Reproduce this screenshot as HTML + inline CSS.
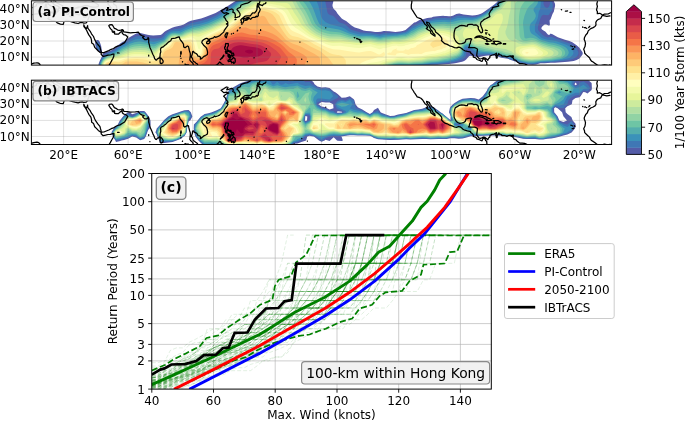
<!DOCTYPE html>
<html><head><meta charset="utf-8"><title>figure</title>
<style>html,body{margin:0;padding:0;background:#fff}svg{display:block}text{font-family:"DejaVu Sans","Liberation Sans",sans-serif;fill:#000}</style></head><body>
<svg width="685" height="421" viewBox="0 0 685 421">
<rect width="685" height="421" fill="#fff"/>
<clipPath id="clipa"><rect x="31.4" y="0.8" width="580.2" height="64.3"/></clipPath>
<g clip-path="url(#clipa)">
<path fill="#545ca8" d="M234.3,1.8 236,0.8 333.4,0.8 333.3,1.8 332.5,4.8 332.5,5.8 332.7,6.8 333.6,8.8 335.9,11.1 337.6,13.8 341.7,18.5 343.2,19.5 346.1,21.1 351.9,25.8 354.8,27.5 359.1,28.8 363.5,30.4 366.4,30.9 370.7,31.3 375.1,31.9 378,32.1 380.9,31.7 383.8,30.9 389.6,31.3 395.4,31.9 399.7,31.6 402.6,30.9 405.5,30.1 414.2,22.5 415.7,22.2 419.9,19.8 421.5,19.4 422.9,19.3 427.3,18.1 431.6,17.4 433.1,16.8 437.4,16.2 443.2,15.8 444.7,16.1 446.1,16 449,16.3 450.5,16.2 451.9,15.9 453.4,15.4 456.3,13.9 459.2,13.6 463.5,14.4 472.2,15.4 475.1,15.3 478,14.7 480.9,13.7 482.4,13 486.7,10.1 494,4.8 496.9,2.2 498.1,0.8 553.6,0.8 555,3.8 555.1,5.8 553.8,11.8 552.6,13.8 550.5,19.5 549.9,19.8 549.6,20.8 549.9,24.8 549.1,25.8 546.2,24.6 544.7,24.6 543.3,25.5 541.8,27.1 541.5,27.8 541.4,28.8 542.3,29.8 545.5,31.8 547.6,34.3 548.3,34.8 549.1,35 549.5,34.8 550.5,33.5 550.7,33.8 552,34.1 557.8,37.2 565,39.7 569.4,41 572.3,42.2 576.6,45.3 579.4,47.8 582.2,51.8 582.7,52.8 582.7,53.8 582.4,54.8 579.5,58.5 576.6,60.1 573.7,61 567.9,61.7 554.9,62.7 550.5,62.7 544.7,63.2 540.4,63.2 536,64.4 532.7,64.8 527.3,64.6 521.5,63.6 517.2,62.2 507.7,58.8 501.2,57.8 495.4,55.8 492.5,55.6 488.2,55.5 483.8,55.9 479.5,57.1 476.6,56.9 470.8,55.7 469.3,56.1 466.4,59.3 465,60.6 463.5,61.3 462.1,61.7 456.3,63 453.4,63.5 449,64 437.5,64.8 98.3,64.8 99.8,60.8 102.2,55.8 102.7,53.8 103.9,52.8 109.7,51.1 112.4,49.8 117,45.9 119.9,43.7 122.8,41.8 124.2,41.2 130,36.9 135.8,33.7 137.3,33.2 138.7,33 140.2,33.1 147.4,34.8 150.3,35.3 153.2,35.4 160.5,35.1 161.9,34.2 164.5,31.8 166,30.8 172.1,27.7 175,26.7 180.8,25.6 183.7,24.4 188.4,21.8 190.9,20.7 201.1,18.4 205.4,17.1 215.6,13.1 228.6,5.5 234.3,1.8ZM548.9,30.8 549.1,30.7 549.3,30.8 549.1,31.6 548.9,30.8ZM95.9,40.8 96.7,40 98.1,40 99,40.8 99.7,41.8 101.1,45.8 101.9,50.8 101.9,51.8 101,52.6 99.6,52.4 98.1,51.5 96.3,48.8 95.6,46.8 95.2,43.8 95.3,41.8 95.9,40.8Z"/>
<path fill="#3f77b5" d="M236.8,1.8 238.5,0.8 325.3,0.8 325.5,2.8 326.4,6.8 327.2,11.6 327.6,12.8 328.3,13.8 328.7,14.2 330.1,14.9 333,15.7 334.5,16.9 336.8,19.8 338.8,21.9 340.3,22.8 343.2,23.6 344.6,24.3 346.1,25.3 350.4,29.3 351.9,29.9 360.6,32.5 370.7,33 378,34.1 379.4,34.2 380.9,34 383.8,33.2 395.4,33.1 396.8,33.2 400.1,32.8 404.1,31.9 405.5,31.7 407,30.8 412.8,26 413.5,25.8 415.1,24.8 415.7,24.7 419.3,22.8 420,22.2 421.5,21.8 424.4,21.4 425.8,20.6 431.6,19.4 434.5,18.6 437.4,18.2 444.7,17.9 447.6,18.2 450.5,18.2 452.4,17.8 457.7,15.8 459.2,15.7 472.2,16.9 473.7,16.9 476.6,16.4 480.9,14.9 483,13.8 485.3,12.3 495.4,4.9 497.5,2.8 499.1,0.8 543.7,0.8 543.5,1.8 543.5,3.8 543.7,4.8 544.7,6.8 546.2,7.8 547.6,7.8 548.8,6.8 549.4,5.8 550,3.8 550.5,0.8 551.2,1.8 552,2.3 552.8,4.8 552.9,5.8 552,10.8 550.1,12.8 549.1,14.8 547.6,15.2 543.3,14.8 541.7,15.8 540.4,18.6 538.2,25.8 537.8,27.8 537.9,28.8 538.1,29.8 538.6,30.8 542.3,34.8 544.7,36.4 546.2,37.1 547.6,37.4 549.1,37.2 550.5,36.7 552,37 556.3,38.7 559.9,39.8 563.6,41.5 569.4,43.4 570.8,44.1 574.5,46.8 576.7,48.8 578.2,51.8 578.5,52.8 578.4,53.8 577.4,55.8 576.5,56.8 575.3,57.8 573.4,58.8 570.1,59.8 563.6,60.8 560.7,61 554.9,61.8 544.7,62.4 540.4,62.5 534.6,63.9 531.7,64.1 528.8,64 525.9,63.6 521.5,62.7 518.6,61.9 508.5,58.2 502.7,57.1 498.5,55.8 495.4,55.1 491.1,54.6 488.2,54.5 482.4,54.7 478,55.3 475.3,54.8 473.8,53.8 469.4,49.8 467.9,49 466.4,49.3 466.2,49.8 466.2,54.8 465.5,56.8 464.7,57.8 463.5,58.7 462.1,59.4 456.3,61.5 451.9,62.4 438.9,63.9 428.6,64.8 99,64.8 100.1,61.8 101.6,58.8 104.7,54.8 105.4,54.2 106.8,53.4 113.3,50.8 121.1,44.8 124.8,42.8 130,39.3 134.4,37.1 135.8,36.5 138.7,35.9 141.6,36.2 147.4,37.8 151.8,38.5 157.6,38.4 160.5,38.1 161.5,37.8 163.4,36.3 165.4,33.8 166.5,32.8 167.9,31.8 170.6,30.3 173.5,29.4 175,29.1 178.2,28.8 180.8,28.2 183.7,27 189.5,23.9 190.9,23.3 199.6,21.3 205.4,19.7 208.3,18.7 215.6,15.7 219,13.8 230.1,6.5 236.8,1.8ZM96.5,41.8 96.7,41.6 98.1,41.6 99.6,44 100,45.8 100.3,48.8 100.2,49.8 99.6,50.6 98.1,49.7 96.7,47.1 96.4,45.8 96.3,43.8 96.5,41.8Z"/>
<path fill="#3b92b9" d="M239.1,1.8 241,0.8 316.5,0.8 318.5,6 321.2,16.8 322.9,19.4 324.3,21 325.8,22.2 330.1,24.2 341.7,27.2 344.6,28.6 349,31.4 351.9,32.4 357.7,34 360.6,34.5 366.4,34.5 370.7,34.7 375.1,35.2 379.4,35.9 380.9,35.8 383.8,35.1 395.4,34.4 396.8,34.5 405.5,33.1 408,31.8 412.8,28.2 414.2,27.8 418.6,25.2 421.5,24.1 424.4,23.5 425.8,22.7 430.2,21.6 431.6,21 436,20.3 440.3,20 444.7,20 449,20.3 450.5,20.2 451.9,20 457.7,18.1 459.2,17.9 465,17.9 472.2,18.4 473.7,18.3 476.6,17.7 480.9,16 485.3,13.5 495.4,6.2 498.3,3.3 500.1,0.8 541,0.8 540.5,6.8 540.2,8.8 538.8,11.8 538.1,16.8 537.6,18.8 535,24.8 534.9,29.8 535.2,31.8 535.9,32.8 541.8,37.9 544.7,39 547.6,39.8 552,40.2 556.3,41.1 566.2,44.8 568.2,45.8 569.7,46.8 571.6,48.8 572.7,50.8 573.4,52.8 573.3,53.8 572.8,54.8 570.8,57 569.4,57.9 563.6,59.6 553.4,61.1 540.4,61.9 534.6,63.1 531.7,63.3 528.8,63.2 525.9,62.8 520.1,61.5 509.9,57.7 508.5,57.3 504.1,56.7 499.8,55.2 496.9,54.5 489.6,53.5 480.9,53.2 479.5,53.3 478,53.1 476.6,52.5 474.4,50.8 469.3,47.4 467.9,46.7 466.4,46.5 465.7,46.8 465,47.4 464.8,47.8 464.4,49.8 464.2,53.8 463.4,55.8 462.1,57.1 457.7,59.4 453.5,60.8 447.6,61.9 437.4,63.2 431.6,63.6 421.5,64.8 99.7,64.8 100.8,61.8 102.5,58.8 103.9,57.2 106.7,54.8 108.7,53.8 114.3,51.8 115.5,51.1 121.3,46.5 125.7,44.3 128.6,42.4 131.5,40.9 135.8,39.3 138.7,38.8 141.6,39.1 150.3,41.3 153.2,41.7 156.1,41.3 161.9,39.8 163.6,38.8 165.9,35.8 167.7,33.9 170.6,32.1 173.5,31.3 179.3,31 180.8,30.6 190.9,25.8 193.8,24.9 199.6,23.8 206.9,21.7 209.8,20.6 217,17.3 221.1,14.8 231.5,7.3 236,3.8 239.1,1.8Z"/>
<path fill="#54aead" d="M241.7,1.8 243.6,0.8 308.6,0.8 310.7,3.8 312.7,7.6 314.4,11.8 316.9,18.8 318.5,22.2 320,24.7 321.4,25.5 324.3,26.8 327.2,27.6 338.8,29.6 341.7,30.4 349.6,33.8 357.7,35.9 360.6,36.2 366.4,36 372.2,36.3 379.4,37.4 380.9,37.4 383.8,36.7 395.4,35.7 396.8,35.8 404.1,34.6 405.5,34.5 408.4,33.2 411.3,31 412.2,30.8 418.6,27.3 424.4,25.1 431.6,22.7 434.5,22.6 436,22.3 440.3,22 444.7,21.8 449,22.3 453,21.8 457.7,20.6 460.6,20.1 465,19.8 472.2,19.9 473.7,19.8 476.6,19.1 480.9,17.2 485.2,14.8 491.9,9.8 494.9,7.8 498.3,4.7 499.9,2.8 501.1,0.8 538.3,0.8 537.5,3.7 536.8,4.8 536,6 534.3,7.8 533.7,8.8 533.6,9.8 533.7,10.8 535.4,13.8 535.8,15.8 535.7,16.8 534.6,19.2 533.1,21 531.3,22.8 530.5,23.8 530.1,24.8 529.7,26.8 529.7,28.8 530,30.8 530.9,32.8 531.8,33.8 536,36.3 539.3,38.8 541.8,40.1 549.1,42.3 553.4,42.8 556.3,43.5 562.1,45.6 564.6,46.8 566.1,47.8 567.1,48.8 568.3,50.8 568.6,51.8 568.8,52.8 568.5,53.8 567.4,55.8 566.2,56.8 564.3,57.8 562.1,58.7 552,60.4 540.4,61.3 533.1,62.4 528.8,62.4 524.4,61.7 520.1,60.7 509.9,56.7 504.2,55.8 499.8,54.2 498.3,53.8 495.4,53.5 491.1,52.6 483.8,52 478,51 469.3,45.9 467.9,45.3 466.4,45.2 465,45.6 464.1,46.8 463.5,48.6 462.9,52.8 462,54.8 461.1,55.8 459.7,56.8 456.3,58.6 453.4,59.5 447.6,60.9 437.4,62.3 431.6,62.8 422.9,63.9 420,64.1 409.9,64.7 401.2,64.5 396.1,64.8 100.2,64.8 101.4,61.8 102.5,59.8 103.9,58.2 106.8,55.9 109.7,54.4 115.5,52.5 122.8,47.4 125.7,46.2 130,43.8 134.4,42.2 138.7,41.5 140.2,41.5 144.5,42.2 151.8,44.1 153.2,44.3 154.7,44.1 156.1,43.6 163.4,40.6 164.8,39.4 167.7,35.7 169.2,34.4 170.6,33.5 172.1,33 173.5,32.8 179.3,32.8 180.8,32.5 185.1,30.3 192.4,27.4 195.3,26.7 199.6,25.9 208.3,23.3 218.2,18.8 221.4,16.9 227.2,12.6 233,8.2 238.2,3.8 241.7,1.8Z"/>
<path fill="#6ec5a5" d="M244.8,1.8 246.4,0.8 302.5,0.8 305.9,4.8 308.4,8.8 310.4,12.8 314.2,21.8 315.3,23.8 316.9,25.8 318,26.8 321.4,28.9 324.3,30.1 330.1,31.5 335.9,31.9 340.3,32.4 349,35.5 357.7,37.4 360.6,37.7 366.4,37.3 370.7,37.4 373.6,37.7 379.4,38.7 380.9,38.7 383.8,38.1 395.4,37 396.8,37 404.1,35.9 405.5,35.9 408.4,34.7 411.3,32.9 412.8,32.5 418.6,29.2 430.2,24.8 440.3,23.9 444.7,23.8 447.6,24.3 451.9,24.1 454.8,23.7 460.6,22.4 465,21.7 472.2,21.4 475.1,21 476.6,20.5 479.5,19.2 485.3,16 488.2,14 492.2,10.8 497.7,6.8 500.4,3.8 502.3,0.8 535,0.8 533.1,2.9 529.7,5.8 527.4,8.8 526.4,10.8 524.4,16.1 523.3,20.8 523,23.8 524.5,37.8 525.9,38.4 530.2,37.7 533.1,38 536,39.1 541.8,41.9 547.6,43.8 554.9,45.2 559.2,46.6 561.6,47.8 564.1,49.8 565.1,51.8 565.2,52.8 565.1,53.8 564.7,54.8 564,55.8 562.1,57.3 560.7,57.9 550.5,59.8 544.7,60.2 533.1,61.6 528.8,61.6 524.4,60.9 520.1,59.8 509.9,55.7 504.4,54.8 498.3,52.8 495.4,52.5 489.6,51.3 485.3,50.9 480.9,50 479.5,49.4 478,49.2 475.1,47.8 469.3,44.6 467.9,44.1 466.4,44.1 465,44.4 463.5,45.8 462.8,47.8 462,51.8 461.7,52.8 460.6,54.4 458.9,55.8 454.8,57.8 447.6,59.7 446.1,59.8 437.4,61.4 430.2,62 421.5,63.3 409.9,64 399.7,63.7 395.4,64.1 392,64.8 100.7,64.8 101.9,61.8 103.2,59.8 104.1,58.8 106.8,56.8 109.7,55.4 115.5,53.7 117.2,52.8 122.8,49.2 131.5,45.3 134.4,44.5 138.7,43.9 140.2,43.9 146,44.6 151.8,46.3 153.2,46.5 154.7,46.2 159.2,43.8 163.5,41.8 164.8,40.8 167.7,37.3 169.1,35.8 170.6,34.7 172.1,34.1 175,33.8 179.3,34.2 180.8,34 182.2,33.4 185.1,31.8 188,30.6 193.8,28.8 199.6,27.7 201.1,27.3 208.3,25.1 211.2,23.9 219.7,19.8 221.4,18.8 233,10.2 239,4.8 240.2,4 244.8,1.8Z"/>
<path fill="#91d3a4" d="M248.1,1.8 249.4,0.8 298.7,0.8 300.6,3.8 304,8.6 305.9,11.8 308.5,16.8 311.3,23.1 312.3,24.8 315.6,28.2 320,31.2 322.9,32.3 327.2,33.5 331.6,34.2 335.9,34.3 340.3,34.7 349,37.2 357.7,38.8 360.6,39 366.4,38.6 370.7,38.6 378,39.8 380.9,39.9 383.8,39.4 385.2,39.4 393.9,38.3 398.3,38.1 404.1,37.2 405.5,37.2 409.3,35.8 412.8,34.2 418.6,30.8 424.4,28.8 428.7,26.9 430.2,26.5 436,25.9 443.2,25.6 447.6,26.2 453.4,26.1 456.3,25.7 462.1,24 465,23.4 467.9,23.1 473.7,22.8 475.1,22.6 478,21.4 486,16.8 488.2,15.4 492.5,11.8 497,8.8 499.3,6.8 500.2,5.8 501.7,3.8 503.5,0.8 525.1,0.8 522.2,4.8 520.6,7.8 519.8,10.8 519.1,15.8 518.8,21.8 519.3,29.8 519.5,34.8 519.8,36.8 520.9,38.8 521.9,39.8 523,40.4 524.4,40.8 525.9,40.9 531.7,40.1 534.6,40.5 536,40.9 541.8,43.5 544.7,44.5 549.1,45.9 553.4,46.7 556.3,47.7 559.2,48.9 560.7,50 561.4,50.8 561.9,51.8 562.1,53.8 561.8,54.8 561.3,55.8 560.7,56.4 559.7,56.8 551.1,58.8 544.7,59.4 540.4,60.1 533.1,60.8 528.8,60.8 524.4,60.1 521.5,59.4 518.6,58.4 511.4,55 509.9,54.5 505.6,53.9 501.2,52.3 498.3,51.6 495.4,51.4 491.1,50.3 485.3,49.3 482.4,48.6 479.5,47.7 478,47.6 475.1,46.5 469.3,43.3 467.9,42.9 466.4,42.9 465,43.2 463.5,44.2 463,44.8 462.2,46.8 461,51.8 460.5,52.8 459.5,53.8 458.2,54.8 456.3,55.8 450.5,57.8 446.4,58.8 444.7,59 437.4,60.5 430.2,61.1 421.5,62.5 414.2,62.8 408.4,63.3 402.6,62.9 398.3,63 393.9,63.6 389.3,64.8 101.2,64.8 102,62.8 103.1,60.8 103.9,59.8 106.8,57.6 109.7,56.3 117,54.1 124.2,50 130,47.7 134.4,46.6 140.2,46.1 146,46.5 151.8,48.2 153.2,48.4 154.7,48.1 156.1,47.4 159.7,44.8 164.8,42 166.3,40.6 169.5,36.8 170.6,35.9 172.1,35.2 175,34.7 179.3,35.2 180.8,35.2 182.2,34.7 185.1,33.1 188,31.9 193.8,30.3 201.1,28.9 211.2,25.5 222.5,19.8 234.4,11.1 240.2,5.7 246,3 248.1,1.8Z"/>
<path fill="#b1dfa3" d="M251.5,1.8 252.9,0.8 295.6,0.8 298.2,5.8 303.9,14.8 308.8,24.8 309.8,26 313.9,29.8 316.7,31.8 318.5,32.8 322.9,34.7 328.7,36.2 331.6,36.6 337.4,36.5 340.3,36.8 349,38.7 356.2,40 360.6,40.2 367.8,39.7 370.7,39.7 378,41 380.9,41.1 383.8,40.7 385.2,40.8 392.5,39.6 398.3,39.4 405.5,38.6 412.8,35.9 418.6,32.5 424.4,30.5 427.3,29.1 431.6,28 437.4,27.5 443.2,27.4 444.7,27.7 450.5,28.3 454.8,28.4 457.7,27.8 462.4,25.8 465,25 467.9,24.6 472.2,24.5 475.1,24.2 476.6,23.7 479.5,22.3 483.1,19.8 488.2,16.9 493,12.8 499.1,8.8 500.2,7.8 501.9,5.8 505.1,0.8 517.7,0.8 515.5,2.8 515.1,3.8 514.9,5.8 514.1,20.8 514.8,37.8 515.4,38.8 520.8,41.8 523,42.5 525.9,42.7 531.7,41.9 534.6,42.2 536,42.6 541.8,45.2 544.7,46.2 553.5,48.8 557,50.8 557.8,51.5 558.1,51.8 558.5,52.8 558.4,53.8 557.8,54.9 553.6,56.8 550.5,57.9 546.2,58.3 538.9,59.5 531.7,60.1 527.3,59.8 523,59 519.6,57.8 514.3,55.2 511.4,53.6 508.5,52.7 505.6,52.3 501.2,50.7 495.4,50 480.9,46.3 479.5,46 478,46.1 475.1,45.2 470.8,42.5 469.3,41.9 467.9,41.7 466.4,41.7 465,41.9 463.5,42.6 462.4,43.8 461.6,45.8 460.3,50.8 459.2,52.6 457.7,53.7 456.3,54.4 450.5,56.5 446.1,57.6 444.7,57.7 437.4,59.3 428.7,60.2 421.5,61.6 414.2,62 408.4,62.5 402.6,62 398.3,62.1 391,63.4 389.6,63.8 387,64.8 101.7,64.8 102.5,62.8 103.7,60.8 105.4,59.2 106.8,58.4 109.7,57.1 117.8,54.8 122,52.8 124.2,51.6 128.6,49.8 132.9,48.7 140.2,48 146,48.3 150.3,49.7 151.8,50 153.2,50.1 154.7,49.8 156.1,49 160.1,45.8 165.1,42.8 166.3,41.8 169.7,37.8 170.6,37 172.1,36.1 173.5,35.7 175,35.5 179.3,36.1 180.8,36.1 182.2,35.8 186.6,33.6 189.5,32.5 201.1,30.4 205.4,29.1 211.2,27 223.5,20.8 236.2,11.8 238.5,9.8 240.4,7.8 241.7,6.8 248.6,3.8 251.5,1.8Z"/>
<path fill="#cdeb9d" d="M255.4,1.8 258.3,0.8 292.1,0.8 295.6,7.8 301.1,16.3 304.3,22.8 306.3,25.8 310.4,29.8 312.9,31.8 317.1,34.4 321.4,36.3 327.2,38 330.1,38.6 340.3,38.8 356.2,41.4 362,41.5 369.3,40.8 370.7,40.8 376.5,42.1 380.9,42.4 386.7,41.9 392.5,40.7 396.8,40.8 399.7,40.7 407,39.3 412.8,37.6 415.7,36.2 417.1,34.9 420,33.6 427.3,30.9 431.6,29.8 437.4,29.1 443.2,29.2 454.8,31 456.3,31 459.2,30.5 460.6,29.7 462.6,27.8 465,26.6 466.4,26.3 472.2,26.2 475.1,25.8 478,25 480.2,23.8 483.9,20.8 487.7,18.8 489.3,17.8 494,13.6 500.7,9.8 501.8,8.8 504.1,5.5 508.1,0.8 511.3,0.8 510.8,2.8 510.9,7.8 510.5,9.8 509.1,15.8 507.8,23.8 506.7,27.8 505.6,30.8 505.4,31.8 505.6,33.8 506.9,36.8 508.2,38.8 509.5,39.8 511.6,40.8 515.7,42.1 518.6,43.4 521.5,44.2 523,44.4 525.9,44.3 531.7,43.6 533.1,43.6 536,44.3 543.3,47.4 550.5,49.8 552.2,50.8 553.2,51.8 553.7,52.8 553.5,53.8 552.8,54.8 551.6,55.8 550.5,56.3 549.1,56.8 544.7,57.4 540.4,58.5 531.7,59.2 528.8,59.1 525.9,58.8 523,58.1 519.8,56.8 514.4,53.8 511.4,51.3 509.6,50.8 505.6,49.1 501.2,48.4 495.4,47.8 491.4,46.8 483.8,44.5 480.9,44.2 479.5,44.1 478,44.3 476.6,44.1 475.1,43.7 470.8,40.8 469.3,40.3 467.9,40.2 465,40.4 463.5,40.7 462.1,41.6 461.3,42.8 461,43.8 460.4,46.8 459.5,49.8 459.1,50.8 457.7,52.2 453.4,54 447.6,55.8 436,58.3 434.5,58.3 428.7,59.1 421.5,60.6 414.2,61 408.4,61.6 401.2,61 396.8,61.3 388.1,63.2 384.9,64.8 102.2,64.8 103,62.8 103.9,61.3 105.4,59.9 106.8,59.1 109.7,57.9 118.4,55.7 128.6,51.4 132.9,50.5 140.2,50 146,50.3 150.3,51.6 151.8,51.8 153.2,51.7 154.7,51.3 156.1,50.6 160.5,46.7 166.3,42.9 169.9,38.8 172.1,37 173.5,36.5 175,36.3 179.3,36.9 180.8,37 181.8,36.8 189.5,33.5 190.9,33.2 196.7,32.7 199.6,32.2 205.4,30.6 211.2,28.4 214.1,27.1 224.5,21.8 237.7,12.8 243.1,8.2 246,6.8 248.9,5.7 255.4,1.8Z"/>
<path fill="#e7f59a" d="M263.4,1.8 266.3,1.5 269.2,1.5 279.4,2.8 286.6,3 288.1,3.5 289.5,4.8 291,6.9 294.2,12.8 298.2,18.6 301,23.8 302.7,25.8 305.8,28.8 310.7,32.8 315.6,35.8 320,37.8 327.2,40 330.1,40.5 333,40.8 340.3,40.6 356.2,43 363.5,42.9 369.3,42.2 370.7,42.2 375.1,43.3 378,43.7 385.2,43.6 386.7,43.5 392.5,42.1 398.3,42.2 404.1,41.6 412.8,39.3 415.7,38 417.1,37.1 421.5,34.8 427.3,32.7 430.2,31.9 431.6,31.5 437.4,30.8 443.2,31 449,32.1 451.7,32.8 455.8,34.8 457.7,36.2 458.6,37.8 459.4,40.8 459.5,44.8 459.2,47.5 457.7,50.2 456.3,51.1 444.7,55.2 443.2,55.2 436,56.9 434.5,56.9 427.3,58.1 421.5,59.5 415.7,59.8 408.4,60.6 401.2,59.9 396.8,60.3 393.9,61 388.1,62.1 386.7,62.5 383.9,63.8 382.5,64.8 102.7,64.8 104.1,61.8 105.4,60.5 106.8,59.7 109.7,58.7 118.4,56.8 130,52.8 134.4,52.1 138.7,51.9 144.5,52.1 148.9,53.2 151.8,53.7 153.2,53.6 154.7,53.1 156.1,52.2 157.6,50.9 160.5,47.9 161.8,46.8 166.5,43.8 167.7,42.7 170.6,39.2 172.4,37.8 173.5,37.3 175,37.1 179.3,37.7 180.8,37.8 182.2,37.6 185.1,36.6 189.5,34.6 190.9,34.3 195.3,34.4 198.2,34.2 202.5,33.1 206.9,31.6 214.1,28.5 225.7,22.8 233,17.7 238.8,14.1 243.1,10.4 245.6,8.8 250.4,6.8 254.7,4.2 256.2,3.5 259.1,2.6 263.4,1.8ZM497.6,13.8 499.8,13.6 501.2,13.6 501.5,13.8 502.3,14.8 502.7,15.8 502.9,18.8 502.3,21.8 501.2,24.5 499,28.8 498.3,30.8 497.6,36.8 497.6,41.8 497.4,42.8 496.4,43.8 495.4,44.1 494,43.8 492.5,43.1 489.6,42.3 486.7,41.5 485.3,41.4 480.9,41.2 479.5,41.3 478,41.9 476.6,41.9 475.1,41.4 473.6,39.8 472.2,38.8 470.8,38.2 469.3,38 465,38.2 464.1,37.8 463.4,36.8 462.8,33.8 463.3,31.8 465,28.7 466.4,28.3 472.2,28.7 473.7,28.5 475.1,28 478,27.7 479.5,27.2 482.4,25.4 485.3,22.3 489.6,20 491.1,18.9 495.4,14.7 497.6,13.8ZM526.5,45.8 530.2,45.2 533.1,45.1 536,45.8 546.1,50.8 547.5,51.8 548.1,52.8 548,53.8 547.1,54.8 542.5,56.8 540.4,57.5 538.9,57.8 534.6,58.1 528.8,58.2 525.3,57.8 522.3,56.8 520.3,55.8 517.5,53.8 516.3,52.8 515.6,51.8 515.3,49.8 515.5,48.8 516.1,47.8 517.2,47 520.1,46.3 526.5,45.8Z"/>
<path fill="#f3faac" d="M262.2,3.8 266.3,3.4 270.7,3.8 280.7,5.8 283.7,6.7 285.2,7.4 286.6,8.5 288.1,10.2 292.4,17.8 297.4,24.8 305.7,31.8 309.8,34.8 313.4,36.8 318,38.8 325.8,41.6 328.7,42.4 333,43.1 340.3,42.7 344.6,43.5 350.4,44 353.3,44.6 356.2,45 363.5,44.7 369.3,44 370.7,44 376.5,45.4 380.9,45.6 383.8,45.3 385.2,45.6 393.9,43.6 399.7,43.9 404.1,43.5 414,40.8 415.7,40.1 417.1,39.1 422.9,36.4 425.8,35.1 428.7,34.2 431.6,33.4 433.1,33.4 436,32.8 438.9,32.7 443.2,32.9 446.1,33.5 449,34.5 451.9,35.9 454.1,37.8 456.3,40.8 457.6,43.8 457.7,44.8 457.7,46.2 457,47.8 456,48.8 454,49.8 450.5,51 444.7,53.4 443.2,53.4 441.8,54 436,55.3 427.3,56.6 421.5,58 415.7,58.5 408.4,59.4 401.2,58.6 396.8,59 393.9,59.9 388.1,60.7 385.2,61.5 382.3,62.7 378.6,64.8 103.3,64.8 104.1,62.8 105.4,61.2 106.8,60.4 108.3,59.8 111.2,59.2 117,58.3 131.5,54.3 134.4,53.9 140.2,53.9 144.5,54.2 147.4,54.9 151.8,55.5 153.2,55.6 154.7,55.3 156.1,54.2 161.9,47.9 167.7,43.9 171.2,39.8 172.1,39 173.5,38.1 175,37.8 179.3,38.4 182.2,38.4 185.1,37.7 189.5,35.9 190.9,35.7 192.4,35.7 196.7,36.6 198.2,36.7 199.6,36.5 214.1,30 219.9,27 226.8,23.8 228.6,22.7 233.8,18.8 240.2,15 244.6,11.3 247.1,9.8 250.4,8.3 256.2,5.3 259.1,4.4 262.2,3.8ZM530.5,46.8 533.1,46.7 534.6,46.9 536.8,47.8 541.3,50.8 542.5,51.8 543.1,52.8 543.1,53.8 542.3,54.8 540.9,55.8 538.9,56.5 534.6,57 527.3,57 524.4,56.6 522.7,55.8 521.2,54.8 519.5,52.8 519.1,51.8 519.2,50.8 519.6,49.8 520.9,48.8 523.8,47.8 530.5,46.8Z"/>
<path fill="#fffebe" d="M260.1,5.8 264.9,5.3 267.8,5.5 275,6.9 279.4,8.5 282,9.8 284.5,11.8 286,13.8 289.5,20.8 291.2,23.8 293,25.8 295.3,27.7 299.7,30.4 305.8,34.8 309.8,37.3 317.1,40.3 320,41.1 325.8,44 330.1,45.5 333,45.9 340.3,45.8 354.8,47.7 359.1,48.1 360.6,48 369.3,46.5 370.7,46.4 379.4,49.2 380.9,49 383.8,47.7 385.2,48.2 392.5,46.1 395.4,45.7 396.8,45.5 398.3,46.2 401.2,46.2 404.1,45.9 405.5,45.2 407,45 411.3,43.8 412.8,43.7 414.2,43.3 415.7,42.7 417.1,41.5 420,40.3 425,37.8 430.4,35.8 431.6,35.4 436,34.8 438.9,34.7 443.2,35 444.7,35.4 447.6,36.5 450,37.8 451,38.8 453,41.8 453.8,43.8 453.8,44.8 453.4,46.2 451.4,47.8 445.5,50.8 444.7,51.2 443.2,51.2 441.8,52 434.5,53.8 433.1,53.7 428.7,54.4 421.5,56.3 414.2,57 408.4,58 402.6,57 398.3,57 396.8,57.3 393.9,58.4 392.5,58.7 386.7,59.1 385.2,59.4 383.8,59.7 380.9,60.9 376.5,62.1 369.3,63.1 367.5,63.8 365.7,64.8 103.8,64.8 104.8,62.8 105.4,62 106.8,61.1 108.3,60.6 111.2,60 115.5,59.7 118.4,59.2 124.2,57.6 127.1,57.1 131.5,56 134.4,55.7 140.2,55.8 144.5,56.1 151.8,57.3 154.7,57.3 156.1,56.7 156.9,55.8 160.5,50.8 162.3,48.8 163.4,47.8 168.1,44.8 169.2,43.8 172.3,39.8 173.5,39 175,38.6 182.2,39.3 185.3,38.8 190.9,37.2 192.4,37.6 194.4,38.8 195.6,39.8 196.2,40.8 198.2,48.5 199.6,49.4 200.5,45.8 201.4,39.8 201.8,38.8 203.9,36.8 209.8,33.5 228.6,24.6 230.1,23.6 234.8,19.8 237.3,18.2 240.2,16.8 245.1,12.8 247.5,11.3 256.2,6.9 260.1,5.8ZM528.9,48.8 533.1,48.5 534.9,48.8 536.2,49.8 537.9,51.8 538.3,52.8 538.1,53.8 536.4,54.8 534.6,55.2 530.2,55.7 527.3,55.8 525.9,55.7 524.4,55.2 523.6,54.8 522.5,53.8 522,52.8 522,51.8 523,50.5 524.4,49.7 528.9,48.8Z"/>
<path fill="#fff0a6" d="M258.1,7.8 262,7.1 264.9,7.1 266.3,7.3 273.6,9 276,9.8 278,10.8 280.9,12.8 282.8,14.8 283.9,16.8 288.1,25.8 290.1,28.8 291,29.7 292.3,30.8 294.2,31.8 299.7,34.1 306.9,38.1 318.5,43.2 327.2,47.5 333,49.3 335.9,49.6 340.3,49.7 347.5,51.1 356.2,52.3 359.1,52.4 366.4,51.3 370.7,51.1 373.6,52 378,54.2 379.4,54.4 380.9,54.1 383.8,52 384.5,52.8 384.9,53.8 385,54.8 384.7,55.8 382.3,57.1 378,57 373.3,58.8 366.4,60.4 361.4,62.8 358.9,64.8 104.5,64.8 105.5,62.8 106.8,61.9 108.3,61.4 112.4,60.8 118.4,60.5 121.3,59.9 125.7,58.5 131.5,57.6 135.8,57.3 143.1,57.6 146,58 151.8,59.1 153.2,59.1 156.1,58.4 157.2,57.8 158.2,56.8 161.2,51.8 163.4,49.1 164.8,48 168.6,45.8 170.5,43.8 172.6,40.8 173.5,40 175,39.5 176.4,39.5 182.2,40.3 190.9,39.3 191.7,39.8 192.8,40.8 193.8,42.8 194.5,44.8 195.5,49.8 196.6,52.8 198.2,54.3 199.6,54.8 201.1,53.8 201.5,52.8 203.3,41.8 204.1,39.8 204.7,38.8 205.7,37.8 208.3,36 212.4,33.8 230.1,25.5 235.9,20.7 237.3,19.7 242.5,16.8 247.5,13 255.6,8.8 258.1,7.8ZM436.5,36.8 438.9,36.7 443.2,37.5 445.5,38.8 447.6,40.8 448.6,42.8 448.6,43.8 448.2,44.8 447.5,45.8 446.5,46.8 444.7,48 443.2,48.2 441.8,49.3 437.4,50.1 434.5,51.3 433.1,51.1 425.8,51.9 424.4,52.4 421.5,53.9 420,54.1 418.6,53.8 411.3,53.9 409.9,54.2 409.2,54.8 408.4,55.1 407.6,54.8 407,54.2 404.1,53.4 402.6,53.1 399.7,53.1 398.3,53.2 396.8,53.5 395.4,55.4 392.5,55.3 387.8,54.8 386.9,53.8 388.6,52.8 389.6,52.6 391,52.7 392.2,50.8 393.4,49.8 396.8,48.5 397.1,48.8 396.4,49.8 396.8,50.3 399.7,50.7 402.6,50.8 404.1,50.6 405.5,49.2 407,49.7 408.4,49.7 411.3,47.9 412.8,48.1 415.7,47.1 417.1,44.9 418.6,44.6 425.8,40.4 431.6,37.9 436.5,36.8ZM525.2,52.8 525.9,52.2 527.3,51.9 528.9,52.8 527.3,53.4 525.9,53.5 525.2,52.8Z"/>
<path fill="#fee18d" d="M261.4,8.8 263.4,8.8 264.9,9 271.9,10.8 274.2,11.8 275.9,12.8 278.6,14.8 279.4,15.8 283.1,23.8 286.3,29.8 289.2,33.8 291,35.3 292.4,35.9 298.2,37.3 309.8,41.6 314.2,44.2 321.4,47.9 330.1,53.3 333,54.2 337.4,55.1 338.8,55.1 340.3,55.4 341.2,55.8 342.8,56.8 343.9,57.8 345.4,59.8 345.7,60.8 346,64.8 105.2,64.8 105.8,63.8 106.8,62.8 108.3,62.3 109.7,62 114.1,61.8 115.5,61.8 117,62.1 118.4,62.2 119.9,62 121.3,61.7 125.7,59.9 127.1,59.6 137.3,58.9 146,59.8 148.9,60.7 151.8,61.4 153.2,61.3 156.1,60.4 157.6,59.8 158.8,58.8 159.7,57.8 160.8,55.8 162.1,52.8 163.4,50.8 164.8,49.4 168.1,47.8 169.6,46.8 171.4,44.8 173.5,41.4 175,40.5 177.9,40.7 182.2,41.5 189.5,41.7 190.9,42.1 192.4,44.6 193.8,50.8 195.3,54 196.7,55.4 198.2,56 199.6,56.2 200.8,55.8 201.9,54.8 202.6,53.8 202.9,52.8 204.3,44.8 205.1,41.8 206.1,39.8 206.9,38.8 208.2,37.8 215.6,33.8 230.1,27.3 232.3,25.8 238.1,20.8 243.6,17.8 248.9,13.9 257.6,9.6 259.1,9.1 261.4,8.8ZM435.8,39.8 437.4,39.4 438.9,39.6 441,40.8 442,41.8 442.2,42.8 442.1,43.8 441.5,44.8 440.3,45.5 434.5,47.2 433.1,47.9 431.6,46.2 430.8,45.8 430.3,44.8 430.4,43.8 432.1,41.8 433.1,40.9 435.8,39.8Z"/>
<path fill="#feca79" d="M260.1,10.8 262.7,10.8 267.8,12 270.7,13.2 272.8,14.8 275.2,17.8 278.9,24.8 282.8,30.8 286.3,35.8 288.1,37.8 289.5,38.8 291,39.3 295.3,40.2 299.7,40.7 301.1,41.3 306,43.8 311,46.8 320,51 329.1,58.8 331.6,62.6 333.5,64.8 157.9,64.8 160.5,61.6 161.5,59.8 162.6,56.8 163.5,53.8 164.5,51.8 166.3,50.6 170.6,48.8 172,47.8 172.8,46.8 174.7,42.8 175,42.5 176.4,42 177.9,42.1 182.2,43.1 186.6,43.8 189.5,44.7 190.5,45.8 190.9,46.5 191.9,50.8 192.7,52.8 193.7,54.8 194.6,55.8 196.1,56.8 198.2,57.4 199.6,57.3 201.1,56.9 202.6,55.8 203.8,53.8 204.4,51.8 205.6,44.8 206.2,42.8 207.2,40.8 209.1,38.8 217,34.6 227.2,30.4 231.5,28.3 235,25.8 239.4,21.8 245.4,18.8 249,15.8 257.6,11.7 260.1,10.8ZM125.6,61.8 127.1,61.4 131.5,61.6 137.3,61.4 143.1,62.6 150.5,64.8 119.2,64.8 121.3,64.3 122.8,63.7 125.6,61.8ZM107.2,63.8 108.3,63.3 109.7,63.1 111.2,63.1 112.6,63.4 115.5,64.6 116.5,64.8 106.2,64.8 106.8,64 107.2,63.8Z"/>
<path fill="#fdb365" d="M261.7,15.8 262,15.7 263.4,15.9 265,16.8 266.3,18.4 268.6,22.8 270.1,24.8 273.6,27.2 276.5,29.8 280.8,34.1 284.8,38.8 286.6,40.4 292.4,43.6 298.2,45.5 301.1,46.7 308.4,50.8 314.3,53.8 318.8,56.8 319.6,57.8 320,58.8 320,64.8 178.6,64.8 178.9,61.8 180,54.8 180.3,53.8 181.1,52.8 182.2,50.2 183.7,48.6 185.1,48.3 186.6,48.6 188,49.7 189.5,51.4 191.8,55.8 192.7,56.8 194,57.8 195.3,58.3 198.2,58.6 201.1,58.1 201.8,57.8 203.3,56.8 204.1,55.8 204.7,54.8 205.3,52.8 206.5,46.8 207.3,43.8 208.3,41.7 209.8,40 219.9,34.8 227.2,32.2 232.6,29.8 235.8,27.8 238.3,25.8 240.2,24 241.7,23.1 248.9,20.8 250.2,19.8 251.8,17.7 254.3,16.8 256.2,16.4 257.6,16.2 260.5,16.4 261.7,15.8ZM108,64.8 109.7,64.5 111.4,64.8 108,64.8Z"/>
<path fill="#fa9656" d="M242.1,27.8 243.1,27.5 244.6,27.4 246,27.6 250.4,29.3 251.8,29.6 259.1,29.7 263.4,30.5 267.8,31.8 272.1,33.6 275,35 277.9,37 289.5,47.3 291,48.3 299.7,52.4 303.7,54.8 306.2,56.8 306.9,57.8 307.2,58.8 304.7,64.8 185.9,64.8 188,60.4 189.5,59.9 193.8,60.4 198.2,60.1 202.5,58.9 204,57.9 204.9,56.8 205.9,54.8 208.3,44.8 209.8,42.3 211.2,41.1 219.9,36.8 230.1,33.3 234.4,31.4 238.8,29.1 242.1,27.8Z"/>
<path fill="#f57547" d="M239.3,32.8 241.7,32.6 243.1,32.7 250.4,34.8 254.7,35.1 264.9,36.4 269.2,37.7 275,40.2 280.8,44 283.9,46.8 288.1,51.3 289.5,52.6 292.7,54.8 295,56.8 296.5,58.8 296.8,59.8 296.8,61.8 296.4,64.8 192.5,64.8 193.8,63.9 195.3,63.2 198.2,62.4 202.5,60.7 204,60 205.4,58.7 206,57.8 206.9,55.8 208.3,49.5 209.5,45.8 210,44.8 211.2,43.5 212.7,42.5 217,40.6 220.3,38.8 222.8,37.8 226.1,36.8 230.1,35.9 235.9,33.7 239.3,32.8Z"/>
<path fill="#e95c47" d="M235.8,36.8 238.8,36.5 243.1,36.7 262,39.5 266.3,40.6 273.6,43.8 279.4,47.2 280.8,48.5 287.3,56.8 287.8,57.8 288,58.8 287.9,59.8 287,62.8 286,64.8 199.9,64.8 204,62.9 205.4,61.8 206.9,60.2 208,57.8 208.7,54.8 209.2,51.8 209.8,49.6 211.2,46.9 212.7,45.5 214.1,44.7 219.9,42.8 222.8,40.7 225.7,39.4 235.8,36.8Z"/>
<path fill="#da464d" d="M234.2,39.8 237.3,39.5 244.6,39.8 250.4,40.8 259.1,41.9 262,42.6 264.9,43.5 269.2,45.6 276.4,50.8 279.4,54.1 280.6,55.8 281,56.8 280.9,57.8 276.6,64.8 210,64.8 210.6,61.8 210.9,54.8 211.2,52.8 211.6,51.8 212.7,50.3 214.1,49.3 215.6,48.9 218.5,48.6 219.9,47.5 220.4,46.8 224.1,43.8 227.2,41.8 230.1,40.5 234.2,39.8Z"/>
<path fill="#c52c4b" d="M234.2,42.8 238.8,42.3 243.1,42.4 250.4,43.8 257.6,44.6 261.7,45.8 263.9,46.8 265.5,47.8 270.7,52.7 271.1,53.8 271.1,54.8 270.8,55.8 268.9,58.8 267.8,60.1 266.3,61 263.4,61.7 256.9,62.8 249.9,64.8 240.1,64.8 229.1,61.8 227.2,60.8 226.1,59.8 225.2,57.8 224.8,55.8 224.7,53.8 224.8,51.8 225.1,49.8 226,47.8 227.6,45.8 229.1,44.8 231.2,43.8 234.2,42.8Z"/>
<path fill="#ab0f45" d="M237.2,45.8 240.2,45.2 241.7,45.3 250.4,46.8 254.7,47.2 257.6,47.8 260.3,48.8 261.7,49.8 262.5,50.8 263,51.8 263.1,52.8 262.7,53.8 261.8,54.8 259.1,56.2 256.2,57.1 253.3,57.3 250.4,56.8 247.5,57.4 244.6,57.6 243.1,57.4 240.2,56.7 235.9,56.4 234.4,56.2 233,55.6 231.5,54.5 230.5,52.8 230.5,51.8 231.2,49.8 232.8,47.8 234.4,46.8 237.2,45.8Z"/>
<path fill="#9e0142" d="M248.1,49.8 250.4,49.8 251.8,50.3 252.7,50.8 253.1,51.8 252.5,52.8 250.4,53.5 248.9,53.5 247.5,53.1 246.6,52.8 245.1,51.8 245.2,50.8 248.1,49.8Z"/>
<path d="M63.6,0.8V65.1M128.1,0.8V65.1M192.6,0.8V65.1M257.0,0.8V65.1M321.5,0.8V65.1M386.0,0.8V65.1M450.4,0.8V65.1M514.9,0.8V65.1M579.4,0.8V65.1M31.4,57.1H611.6M31.4,41.0H611.6M31.4,24.9H611.6M31.4,8.8H611.6" stroke="#808080" stroke-opacity="0.35" stroke-width="0.7" fill="none"/>
<path d="M87.6,25.7 87.8,28.1 90.2,31.3 91.5,33.8 93.5,36.5 94.6,39.4 95.9,41.8 97.8,44.5 99.9,46.9 100.5,49.3 101.2,51.8 101.5,52.7 103.9,52.6 106.3,51.6 108.8,50.6 111.2,49.3 113.6,48.5 115.5,47.1 117.6,46.1 120,45.5 122.5,43.9 124.6,42.6 126,40.2 127.8,37 125.8,35.2 123.6,34.6 122.3,33.3 122.1,31 121.7,31.5 120.4,32.3 118.4,34.2 116,34.2 114.6,33.9 114.6,31.7 113.9,31.2 113.3,32.6 112.3,31.7 112.1,30.2 110.7,28.9 109.6,27.3 108.8,25.7 109.6,24.9 111.2,24.6 112.3,24.9 113.3,26.5 114.4,28.3 116,28.9 117.6,30.1 119.2,30.4 120.8,30.1 122.3,29.6 123.3,30.2 123.8,32 125.7,32.1 127.3,32.3 130.5,32.8 132.9,32.6 135.4,32.5 138.3,32.1 139.1,33.1 140.2,34.6 141.3,35.2 142.3,35.8 144.2,36.3 142.9,37.1 142.6,37.5 144.7,39.5 146.6,39.5 147.8,38.9 148.1,37.5 148.7,38.6 148.7,41 148.7,42.6 149.4,45 149.9,47.4 151,49.8 152,52.2 152.8,54.2 153.9,56.3 154.7,58.7 155.8,60 156.5,60.1 157.4,58.8 158.9,58.2 160,56.6 160.2,53.8 160.8,51.8 160.5,49 161.3,47.6 163.6,46.6 164.2,45.8 166,44.5 168.4,42.1 170.8,40.7 171.6,38.6 173.6,38.3 175.3,38.1 177.3,37.3 178.9,36.8 179.4,37.3 180,39.4 181.3,41 182.6,42.6 183.5,44.2 183.7,46.9 185,47.7 186.1,46.9 187.4,46 188.5,46.5 188.9,48.5 189.5,51 190.3,53.5 190.3,55.8 190,57.9 189.8,60 190.6,61.1 191.8,62.2 192.9,63.2 193.2,64.6 193.5,66.2 194,67.5M198.2,67.5 198,65.9 197.4,64.1 196.1,63.2 194.7,62 193.4,61.4 192.7,59.5 192.4,58.2 191.3,57.1 191.8,55.5 192.4,53.8 192.6,51.6 193.5,51.4 194.2,52.7 196.1,53.5 197.2,54.5 198,56.1 199.8,56.4 200.6,57.9 200.3,59.2 201.3,58.7 202.9,57.4 203.9,56.4 205.8,55.6 207.4,54.5 207.6,52.2 207.1,49.8 206.6,48.2 205.5,46.9 203.9,45.6 202.9,44.2 201.8,42.6 202.2,41 203.5,39.7 204.7,39.1 206.3,38.3 207.9,38.6 208.4,40.3 209.3,40.5 209.5,39.1 211.1,38.6 213.5,37.8 214.5,36.6 215.5,37.3 217.6,36.6 219.6,35.7 221.6,33.9 223.7,32.1 224.5,30.1 225.9,28.1 227.4,26.2 228,24.9 226.4,23.9 227.9,23.3 227.7,22 226.1,20.4 225.3,18.5 223.7,16.9 225.3,15.3 227.2,14 228.8,13.7 226.7,12.7 224,13.3 223,12.5 221.1,10.8 222.4,10.1 224,9.2 226.4,7.6 228,8 226.7,10.4 228.5,10 231.7,9 232.9,9.5 233.3,11.2 232.7,12.1 234.6,12.9 235.3,14.5 235.3,16.4 235,17.7 236.9,17.4 239.3,16.7 240.1,15.3 240,13.7 238.5,11.2 236.9,9.6 237.7,8.5 240.4,7.2 240.9,5.3 242.5,4.5 245,3.7 247.4,3.2 249.8,1.9 251.4,0.5 253.8,-1.6M83.8,24.9 83.9,26.5 85.4,28.4 86.7,30.5 87.8,32.9 88.8,34.9 90.9,37.8 91.5,40.2 91.7,42.9 93.6,44.2 94.7,47.4 96.4,49 98.3,51 100.2,52.4 101.2,53 101.2,54.5 103.1,56.3 105.5,55.8 108,55.1 110.4,55 112.8,54.2 113.9,54 113.8,56.3 113,58.3 111.7,60.6 110.4,63 109.1,65.1 107.6,67M83.8,24.9 84.9,27.3 86.5,28.4 87.3,26.8 87.6,25.7M602.7,15.4 606.8,16.4 610,15.9M33,14.5 36.2,13.8 39.5,14 43.5,13.5 47.2,13.2 48,14 49.1,13.8 48.5,15.6 49.1,17.7 47.8,18.5 49.1,19.4 51.5,20.3 55.6,21.1 57.2,22.8 60.4,24.1 63.3,24.3 64,21.7 66.1,20.3 68.5,20.7 71.7,22 74.9,22.8 78.1,23.5 80.2,22.7 82.2,22.5 83.8,23.1 86.2,22.8 87.5,21.2 88.1,19.3 89.1,16.9 89.4,14.8 89.6,14.1 87.8,14.3 85.4,15.1 83,14.8 80.7,14 78.9,14.9 76.5,14.1 75.4,13.7 74.9,12.1 74.1,11.1 74.6,9.6 73.6,8.8 75.7,8.2 78.1,8 78.1,7.1 81.4,6.9 84.6,5.6 87.8,5.6 90.2,6.7 92.6,7.2 95.9,7.2 98.3,6.4 98.3,4.8 95.9,3.2 93.5,1.9 91.8,0.8M597.4,1.6 596.8,4 597.4,6.4 596.5,10 597.4,11.6 597.3,13.7 599.7,13.3 601.5,14.3 602.6,15.3 604.4,14.1 608.1,14 610.5,12.7M32.7,7.6 36.4,5.8 36.4,4 38.7,3.4 41.9,3.9 43.5,2.7 45.6,1.8 47.8,2.6 48.3,4.2 51.1,6.1 53.6,6.9 56.5,8.8 57.2,10.8 56.7,12.2 58,11.4 59,10.4 58,9.3 58.8,8 61.2,8.7 61.1,9.2 60.2,7.7 57.2,5.8 54.3,4.8 53.2,3.1 51.2,1.9 51.2,0.3M53.3,-0.2 53.5,0.8 54.4,0.3 55.6,1.6 57.2,3.2 59.6,4.2 61.2,5 62.7,5.9 62.7,8.4 64,9.6 65.4,11.6 66.4,14 67.7,14.5 68.5,14.3 68.8,12.9 70.1,12.5 69.3,11.2 68.3,10 68,8.2 69.3,8.5 70.1,7.6 73.3,7.6 73.6,8.4 75.4,8 78.1,7.1M51.5,12.1 56.5,11.7 55.7,14.1 51.5,12.7 51.5,12.1M44.6,7.2 47,6.9 46.9,10.1 44.9,10.4 44.6,7.2M45.3,4.2 46.7,4 46.5,6.4 45.4,6.3 45.3,4.2M83.5,16.9 84.6,16.4 87,15.9 86.2,16.9 84.6,17.5 83.5,16.9M69.4,16.1 73.8,16.4 71.4,17 69.4,16.1M108,0.8 108,4 109.6,5.9 111.2,8 110.4,10.4 110.4,12.7 112.8,13.7 115.2,14 118.4,13.8 118.1,10.4 116.8,8.8 116.5,6.4 116,5.6 113.6,4 113.9,1.6 116.8,0.3M602.7,15.4 601.9,16.1 600.7,18.5 597.9,19.6 596.6,20.9 595.8,22.5 596,24.9 595,26.5 593.1,27.6 590.7,28.6 588.2,30.9 587.4,33.3 585.8,35 584.4,37.8 584.2,39.4 585,41.3 585.5,43.4 585,46.6 583.7,49.3 584.5,51.4 584.7,53.2 586.6,55.1 587.9,56.3 589.5,57.7 590.3,59.5 591.5,61.1 593.1,62 594.7,63.2 596.6,64.6 598.7,65.9 599.5,66.2 601.9,65.4 604.4,64.8 606.8,65.1 608.4,65.6 610,64.8M31.9,63.8 33.8,63.2 35.4,63 37,62.8 38.7,63.2 39.8,64.3 40.4,65.7 41.9,66.2 43.5,65.9 45.1,65.7 45.7,66.2 46.7,67M160,57.5 160.8,57.9 162.3,59.5 163.2,61.1 162.9,62.7 161.3,63.6 160.3,63.2 160,61.1 160.2,59.5 160,57.5M206.6,42.3 207.9,41 209.8,41 210.3,41.6 209.3,43.2 207.9,43.9 206.6,43.4 206.6,42.3M226.4,32.9 227.9,32.9 227.2,34.6 226.3,37.8 225.1,36.5 225,35.4 226.4,32.9M241.2,22.8 241.4,20.9 240.6,20.1 241.7,18.8 242.5,18.2 245,16.2 247.4,15.9 250.3,15.9 251.7,14 252.7,12.9 254.6,13 256.2,11.2 257,9.2 257,7.6 258.6,6.4 259.5,8 260.3,9.6 259.5,11.6 258.6,12.9 258.2,14.9 258.3,15.7 257,16.9 256.7,16.1 255.7,16.6 255.1,17.4 253.8,17.4 252.2,17.5 251.9,18 250.6,19.3 249.3,18.5 249,17.5 247.4,17.7 245.8,18.2 244.1,18.6 242.5,18.5 243.7,19.6 243.8,20.9 243,22.7 242,23.3 241.2,22.8M245,20.1 246.6,19.3 248.2,18.2 248.5,18.8 247.7,19.6 245.8,20.4 245,20.1M257,6.4 257.5,4.8 257.8,3.5 259.1,3.7 259.8,1.8 259.9,0.2M265.9,2.4 265.6,3.5 263.5,4.2 262.4,5.6 259.9,4.7 258.6,5.1 257.7,5.6 257,6.4M225.8,43.4 228.3,43.6 228.3,45.8 227.2,47.7 227.4,49.8 228.8,50.6 230.9,51 231.3,52.9 230.1,52.2 228.8,51.4 227.2,51.1 225.9,51 225.8,49.8 224.8,49 224.6,47.1 225.4,46.6 225.4,45 225.8,43.4M233.5,57.4 235,58.7 235.3,61.1 234.8,62.7 233.7,63.5 233.3,61.9 231.6,63 231.3,61.4 230.1,61.1 228.3,61.6 228,60.3 229.6,59.5 230.9,60 232.5,58.8 233.5,57.4M231.7,53 233.3,53 234,55.1 232.9,55.5 232.9,56.7 232.5,55.8 231.9,54.7 231.7,53M228,54.2 229.6,54.7 229,56.3 228,56.3 228,54.2M229.5,55.6 230.4,55.8 230,58.3 228.8,57.4 229.5,55.6M230.4,55.5 231.3,55.5 230.6,57.7 230.3,56.6 230.4,55.5M220.3,59.6 222.4,57.9 224,55.8 223.7,55 222.4,57.1 220.3,59.6M225.4,51.6 226.9,51.8 227.1,53.4 226.1,53.4 225.4,51.6M210.3,69.1 211.9,68.3 213.5,66.7 215.1,65.7 216.7,65.1 217.6,64.3 218.7,63.2 219.6,61.9 220.8,62.7 221.1,63.7 222.4,64.3 223.5,64.8 221.9,65.9 221.3,66.7 221.6,68.3M186.1,68.3 185.3,65.4 185,64.1 186.1,64.6 188.5,64.8 189.3,66.2 190.6,67.5M360.2,40.7 361.8,41.5 360.8,42.6 360.2,41.8 360.2,40.7M359.1,39.5 360.2,39.7 359.5,40 359.1,39.5M356.6,38.4 357.4,38.7 357,38.9 356.6,38.4M354.2,37.6 354.9,37.6 354.5,37.9 354.2,37.6M358.3,39.1 358.9,39.2M411.9,-0.8 411.8,2.4 411.3,4.8 411.3,8.2 412.1,9.6 413.7,12.1 414.3,13.2 415.1,14.3 417.2,17.5 419.8,18.3 420.9,18.8 422.7,20.6 423.7,22.2 425,24.3 426.9,25.7 427.6,27.8 426.3,28.4 427.9,29.7 430.6,31.3 430.8,33.3 433.8,35.5 435.1,36.2 434.8,34.6 433.2,33.3 432.1,31 430.6,29.3 429.8,27.5 428.7,25.7 426.8,23.3 426.6,22 429.2,23 430.3,25.2 431.9,27.3 433.4,28.3 435.1,30.2 435.6,32 437.9,33.8 440,35.7 441.6,37.8 441.9,39.4 441.4,40.5 443.2,42.3 444.8,43.7 447.2,44.4 449.6,45.8 452.1,46.5 454.5,47.6 456.9,47.9 458.5,47.1 460.1,47.4 461.7,48.5 463,49.8 464.9,50.8 467.4,51.4 469.8,51.9 470.6,52.2 470.6,53 472.2,54.2 473.3,55.5 473.3,57.1 474.6,57.4 476.2,58.2 476.9,59.5 478.2,60 479.5,60.3 481.1,61.1 482,61.4 482.7,59.8 483.5,58.7 485.1,59.5 485.6,61.1 486.7,61.9 486.9,64.3 487,66.7 487.2,68.3M505.2,0.8 503.6,1.3 500.4,2.4 498.5,3.1 497.7,4.5 498.8,5.9 497.8,6.3 496.4,6.6 494,7.1 492.3,7.9 492.2,9.3 490.7,10.8 489.8,12.5 489.1,13.8 489.4,15.3 489.9,16.6 488.3,17.4 486.2,18.5 484.3,19.3 482.7,20.7 481.1,22 480.4,24.1 481.2,26.5 482,28.4 482.7,30.5 482.2,32.5 481.1,32.8 479.8,31.3 478.3,28.9 478.3,26.8 476.7,25.1 475.4,24.9 473.8,25.2 472.2,24.3 469.8,24.4 467.8,24.6 467.4,26.2 465.8,26.2 464.1,25.7 461.7,25.4 459.3,25.9 457.7,27 455.3,28.4 454.6,30.5 454.1,32.9 454,35.4 454.1,37.8 455,39.7 456.4,42.1 457.7,43.1 459.3,43.9 461.7,43.6 463.7,43.2 465.4,41.8 465.9,39.7 468.2,38.9 470.6,38.6 471.7,39.1 470.7,41 470.4,43.4 469.5,44.5 469.3,46.6 468.5,47.6 470.1,47.7 473,47.6 474.6,47.6 476.6,48.5 477.5,49.2 477.2,51.4 476.9,53.8 476.7,55.5 477.8,57.1 479.1,58.7 480.3,59 481.9,58.5 483.5,57.7 485.1,58 486.7,59.3 487.8,60.3 488.5,58.7 489.8,57.7 489.9,56.1 491.1,55.5 492.3,55 494,54.7 495.6,53.8 496.4,53.2 496.7,54.3 495.7,55.5 496.2,56.6 496.4,58.2 497.2,57.9 497.2,55.8 498.5,54.7 498.8,53.5 499.4,54.7 501.2,55.1 502,56.1 504.4,56.1 506.9,56.9 508.5,56.3 510.1,55.9 511.7,56.1 510.9,56.7 512.5,57.4 513.6,58.7 514.1,59.8 515.7,60.1 517.3,61.9 518.9,63 519.7,63.7 522.2,63.7 524.6,64 526.2,64.6 527.8,65.7 528.6,66.4 529.4,67.5M474.8,37.9 476.2,36.6 477.8,36.2 479.5,35.8 481.9,36.2 483.5,37 485.9,37.3 487.5,38.4 489.9,39.4 492,40.7 490.7,41.1 486.4,41.3 487.2,40.2 485.1,39.4 482.7,38.1 480.3,37.5 478.6,37 477,37.5 474.8,37.9M491.7,43.6 493.5,43.9 494.8,43.9 496.4,44.7 498,43.7 500.4,43.7 501.4,43.2 499.9,42.1 498,41.3 496.1,41.3 494,41.1 493.3,41.6 494.3,42.1 494.4,43.2 491.7,43.6M485.4,43.7 487.5,43.4 488.8,44.2 487.2,44.5 485.4,43.7M503.3,43.6 505.7,43.6 505.6,44.2 503.3,44.2 503.3,43.6M512,55.9 513.3,55.8 513.3,56.9 512,56.9 512,55.9M485.3,30.2 487.2,30.5 486.1,30.4M485.6,32.8 486.2,34.2 485.9,33.6M486.7,32.9 487,32.8M488.8,34.2 489.9,35.4M492.8,39.2 493.8,38.9M582.6,27 582.9,27.3M584.4,27.6 585.5,27.5M586.1,28.1 586.8,28.3M588.7,27.5 589.2,27M589.4,26.5 589.9,26.2M583.9,20.4 584.5,20.6M561.3,9.6 561.6,9.8M565.4,11.1 566.5,11.2 567.6,10.9M570,12.4 571,12.4M570.8,45.8 571.3,46M572.4,46.5 572.9,46.5M573.4,48.7 573.7,49 573.6,49.1M572.1,49.2 572.4,49.3M574.7,46.3 574.9,47.3M264.6,51.6 264.9,51.3M266.2,48.9 266.4,48.7M248.2,61.2 248.3,60.9M254,57.9 254.1,57.7M276.1,61.2 276.2,61.1M286.4,62 286.5,61.9M294.1,64.6 294.2,64.5M299.9,42.1 300,42.1M307.3,61.7 307.5,61.7M301.7,59.2 301.8,59.1M325.7,27.8 325.8,27.8M260.6,29.6 260.6,30.4M259.1,33.3 259.2,33.4M237.7,30.2 237.2,31M240.1,27.6 239.8,28M241.7,24.3 241.9,24.4M231.6,33.9 231.4,34M233.3,33.3 233.5,33.4M235.3,19.3 235.9,19.4 235,19.8 235.3,19.3M117.5,52.9 119.1,53M181,51.4 181.3,53 180.8,54.5 180.6,53 181,51.4M180.5,55.8 180.4,56.3M182.6,61.6 182.4,62M181,58.3 180.9,58.4M149.9,62.2 149.9,62.3M149.2,66.4 149.2,66.3M148.7,56.1 148.7,55.1" stroke="#000" stroke-width="1.25" fill="none" stroke-linejoin="round" stroke-linecap="round"/>
</g>
<rect x="31.4" y="0.8" width="580.2" height="64.3" fill="none" stroke="#000" stroke-width="1"/>
<rect x="33.0" y="2.0" width="100.4" height="19.5" rx="3" ry="3" fill="#f0f0f0" fill-opacity="0.93" stroke="#858585" stroke-width="1.2"/>
<text x="37.5" y="15.5" font-size="12.2" font-weight="bold" fill="#000">(a) PI-Control</text>
<text x="29.8" y="61.1" font-size="12" text-anchor="end" fill="#000">10°N</text>
<text x="29.8" y="45.0" font-size="12" text-anchor="end" fill="#000">20°N</text>
<text x="29.8" y="28.9" font-size="12" text-anchor="end" fill="#000">30°N</text>
<text x="29.8" y="12.8" font-size="12" text-anchor="end" fill="#000">40°N</text>
<clipPath id="clipb"><rect x="31.4" y="80.2" width="580.2" height="64.3"/></clipPath>
<g clip-path="url(#clipb)">
<path fill="#545ca8" d="M238.5,84.2 241,83.1 245,81.7 249.5,80.2 311.3,80.2 313.5,82.3 314.6,84.2 317.5,86.4 321.6,87.5 325.6,87.2 329.6,87.9 333.7,91.5 335.3,92.3 337.7,94.1 341.7,97.7 345.7,97.6 349.8,96.3 353.8,99.2 354.4,100.3 355.5,104.3 357.8,107.2 359.7,108.3 361.9,109.3 366.7,112.3 369.9,113.9 372.6,112.3 374,110 378,107.8 378.2,108.3 380.6,112.3 382,113.1 386,114.5 390.1,116.1 394.1,115.8 398.1,114.5 402.2,113.8 406.2,112.9 408.1,112.3 414.3,109.9 418.3,109.4 422.3,108.7 423.5,108.3 426.3,107.2 430.4,106.1 434.4,107.8 435.1,108.3 438.4,110.5 440.5,112.3 442.5,113.4 446,116.4 450.5,119.9 450.7,116.4 450.5,115.7 449,112.3 449.8,108.3 450.5,106.8 453,104.3 454.6,102.9 458.6,100.5 462.6,98.7 470.7,98 474.7,98.3 478.7,99.5 482.8,96.3 485.8,92.3 486.8,90.7 487.9,88.2 490.8,84.9 492.3,84.2 494.9,82.1 497.8,80.2 588.4,80.2 591.6,83.1 591.7,84.2 591.9,88.2 591.6,89.9 587.5,93.5 585.2,92.3 583.5,91.9 583.1,92.3 580.6,96.3 579.5,97.3 575.5,98.1 572.5,100.3 571.8,104.3 567.4,106.2 565.2,108.3 565.7,112.3 567.4,113.9 570.7,116.4 571.4,117.1 572.7,120.4 575.5,123.7 575.6,124.4 575.5,126.6 575,128.4 571.6,132.4 567.4,134.4 563.4,135.5 559.3,136.8 555.3,137.8 551.3,138.5 547.2,138.8 543.2,139.4 539.2,139.5 535.2,138.9 527.1,139.1 523.1,138.7 515,137.1 513.1,136.5 511,136 506.9,136 502.9,135.7 490.8,135.4 482.8,135.7 474.7,135.9 470.7,136.3 466.6,137.6 462.6,138.6 458.6,138.7 454.6,138.2 450.5,138.3 446.5,138.9 442.5,139.1 438.4,139.1 430.4,139.3 426.3,139.1 422.3,139 410.2,139.4 406.2,139.3 402.2,139.6 398.1,139.8 390.1,139.9 382,139.6 378,139.3 374,138.1 371.6,136.5 369.9,135.7 365.9,135.5 361.9,135.4 357.8,135.5 353.8,135.3 349.8,135.3 345.7,135.7 341.1,136.5 341.7,136.9 342.9,140.5 341.7,141 337.7,140.7 337,140.5 333.7,137.3 329.6,140.9 325.6,139.8 324.6,140.5 321.6,141.8 319,140.5 313.8,136.5 313.5,136.4 309.5,135.8 307.3,136.5 306.1,140.5 305.4,140.8 301.4,141.9 297.4,143.4 293.4,143.7 292.5,144.5 202.6,144.5 200.7,142.8 198.4,140.5 195.4,136.5 194.2,132.4 193.7,128.4 193.9,124.4 196.6,121.7 197.6,120.4 200.7,116.8 204.7,113.9 208.7,113.2 211.8,112.3 216.8,110.3 220.8,108.2 223.2,104.3 224.8,101.2 225.4,100.3 226.7,96.3 227.9,92.3 228.9,90.3 232,88.2 232.9,87.4 236.9,85.2 238.5,84.2ZM305.4,116 305.3,116.4 305,120.4 305.4,121 307,120.4 307.3,116.4 305.4,116ZM321.6,102 318.3,104.3 321.6,106.5 325.6,107.3 327,108.3 329.6,109.4 333.5,108.3 333.2,104.3 329.6,102.6 325.6,102.4 321.6,102ZM337.7,111.3 336.7,112.3 337.7,112.7 341.7,112.6 342.4,112.3 341.7,111.8 337.7,111.3ZM458.6,124.4 458.2,124.4 458.6,124.5 458.8,124.4 458.6,124.4ZM555.3,107.2 554.1,108.3 554.2,112.3 555.3,113.5 557.7,116.4 559.3,120.4 563.4,121.9 567,120.4 563.4,116.2 562.1,112.3 557.6,108.3 555.3,107.2ZM575.5,82.6 574.5,84.2 575.5,85.2 577,84.2 575.5,82.6ZM127.9,112.3 128.1,112.2 129.8,112.3 132.2,114.2 136.2,113.1 140.2,111.1 144.2,110.9 145.6,112.3 148.8,116.4 150.5,120.4 150.6,124.4 149.6,128.4 148.3,129.8 147.2,132.4 145.8,136.5 144.2,139 140.2,140.2 136.2,137.4 132.2,136.6 128.1,138.8 124.1,140 121.5,140.5 120.1,141 116,141.9 115.4,140.5 112.8,136.5 111.5,132.4 112,131.2 113.8,128.4 116,126.3 117.8,124.4 119.8,120.4 123.1,116.4 124.1,115.3 127.9,112.3ZM178.7,112.3 180.5,111.6 184.5,110.2 188.6,110 190.8,112.3 192.4,116.4 190.3,120.4 188.6,121.2 187.1,128.4 186.6,132.4 184.5,135.9 183.7,136.5 180.5,139.1 172.5,142.1 168.4,142.5 164.4,143 160.4,143.3 159.2,140.5 156.3,133.6 155.4,132.4 156.3,130 156.7,128.4 160.4,124.4 164.4,119.7 168.4,116.3 172.5,114.2 178.7,112.3Z"/>
<path fill="#3f77b5" d="M240.5,84.2 245,82.5 249,81.6 252.2,80.2 260.9,80.2 261.1,80.3 261.4,80.2 287.7,80.2 289.3,81.4 293.4,80.7 294.4,80.2 303.2,80.2 305.4,82.2 309.5,82 311.8,84.2 313.5,85 317.5,87.7 320.2,88.2 321.6,88.7 323.8,88.2 325.6,88.1 326.5,88.2 329.6,89.4 333.1,92.3 333.7,93.2 337.7,95.8 338.2,96.3 337.7,98.1 333.7,99.7 333.1,100.3 329.6,101.4 325.6,101.2 321.6,100.8 317.5,102.2 316.9,104.3 317.5,105.1 321.6,107.8 323.5,108.3 325.6,108.7 329.6,110.5 333.7,111 334.6,112.3 337.7,113.4 341.7,113.1 344.2,112.3 341.7,110.4 337.7,109.3 336.4,108.3 334.8,104.3 337.7,100.8 341.7,99.4 345.7,100.4 349.8,98.2 353.8,100.3 354.5,104.3 356,108.3 357.8,108.7 361.9,110.3 365.1,112.3 369.9,114.6 373.9,112.3 374,112.3 378,110.5 378.9,112.3 382,114 386,115.3 388.7,116.4 390.1,116.7 394.1,116.5 394.8,116.4 398.1,115.2 402.2,114.5 406.2,113.6 410.2,112.4 414.3,110.5 422.3,109.5 426.3,108.1 430.4,107 434.4,108.6 438.4,111.3 439.6,112.3 442.5,113.8 445.5,116.4 446.5,117.1 450.1,120.4 450.5,120.6 451.4,120.4 451,116.4 450.5,114.2 449.7,112.3 450.2,108.3 450.5,107.7 454.6,103.7 458.6,101.2 460.9,100.3 462.6,99.5 466.6,99.1 470.7,98.8 474.7,99.2 478.7,100.5 482.8,97.5 483.8,96.3 486.8,91.8 488.4,88.2 490.8,85.4 493.5,84.2 494.9,83.1 499.3,80.2 576.3,80.2 575.5,80.3 573.1,84.2 575.5,86.5 579.3,84.2 579.5,82.8 583.5,81.5 587.6,84.2 590.5,88.2 587.5,90.9 583.5,90.5 581.5,92.3 579.5,94.8 575.5,95.6 573.5,96.3 571.4,97.4 568.5,100.3 567.3,104.3 563.4,107.9 559.3,108.1 555.3,106.2 553.1,108.3 553.3,112.3 555.3,114.5 556.9,116.4 558.6,120.4 559.3,121.7 563.4,123.5 567,124.4 567.4,124.6 571.4,121.1 574,124.4 573.6,128.4 571.4,131 569.5,132.4 567.4,133.4 563.4,134.4 559.3,136 555.3,137 551.3,137.7 547.2,138.2 543.2,138.9 539.2,139 535.2,138.3 527.1,138.5 523.1,138.2 515.5,136.5 511,135.6 506.9,135.6 502.9,135.2 490.8,135 482.8,135.3 478.7,135.4 474.7,135.2 470.7,135.6 462.6,137.9 458.6,138 454.6,137.5 450.5,137.6 446.5,138.4 442.5,138.6 438.4,138.5 430.4,138.8 426.3,138.6 422.3,138.4 410.2,139 406.2,138.8 402.2,139.1 398.1,139.3 394.1,139.2 390.1,139.4 382,139.1 378,138.8 374,137.4 372.6,136.5 369.9,135.3 361.9,134.9 357.8,135.1 353.8,134.8 349.8,134.8 345.7,135.2 341.7,135.8 337.7,136.2 333.7,136.1 330.1,136.5 329.6,136.7 325.6,138.3 322.6,140.5 321.6,140.9 320.7,140.5 317.5,138.1 315.4,136.5 313.5,135.7 309.5,134.9 305.4,136.1 305,136.5 301.4,140.3 301.1,140.5 297.4,142.3 293.4,142.9 291.7,144.5 203.5,144.5 200.7,141.9 199.2,140.5 196.1,136.5 194.9,132.4 194.2,128.4 194.8,124.4 196.6,122.6 198.3,120.4 200.7,117.6 202.2,116.4 204.7,114.6 208.7,113.8 212.8,112.7 216.8,111 220.8,108.8 221.3,108.3 223.7,104.3 224.8,102.2 226.1,100.3 228.3,92.3 228.9,91.1 232.9,88.7 233.5,88.2 236.9,86.5 240.5,84.2ZM305.4,115.1 304.9,116.4 304.4,120.4 305.4,122.1 309.5,120.4 309.8,116.4 309.5,115.5 305.4,115.1ZM458.6,123.9 455,124.4 458.6,125.1 460.8,124.4 458.6,123.9ZM139.4,112.3 140.2,111.9 144.2,111.9 148.1,116.4 148.3,116.9 149.8,120.4 149.5,124.4 148.2,128.4 146.6,132.4 145.2,136.5 144.2,138 140.2,139.4 136.2,136.5 132.2,135.7 130.7,136.5 128.1,137.9 124.1,139 120.1,139.9 116,140.6 113.4,136.5 112,132.4 114.6,128.4 116,127.1 118.5,124.4 120.5,120.4 124.1,116.1 128.1,113.3 131.3,116.4 132.2,116.6 132.9,116.4 136.2,113.9 139.4,112.3ZM180.6,112.3 184.5,110.9 188.6,110.9 190,112.3 191.5,116.4 188.6,120 186.8,128.4 186.3,132.4 184.5,135.4 183,136.5 180.5,138.6 176.5,140.1 174.9,140.5 172.5,141.4 164.4,142 160.4,142.2 156.3,132.4 157.4,128.4 161.1,124.4 164.4,120.5 168.4,117.2 169.8,116.4 172.5,115 176.5,113.6 180.6,112.3Z"/>
<path fill="#3b92b9" d="M242.5,84.2 245,83.3 249,82.8 253.1,81.1 256.2,80.2 257.7,80.2 261.1,81.8 264.7,80.2 269.4,80.2 272.4,84.2 273.2,84.6 274.2,84.2 277.2,81.8 279.9,84.2 281.3,84.8 283.8,84.2 285.3,82.9 288.6,84.2 289.3,84.3 293.4,83.6 297.4,82.8 299.6,84.2 305.4,86.1 309.5,85.4 313.5,87.2 315.4,88.2 317.5,89.6 321.6,90.6 325.6,90.3 329.6,91.2 330.9,92.3 333.2,96.3 329.6,99.5 325.6,98.9 321.6,98.6 317.5,98.5 316.1,100.3 315.8,104.3 317.5,106.4 320.4,108.3 321.6,108.9 325.6,109.7 329.6,111.6 332,112.3 333.7,112.8 337.7,114.1 341.7,113.7 346,112.3 345.7,111 341.7,108.9 340,108.3 337.7,107.1 336.1,104.3 337.7,102.4 341.7,101.1 345.7,101.9 349.8,100.1 350.2,100.3 352.6,104.3 349.8,108.3 353.8,109.8 361.9,111.4 363.4,112.3 365.9,113.4 369.9,115.3 374,113.1 378,112.8 382,114.9 386,116.1 386.8,116.4 390.1,117.2 394.1,117.1 396.9,116.4 398.1,116 402.2,115.2 406.2,114.2 410.2,112.9 411.7,112.3 414.3,111.2 422.3,110.2 430.4,107.8 434.4,109.4 438.4,112.1 438.8,112.3 442.5,114.3 444.9,116.4 446.5,117.4 449.7,120.4 450.5,120.9 452.3,120.4 450.5,112.8 450.3,112.3 450.7,108.3 454.6,104.4 458.6,101.9 462.6,100.3 466.6,99.8 470.7,99.6 474.7,100.1 478.7,101.3 480.5,100.3 482.8,98.6 484.9,96.3 486.8,93.2 488.9,88.2 490.8,86 494.8,84.2 498.9,81.6 500.8,80.2 571.5,80.2 571.7,84.2 575.5,87.9 579.5,87 583.5,84.8 587.5,87.9 587.8,88.2 587.5,88.5 583.5,89.1 579.8,92.3 579.5,92.7 575.5,92.8 571.4,94.7 567.6,96.3 567.4,96.5 565.5,100.3 563.7,104.3 563.4,104.6 559.3,105.7 555.3,105.2 552.2,108.3 552.4,112.3 555.3,115.4 556.1,116.4 557.9,120.4 559.3,123 562.3,124.4 563.4,125.4 567.4,127 571.4,124.1 571.7,124.4 572.2,128.4 571.4,129.4 567.4,132 567.1,132.4 563.4,133.4 559.3,135.1 553.7,136.5 551.3,136.9 547.2,137.6 543.2,138.4 539.2,138.6 535.2,137.6 531.1,137.7 527.1,138 523.1,137.6 518.8,136.5 515,135.9 511,135.2 506.9,135.2 502.9,134.7 490.8,134.6 482.8,135 478.7,135 474.7,134.5 470.7,134.9 466.6,136 462.6,137.2 458.6,137.3 454.6,136.8 450.5,137 446.5,137.9 442.5,138.1 438.4,137.9 430.4,138.4 426.3,138.1 422.3,137.9 410.2,138.6 406.2,138.3 402.2,138.7 398.1,138.8 394.1,138.6 390.1,138.8 382,138.6 378,138.3 374,136.8 373.5,136.5 369.9,134.9 361.9,134.4 357.8,134.6 353.8,134.3 349.8,134.2 345.7,134.6 341.7,135.3 337.7,135.3 333.7,135 329.6,135.6 326.5,136.5 321.6,138.9 317.5,136.9 317,136.5 313.5,135.1 309.5,134.1 305.4,135.1 303.7,136.5 301.4,138.9 298.7,140.5 297.4,141.1 293.4,142.1 290.8,144.5 213.6,144.5 212.8,144.4 212.2,144.5 204.4,144.5 200,140.5 196.9,136.5 195.5,132.4 194.7,128.4 195.7,124.4 196.6,123.5 198.9,120.4 200.7,118.3 203.2,116.4 204.7,115.3 212.8,113.4 216.8,111.6 220.8,109.3 221.8,108.3 224.3,104.3 224.8,103.2 226.7,100.3 227.6,96.3 228.7,92.3 228.9,91.8 232.9,90.7 235.9,88.2 236.9,87.7 241,85.1 242.5,84.2ZM305.4,114.1 304.4,116.4 303.7,120.4 305.4,123.1 309.5,121.1 310,120.4 310.4,116.4 309.5,114.1 305.4,114.1ZM454.6,123.4 454.3,124.4 454.6,124.9 458.6,125.7 462.6,124.5 462.7,124.4 458.6,123.4 454.6,123.4ZM470.7,128.2 467.9,128.4 470.7,129.1 470.9,128.4 470.7,128.2ZM182.4,112.3 184.5,111.5 188.6,111.7 189.2,112.3 190.5,116.4 188.6,118.8 188.2,120.4 186.6,128.4 186,132.4 184.5,134.9 182.3,136.5 180.5,138 176.5,139.7 172.9,140.5 172.5,140.7 168.4,141 160.4,141.1 156.8,132.4 158,128.4 161.7,124.4 164.4,121.3 165.7,120.4 168.4,118.2 171.3,116.4 172.5,115.7 176.5,114.2 180.5,112.8 182.4,112.3ZM125.2,116.4 128.1,114.4 130.1,116.4 132.2,116.9 134,116.4 136.2,114.7 140.2,112.6 144.2,112.6 147.6,116.4 148.3,118.5 149.1,120.4 148.5,124.4 147.3,128.4 144.6,136.5 144.2,137.1 140.2,138.6 137.3,136.5 136.2,135.4 132.2,134.9 128.1,137 120.1,139 116,139.8 113.9,136.5 112.4,132.4 115.4,128.4 119.2,124.4 120.1,122.6 121.3,120.4 124.1,117.1 125.2,116.4Z"/>
<path fill="#54aead" d="M244.6,84.2 245,84.1 249,84 253.1,82.5 257.1,81.5 261.1,83.3 265.1,82.4 268.4,84.2 273.2,86.2 277.2,85.2 281.3,86.6 285.3,87.2 289.3,86.6 293.4,86.2 297.4,85.5 303,88.2 305.4,89.1 309.5,87.5 311.1,88.2 313.5,90.1 317.5,92.2 318.4,92.3 317.5,92.6 314.3,96.3 313.5,97.8 313.2,100.3 313.5,100.9 314.7,104.3 317.5,107.7 318.5,108.3 321.6,110 325.6,110.6 329.6,112.6 333.7,113.6 337.7,114.7 341.7,114.3 345.7,113.3 347.7,112.3 349.8,110.1 353.8,111.7 356.7,112.3 357.8,112.5 361.9,112.4 365.9,114.1 369.9,116 374,113.8 378,113.8 382,115.9 384,116.4 386,116.7 390.1,117.7 394.1,117.6 398.1,116.6 402.2,115.9 406.2,114.8 410.2,113.4 413.1,112.3 414.3,111.8 418.3,111.3 422.3,110.9 426.3,110 430.4,108.9 434.4,110.2 437.7,112.3 442.5,114.8 444.4,116.4 446.5,117.8 449.3,120.4 450.5,121.1 453.2,120.4 451.6,116.4 450.8,112.3 451.2,108.3 454.6,104.9 455.9,104.3 458.6,102.6 462.6,101 466.6,100.6 470.7,100.4 474.7,100.9 478.7,102.1 482,100.3 482.8,99.7 485.9,96.3 486.8,94.8 489.4,88.2 490.8,86.6 494.9,85.1 496.5,84.2 498.9,82.7 502.3,80.2 559.9,80.2 563.4,80.9 567.4,81.9 570,84.2 571.4,85.9 573.8,88.2 572.1,92.3 567.4,94.8 565.1,96.3 563.4,99.6 559.3,102.5 555.3,104.2 551.3,108.3 550.7,108.3 551.3,109.4 551.4,112.3 555.1,116.4 555.3,116.5 557.2,120.4 559.3,124.3 559.6,124.4 563.4,127.7 564.9,128.4 563.4,131.4 563.2,132.4 559.3,134.3 555.3,135.3 551.3,136 550,136.5 547.2,137 543.2,137.9 539.2,138.1 535.2,137 531.1,137.1 527.1,137.5 523.1,137 519,136 515,135.5 511,134.8 506.9,134.8 502.9,134.3 490.8,134.1 482.8,134.6 478.7,134.6 474.7,133.9 470.7,134.1 466.6,135.2 462.6,136.4 458.6,136.6 454.6,136.2 450.5,136.4 446.5,137.4 442.5,137.6 438.4,137.4 434.4,137.7 430.4,137.9 426.3,137.6 422.3,137.3 410.2,138.2 406.2,137.7 402.2,138.2 398.1,138.4 394.1,138 390.1,138.3 382,138.1 378,137.8 374.6,136.5 374,136.3 369.9,134.5 361.9,133.9 357.8,134.2 353.8,133.8 349.8,133.6 345.7,134.1 341.7,134.7 333.7,134 329.6,134.6 325.6,135.8 321.6,136.3 317.5,135.8 313.5,134.4 309.5,133.3 305.4,134 302.4,136.5 301.4,137.5 297.4,139 296.2,140.5 293.4,141.3 290,144.5 221.8,144.5 220.8,144.2 216.8,143.5 212.8,143.3 208.7,143.5 204.7,143.6 200.7,140.3 197.7,136.5 196.2,132.4 195.2,128.4 196.6,124.4 199.6,120.4 200.7,119.1 204.7,116 212.8,114 216.8,112.3 220.8,109.8 222.3,108.3 227.3,100.3 228,96.3 228.9,93 232.9,92.6 234.6,92.3 236.9,90.7 237.9,88.2 241,86.2 244.6,84.2ZM305.4,113.2 304,116.4 303,120.4 305.4,124.1 309.5,121.8 310.5,120.4 310.9,116.4 309.5,112.6 305.4,113.2ZM454.6,122.2 454,124.4 454.6,125.6 458.6,126.2 462.6,126.8 463.8,124.4 462.6,124 458.6,123 454.6,122.2ZM466.6,127.6 464.7,128.4 466.6,129 470.7,130.1 471.3,128.4 470.7,127.8 466.6,127.6ZM559.3,91.2 557.3,92.3 559.3,93.4 561.3,92.3 559.3,91.2ZM337.4,104.3 337.7,104 341.7,102.7 345.7,103.4 349.4,104.3 345.7,106.2 341.7,106.8 337.7,104.8 337.4,104.3ZM184.1,112.3 184.5,112.2 186.5,112.3 188.6,113.2 189.6,116.4 188.6,117.7 187.9,120.4 186.3,128.4 185.7,132.4 184.5,134.4 181.7,136.5 180.5,137.4 176.5,139.2 172.5,140.2 168.4,140.3 164.4,140.2 160.4,139.9 157.3,132.4 158.6,128.4 162.4,124.4 164.4,122.1 166.9,120.4 168.4,119.1 172.5,116.5 176.5,114.8 180.5,113.3 184.1,112.3ZM126.9,116.4 128.1,115.5 129,116.4 132.2,117.2 135,116.4 136.2,115.5 140.2,113 144.2,113.2 147.1,116.4 148.4,120.4 148.3,121.2 145.4,132.4 144.2,135.9 143.6,136.5 140.2,137.8 138.4,136.5 136.2,134.4 132.2,134.1 128.1,135.4 126.4,136.5 120.1,138.1 116,139 114.4,136.5 112.8,132.4 116,128.6 116.3,128.4 119.9,124.4 122.1,120.4 124.1,118 126.9,116.4Z"/>
<path fill="#6ec5a5" d="M251.9,84.2 253.1,83.8 257.1,83 261.1,84.8 265.1,84.5 273.2,87.9 277.2,87.6 281.3,88.4 285.3,89.2 289.3,88.8 293.4,88.9 294.4,88.2 297.4,87.2 299.2,88.2 301.4,90.2 305.4,91.1 309.5,89.8 312.4,92.3 311.1,96.3 311.2,100.3 313.5,104.1 313.6,104.3 316.1,108.3 317.5,109.2 321.6,111 325.6,111.5 327.4,112.3 329.6,113.7 333.7,114.5 337.7,115.4 341.7,114.9 345.7,114.1 349.4,112.3 349.8,111.9 350.8,112.3 353.8,113.3 357.8,113.7 361.9,113.4 365.9,114.8 369.9,116.6 370.5,116.4 374,114.6 378,114.7 381.2,116.4 382,116.7 386,117.3 390.1,118.1 394.1,118.1 398.1,117.1 402.9,116.4 406.2,115.5 414.3,112.5 418.3,111.9 422.3,111.7 426.3,111 430.4,110.1 434.4,111 436.5,112.3 442.5,115.2 443.8,116.4 446.5,118.2 448.9,120.4 450.5,121.4 454.1,120.4 451.9,116.4 451.1,112.3 451.6,108.3 454.6,105.4 456.9,104.3 458.6,103.3 462.6,101.6 466.6,101.2 470.7,101.1 474.7,101.8 478.7,102.9 483.5,100.3 486.8,96.5 488.4,92.3 489.9,88.2 490.8,87.2 494.9,85.9 498.3,84.2 502.9,81.3 505.1,80.2 508.9,80.2 511,80.8 515.3,80.2 557.9,80.2 559.3,82.1 563.4,82.4 567.4,83.5 568.2,84.2 571.6,88.2 569.1,92.3 567.4,93.2 564.3,92.3 559.3,89.9 555.3,92 555.1,92.3 555.3,93 559.3,94.9 562.5,96.3 559.3,98.9 558.1,100.3 555.3,102.4 554,104.3 551.3,107.1 547.2,106 539.2,108 535.2,107.3 531.8,108.3 535.2,108.7 539.2,108.4 547.2,109.1 550.3,112.3 551.3,114.9 552.5,116.4 555.3,117.9 556.5,120.4 557.7,124.4 559.3,126 562,128.4 561.5,132.4 559.3,133.5 555.3,134.4 551.3,134.9 547.2,136.3 546.9,136.5 543.2,137.4 539.2,137.7 535.2,136.3 531.1,136.5 527.1,136.9 523.1,136.4 519,135.5 515,135.1 511,134.3 506.9,134.5 502.9,133.8 490.8,133.7 482.8,134.3 478.7,134.2 474.7,133.2 470.7,133.4 466.6,134.5 462.6,135.4 458.6,135.9 454.6,135.6 450.5,135.9 446.5,136.9 442.5,137.2 438.4,136.8 434.4,137.2 430.4,137.4 426.3,137.1 422.3,136.8 418.3,137.1 414.3,137.4 410.2,137.8 406.2,137.2 402.2,137.7 398.1,137.9 394.1,137.4 390.1,137.8 382,137.6 378,137.2 376,136.5 374,135.9 369.9,134.1 361.9,133.5 357.8,133.8 353.8,133.3 349.8,133.1 345.7,133.5 341.7,134.1 337.7,133.4 333.7,132.9 329.6,133.6 325.6,134.9 321.6,135.4 317.5,134.9 313.5,133.8 309.5,132.4 305.4,132.9 301.4,136.2 297.4,136.3 295.9,136.5 293.5,140.5 293.4,140.5 289.3,144.4 289.1,144.5 225,144.5 220.8,143 216.8,142.3 212.8,142.1 208.7,142.1 204.7,142.3 202.6,140.5 200.7,139.3 198.5,136.5 197.1,132.4 196.6,131.8 195.7,128.4 197.2,124.4 200.7,119.8 204.7,116.6 208.7,115.6 212.8,114.7 216.8,113 217.5,112.3 220.8,110.3 222.9,108.3 224.8,105.1 228,100.3 228.4,96.3 228.9,94.5 232.9,94.2 236.9,93.2 237.8,92.3 239.5,88.2 241,87.3 245,86.6 249,87.5 251.9,84.2ZM297.4,91.6 297,92.3 296.7,96.3 297.4,98.3 299.4,96.3 297.9,92.3 297.4,91.6ZM309.5,107.6 309,108.3 305.4,112.2 303.6,116.4 302.4,120.4 304.5,124.4 305.4,125.9 306.3,124.4 309.5,122.5 311,120.4 311.5,116.4 310.8,112.3 310.5,108.3 309.5,107.6ZM454.6,121 453.8,124.4 454.6,126.2 458.6,126.8 462.3,128.4 462.6,128.8 470.7,131.1 471.7,128.4 470.7,127.5 466.6,126.3 464.9,124.4 462.6,123.7 458.6,122.5 454.6,121ZM136,116.4 140.2,113.5 144.2,113.7 146.6,116.4 147.8,120.4 146.3,124.4 145.5,128.4 144.8,132.4 144.2,134.1 141.5,136.5 140.2,137 139.5,136.5 136.2,133.4 132.2,133.3 128.1,132.9 124.1,136.1 120.1,137.2 116,138.2 114.9,136.5 113.2,132.4 116,129 117.2,128.4 120.1,125.2 120.9,124.4 123,120.4 124.1,119 128.1,116.5 132.2,117.6 136,116.4ZM174.1,116.4 180.5,113.7 184.5,112.7 188.6,116.1 188.6,116.4 187.6,120.4 186.9,124.4 186.1,128.4 185.5,132.4 184.5,133.9 180.5,136.9 176.5,138.8 172.5,139.8 168.4,139.9 164.4,139.6 160.4,138.8 157.8,132.4 159.2,128.4 163,124.4 164.4,122.8 168,120.4 172.5,117 174.1,116.4Z"/>
<path fill="#91d3a4" d="M501.2,84.2 502.9,83.2 506.9,81.4 511,81.9 515,81.3 519.2,80.2 538.7,80.2 539.2,81.9 540.4,80.2 556.3,80.2 559.3,84.2 563.4,83.9 564.5,84.2 567.4,86 569.1,88.2 567.4,90.8 559.3,88.5 555.3,90.6 554,92.3 553.2,96.3 555.3,97.9 555.7,100.3 555.3,100.6 552.8,104.3 551.3,105.9 548.5,104.3 547.2,103.5 545.2,104.3 543.2,105.2 539.2,106.4 535.2,105.9 531.1,106.6 527.1,106.6 526.7,108.3 527.1,108.6 535.2,109.3 539.2,108.9 543.2,109.4 547.2,110.4 549,112.3 550.4,116.4 555.3,119.4 555.8,120.4 555.9,124.4 560,128.4 559.8,132.4 559.3,132.7 555.3,133.6 551.3,133.7 547.2,135.3 545,136.5 543.2,136.9 539.2,137.2 536.8,136.5 535.2,135.7 531.1,135.9 527.1,136.4 523.1,135.8 519,134.9 515,134.6 511,133.9 506.9,134.1 502.9,133.3 490.8,133.3 482.8,133.9 478.7,133.8 474.7,132.5 470.7,132.7 466.6,133.8 462.6,134.3 458.6,135.1 454.6,135 450.5,135.5 446.5,136.4 442.5,136.7 438.4,136.3 430.4,137 426.3,136.6 422.3,136.3 414.3,136.9 410.2,137.3 406.2,136.7 402.2,137.3 398.1,137.5 394.1,136.8 390.1,137.3 382,137.1 378,136.7 377.3,136.5 374,135.5 369.9,133.7 365.9,133.4 361.9,133 357.8,133.3 353.8,132.8 349.8,132.5 341.7,133.6 337.7,132.4 333.7,132.1 330.8,132.4 329.6,132.7 325.6,134 321.6,134.5 317.5,133.9 313.5,133.1 311.5,132.4 309.5,131.3 305.4,129.4 304.8,132.4 301.4,135.2 297.4,135.8 293.4,136.1 293.1,136.5 292.5,140.5 289.3,143.6 287.5,144.5 238.8,144.5 236.9,144.4 236.7,144.5 226.9,144.5 224.8,144 220.8,141.9 216.8,141.1 212.8,140.9 208.7,140.6 204.7,140.9 204.1,140.5 200.7,138.3 199.2,136.5 198.3,132.4 196.6,130 196.2,128.4 197.8,124.4 200.9,120.4 204.7,117.2 208.7,116.1 212.8,115.3 216.8,113.8 218.3,112.3 220.8,110.8 223.4,108.3 225.9,104.3 228.6,100.3 228.9,96.1 232.9,95.8 236.9,94.6 239.1,92.3 241,88.6 245,89.5 247.4,92.3 249,94.2 250.2,92.3 250.2,88.2 253.1,85.2 257.1,85.3 261.1,86.5 265.1,85.7 269.2,88 269.9,88.2 273.2,89.2 277.2,89.2 281.3,90 285.3,90.6 289.3,90.5 293.4,92.3 295.2,96.3 296.7,100.3 297.4,101.1 299.7,100.3 301.4,98.6 302.9,96.3 305.4,93.5 309.2,92.3 309.5,92.2 309.6,92.3 308.3,96.3 309.2,100.3 310.6,104.3 309.5,105.2 307.5,108.3 305.4,110.5 303.2,116.4 301.7,120.4 303.2,124.4 305.4,128.1 307.4,124.4 309.5,123.2 311.5,120.4 312.5,112.3 313.5,108.8 317.5,110.9 321.6,112 325.6,112.4 329.6,114.8 333.7,115.3 337.7,116.1 341.7,115.4 345.7,114.9 349.8,113.7 353.8,114.8 357.8,114.9 361.9,114.3 365.9,115.5 367.7,116.4 369.9,117.2 372,116.4 374,115.3 378,115.7 379.2,116.4 382,117.3 390.1,118.6 394.1,118.6 398.1,117.7 405.2,116.4 406.2,116.1 410.2,114.5 414.3,113.2 418.3,112.6 422.8,112.3 426.3,112 430.4,111.4 434.4,111.8 435.3,112.3 438.4,113.9 442.5,115.7 443.3,116.4 446.5,118.6 448.5,120.4 450.5,121.6 453.5,124.4 454.6,126.9 458.6,127.4 460.9,128.4 462.6,130.1 466.6,130.8 470.7,132.1 472.1,128.4 470.7,127.1 466.6,125.1 466,124.4 458.6,122.1 454.6,120.1 452.3,116.4 451.4,112.3 452.1,108.3 454.6,105.9 458,104.3 458.6,103.9 462.6,102.3 466.6,101.9 470.7,101.8 474.7,102.6 478.7,103.8 485.1,100.3 486.8,98.3 487.7,96.3 490.4,88.2 490.8,87.7 494.9,86.8 501.2,84.2ZM527.1,95.7 526.6,96.3 527.1,97.3 528.5,96.3 527.1,95.7ZM136.7,116.4 140.2,113.9 144.2,114.3 146.1,116.4 147.3,120.4 145.3,124.4 144.5,128.4 144.2,131.8 144,132.4 140.2,135.6 136.4,132.4 136.2,132.4 132.1,132.4 128.1,130.8 127.4,132.4 124.1,135.3 116,137.4 115.4,136.5 113.6,132.4 116,129.5 118.1,128.4 120.1,126.2 122,124.4 123.8,120.4 124.1,120 128.1,117 132.2,117.9 136.2,116.7 136.7,116.4ZM175.4,116.4 180.5,114.1 184.5,113.2 188,116.4 187.3,120.4 186.7,124.4 185.2,132.4 184.5,133.5 180.3,136.5 176.5,138.4 172.5,139.3 168.4,139.4 164.4,138.9 160.4,137.8 158.2,132.4 159.8,128.4 164.4,123.6 168.8,120.4 172.5,117.5 175.4,116.4Z"/>
<path fill="#b1dfa3" d="M505.7,84.2 506.9,83.7 511,82.9 515,82.4 519,81.6 522.3,80.2 534.3,80.2 535.2,83.7 535.5,84.2 539.2,87 543.2,85.1 544.2,84.2 545,80.2 554,80.2 555.3,82.1 556.5,84.2 557.2,88.2 555.3,89.2 553,92.3 551.3,94.8 550,96.3 551.3,99.1 552.5,100.3 551.6,104.3 551.3,104.7 547.2,102.2 543.2,103.4 540.9,104.3 539.2,104.8 535.2,104.5 531.1,104.6 530.3,104.3 527.1,100.4 525.7,108.3 527.1,109.5 535.2,109.9 539.2,109.3 543.2,110 547.2,111.8 547.8,112.3 548.8,116.4 551.3,117.8 554.9,120.4 552.5,124.4 555.3,126.7 557.1,128.4 556.6,132.4 555.3,132.7 551.3,132.6 547.2,134.3 543.2,136.4 539.2,136.8 538.2,136.5 535.2,135 531.1,135.4 527.1,135.9 519,134.4 515,134.2 511,133.5 506.9,133.7 502.9,132.9 498.9,132.9 490.8,132.9 482.8,133.5 478.7,133.4 475.8,132.4 474.7,131.9 472.4,128.4 470.7,126.8 466.6,124.2 458.6,121.6 456,120.4 454.6,119.6 452.6,116.4 451.8,112.3 452.6,108.3 454.6,106.3 458.6,104.6 462.6,103 466.6,102.6 470.7,102.5 474.7,103.4 478.7,104.6 482.8,102.4 486.7,100.3 486.8,100.1 488.5,96.3 490.8,88.4 491.3,88.2 494.9,87.7 498.9,86.5 502.9,84.7 505.7,84.2ZM527.1,94.1 525.3,96.3 527.1,100.2 531.1,96.9 532.2,96.3 531.1,93.9 527.1,94.1ZM531.1,87.7 531,88.2 531.1,89.3 531.3,88.2 531.1,87.7ZM539.2,90.7 538.5,92.3 539.2,92.9 539.8,92.3 539.2,90.7ZM547.2,88 547.1,88.2 547.2,88.3 547.4,88.2 547.2,88ZM551.3,127.7 551,128.4 551.3,129.7 551.7,128.4 551.3,127.7ZM502.9,99.5 500.4,100.3 502.9,101.3 506.5,100.3 502.9,99.5ZM251.6,88.2 253.1,86.7 256,88.2 257.1,89.6 260.3,88.2 261.1,88.1 265.1,86.9 267.4,88.2 269.2,89.8 273.2,90.3 277.2,90.4 281.3,91.7 285.3,91.9 289.3,92.2 289.5,92.3 293.4,95.6 295.4,100.3 297.4,102.5 300.6,104.3 301.4,105.5 305.4,105.8 306,108.3 305.4,108.9 304.1,112.3 302.7,116.4 301.2,120.4 301.4,122.7 301.9,124.4 304.3,128.4 303.5,132.4 301.4,134.2 297.4,135.2 293.4,135.6 292.6,136.5 291.7,140.5 289.3,142.7 285.9,144.5 242.1,144.5 241,144.3 236.9,144.1 235.7,144.5 228.8,144.5 224.8,143.6 220.8,140.8 216.8,140 208.7,139.9 204.7,139.7 200.7,137.3 200,136.5 199.5,132.4 196.8,128.4 198.4,124.4 200.7,121.4 201.6,120.4 204.7,117.8 208.7,116.7 212.8,116 216.8,114.5 219.1,112.3 220.8,111.3 223.9,108.3 226.5,104.3 228.9,100.8 231.8,100.3 236.3,96.3 236.9,96.1 240.4,92.3 241,91.1 245,92.6 249,97.4 252.1,92.3 251.6,88.2ZM281.3,95 281,96.3 281.3,96.9 281.8,96.3 281.3,95ZM304,100.3 305.4,96.9 306.4,100.3 305.4,102.8 304,100.3ZM137.4,116.4 140.2,114.4 144.2,114.8 145.6,116.4 146.8,120.4 144.2,124.4 143,128.4 140.8,132.4 140.2,132.9 139.6,132.4 136.2,131.6 132.2,131.4 128.1,128.8 126.5,132.4 124.1,134.6 120.1,135.8 116,136.7 114,132.4 116,130 119,128.4 120.1,127.2 123.1,124.4 124.1,122 124.5,120.4 128.1,117.5 132.2,118.2 136.2,117.1 137.4,116.4ZM176.7,116.4 180.5,114.6 184.5,113.8 187.4,116.4 186.4,124.4 184.9,132.4 184.5,133 179.4,136.5 176.5,137.9 172.5,138.9 168.4,138.9 164.4,138.3 160.4,136.7 158.7,132.4 160.4,128.6 164.4,124.3 168.4,121.1 169.4,120.4 172.5,118 176.7,116.4ZM312.6,116.4 313.5,113.1 317.5,112.7 321.6,113.4 325.6,113.6 329.6,115.9 333.7,116.1 337.7,116.8 341.7,116 345.7,115.7 349.8,115.5 353.8,116.3 357.8,116.1 361.9,115.2 365.9,116.2 369.9,117.8 373.4,116.4 374,116.1 378,116.6 382,117.9 390.1,119.1 394.1,119.1 398.1,118.2 406.2,116.6 410.2,115.1 414.3,113.9 418.3,113.3 422.3,113.1 430.4,112.5 434.4,112.5 438.4,114.5 442.5,116.2 446.5,119 448,120.4 450.5,121.9 453.2,124.4 454.6,127.5 458.6,128 459.5,128.4 462.6,131.4 466.6,131.7 468.9,132.4 466.6,133 462.6,133.3 458.6,134.3 454.6,134.4 450.5,135.1 446.5,135.9 442.5,136.3 438.4,135.9 430.4,136.5 426.3,136 422.3,135.9 414.3,136.4 410.2,136.9 406.2,136.2 402.2,136.8 398.1,137 394.1,136.3 390.1,136.8 386,136.6 382,136.6 378,136.2 374,135.2 369.9,133.3 365.9,133 361.9,132.5 357.8,132.9 353.8,132.3 349.8,132 345.8,132.4 341.7,133 337.7,132 333.7,131.5 329.6,131.9 327.6,132.4 325.6,133.1 321.6,133.7 317.5,133 313.5,132.4 309.5,130.1 306.9,128.4 308.6,124.4 309.5,123.9 312,120.4 312.6,116.4Z"/>
<path fill="#cdeb9d" d="M510.2,84.2 511,84 515,83.4 519,83 523.1,81.8 526,80.2 532.6,80.2 531.1,82.6 528.8,84.2 528.7,88.2 527.9,92.3 527.1,92.6 524,96.3 523.6,100.3 525.1,104.3 524.6,108.3 527.1,110.3 535.2,110.5 539.2,109.8 543.2,110.6 546.6,112.3 547.3,116.4 551.3,118.6 553.6,120.4 551.3,123.3 547.2,124.3 547,124.4 547.2,128.6 549.3,132.4 547.2,133.3 543.2,135.4 539.2,136.2 535.2,134.4 531.1,134.8 527.1,135.4 523.1,134.6 519,133.9 515,133.7 511,133.1 506.9,133.4 502.9,132.4 498.9,132.5 490.8,132.4 482.8,133.2 478.7,133 477,132.4 474.7,131.4 472.8,128.4 470.7,126.4 467.4,124.4 466.6,123.7 462.6,122.6 458.6,121.1 457,120.4 454.6,119.1 452.9,116.4 452.1,112.3 453,108.3 454.6,106.8 462.6,103.7 466.6,103.3 470.7,103.2 478.7,105.3 480.9,104.3 482.8,103.3 486.8,101.6 487.7,100.3 489.3,96.3 490.8,90.6 494.9,90 497.4,88.2 498.9,87.9 502.9,85.6 506.9,85 510.2,84.2ZM519,91.8 517.2,92.3 519,93.6 519.6,92.3 519,91.8ZM506.9,94.6 505.6,96.3 502.9,97.8 498.9,99.1 498.1,100.3 498.9,101.4 502.9,103.4 506.9,103.8 511,101.6 512.5,100.3 511,99.3 507.6,96.3 506.9,94.6ZM547.1,80.2 548.1,80.2 551.3,80.6 554.2,84.2 554.3,88.2 551.3,93.2 548.6,96.3 548.7,100.3 547.2,100.8 543.2,101.3 539.2,103 535.2,103 531.1,102.2 529.4,100.3 531.1,98.8 535.2,96.6 539.2,95.4 542.5,92.3 541.5,88.2 543.2,87.2 544.4,88.2 547.2,89.8 549.4,88.2 547.2,84.9 546.7,84.2 547.1,80.2ZM253,88.2 253.1,88.1 253.2,88.2 253.1,88.7 253,88.2ZM264.8,88.2 265.1,88.1 265.3,88.2 269.2,91.8 273.2,91.4 277.2,91.6 279,92.3 279.4,96.3 280.9,100.3 281.3,100.4 285.3,100.5 286.2,100.3 289.3,97 293.4,98.5 294.2,100.3 297.4,103.9 298.1,104.3 301.1,108.3 301.4,108.6 303.5,112.3 302.3,116.4 300.7,120.4 300.4,124.4 301.4,125.8 302.9,128.4 302.3,132.4 301.4,133.2 297.4,134.6 293.4,135.1 292.2,136.5 290.8,140.5 289.3,141.9 285.3,144.2 283.9,144.5 261.4,144.5 261.1,144.4 260.8,144.5 254.3,144.5 253.1,144.2 251.7,144.5 243.8,144.5 241,143.9 236.9,143.9 234.6,144.5 230.3,144.5 228.9,144.3 224.8,143.1 221.3,140.5 220.8,140.1 216.8,139.1 212.8,139.3 208.7,139.4 204.7,138.4 201,136.5 200.7,132.4 198.2,128.4 198.9,124.4 200.7,122.1 202.3,120.4 204.7,118.4 208.7,117.3 213.5,116.4 216.8,115.2 219.9,112.3 220.8,111.8 224.4,108.3 228.9,101.6 232.9,100.9 234.6,100.3 236.9,98.1 238.2,96.3 241,93.2 245,95.7 249,100.3 249.7,100.3 251.4,96.3 253.1,93.6 257.1,92.7 261.1,94.4 261.9,92.3 264.8,88.2ZM261.1,97.1 258.6,100.3 261.1,100.8 262.4,100.3 261.1,97.1ZM534.2,88.2 535.2,87.1 536.6,88.2 535.2,94.3 534.4,92.3 534.2,88.2ZM138,116.4 140.2,114.8 144.2,115.4 145.1,116.4 146.2,120.4 143.6,124.4 140.2,130.1 136.2,130.8 132.2,130.4 129.3,128.4 128.1,127.9 126.8,128.4 125.6,132.4 124.1,133.8 120.1,135.2 116,135.8 114.4,132.4 116,130.5 119.9,128.4 124.1,124.6 125.1,120.4 128.1,118 132.2,118.5 136.2,117.4 138,116.4ZM177.6,116.4 180.5,115 184.5,114.3 186.9,116.4 186.6,120.4 186.2,124.4 184.5,132.5 180.5,135.1 178.5,136.5 176.5,137.5 172.5,138.5 168.4,138.4 164.4,137.6 161.7,136.5 160.4,135.4 159.2,132.4 160.4,129.7 164.4,125.5 164.9,124.4 168.4,121.5 170.1,120.4 172.5,118.5 176.5,116.9 177.6,116.4ZM313.1,116.4 313.5,115.1 317.5,114.7 321.6,114.9 325.6,114.8 328.4,116.4 329.6,117.2 333.7,117.1 337.7,117.5 341.7,116.6 345.7,116.5 353.8,116.9 357.8,116.8 360.8,116.4 361.9,116.1 362.9,116.4 365.9,116.8 369.9,118.3 374,116.7 378,117.2 382,118.6 390.1,119.6 394.1,119.6 406.2,117.1 408.3,116.4 410.2,115.6 414.3,114.6 418.3,114.1 426.3,113.5 430.4,113 434.4,113 438.4,115.1 441.6,116.4 442.5,116.6 446.5,119.4 447.6,120.4 450.5,122.2 452.9,124.4 454.6,128.1 457,128.4 458.6,129.2 462,132.4 458.6,133.5 454.6,133.8 446.5,135.5 442.5,135.9 438.4,135.4 430.4,136.1 426.3,135.5 422.3,135.5 414.3,136.1 410.2,136.5 406.2,135.8 402.2,136.3 398.1,136.5 394.1,135.9 390.1,136.2 386,136 382,136 378,135.8 374,134.8 369.9,132.9 365.9,132.6 361.9,131.9 357.8,132.4 353.8,131.8 349.8,131.6 345.7,131.9 341.7,132.5 337.7,131.5 333.7,130.8 329.6,131.2 325.6,131.9 324,132.4 321.6,132.8 317.5,132.1 313.5,131.9 308.7,128.4 309.5,125.9 309.7,124.4 312.5,120.4 313.1,116.4Z"/>
<path fill="#e7f59a" d="M521.3,84.2 523.1,84 523.6,84.2 526.2,88.2 525.2,92.3 523.1,95.4 521.4,92.3 519,90.3 515,91.1 511.7,92.3 515,95.6 516.1,96.3 519,98.9 519.8,100.3 523.1,102.8 523.8,104.3 523.6,108.3 527.1,111.1 535.2,111.2 539.2,110.2 543.2,111.3 545.4,112.3 546.2,116.4 547.2,117.5 551.3,119.5 552.4,120.4 551.3,121.8 547.2,123.1 545.4,124.4 546.4,128.4 547.1,132.4 543.2,134.4 539.2,135.4 535.2,133.8 531.1,134.2 527.1,134.9 523.1,134 519,133.4 515,133.3 511,132.6 506.9,133 504.6,132.4 502.9,131.8 498.9,132 490.8,132.1 482.8,132.8 478.7,132.6 478.3,132.4 474.7,130.8 473.2,128.4 470.7,126.1 468,124.4 466.6,123.2 462.6,122.2 458,120.4 454.6,118.6 453.2,116.4 452.5,112.3 453.5,108.3 454.6,107.3 462.6,104.3 466.6,103.9 470.7,103.9 474.7,104.8 478.7,106 482.8,104.2 486.8,103.1 488.8,100.3 490.1,96.3 490.8,93.2 494.9,93.3 498.1,92.3 498.9,91.7 500.1,88.2 502.9,86.5 506.9,86.1 515,84.8 519,84.5 521.3,84.2ZM506.9,91.6 506,92.3 502.9,96 502.3,96.3 498.9,97.4 497,100.3 498.9,102.9 501.3,104.3 502.9,104.7 506.9,105.6 509.6,104.3 511,103.5 514.9,100.3 511,97.9 509.2,96.3 509.9,92.3 506.9,91.6ZM549.6,84.2 551.3,82.9 552.3,84.2 551.3,87.7 549.6,84.2ZM264.7,92.3 265.1,91.7 265.8,92.3 269.2,96.4 273.2,98.1 276.3,96.3 277.2,94.9 277.7,96.3 279.4,100.3 281.3,100.8 285.3,101 287.8,100.3 289.3,98.7 292.3,100.3 293,104.3 293.4,104.6 297.4,105.7 299.5,108.3 301.4,109.7 302.9,112.3 301.9,116.4 298.6,124.4 301.5,128.4 301.1,132.4 297.4,134 293.4,134.5 291.7,136.5 289.9,140.5 289.3,141.1 285.3,143.6 281.5,144.5 275.9,144.5 273.2,144.2 271.2,144.5 263,144.5 261.1,144 258.8,144.5 255.8,144.5 253.1,143.8 249.9,144.5 246.2,144.5 245,144.4 241,143.6 236.9,143.6 233.6,144.5 231.9,144.5 228.9,144 224.8,142.7 221.9,140.5 220.8,139.5 216.8,138.1 212.8,138.6 208.7,138.8 204.7,137.2 203.4,136.5 200.7,130.2 199.6,128.4 199.5,124.4 200.7,122.9 203.1,120.4 204.7,119.1 208.7,117.9 215.6,116.4 216.8,116 220.8,112.3 225,108.3 228.9,102.4 232.9,101.7 236.9,100.3 239.7,96.3 241,94.9 243,96.3 245,97.4 247.7,100.3 249,100.9 253.1,101.1 257.1,100.8 261.1,101.4 263.9,100.3 262.6,96.3 264.7,92.3ZM269.2,103.9 269,104.3 269.2,104.4 269.3,104.3 269.2,103.9ZM545.3,92.3 547.2,91.3 549.8,92.3 547.2,96.2 543.2,98.1 541.6,96.3 543.2,94.8 545.3,92.3ZM253.2,96.3 257.1,94.4 259.5,96.3 257.1,99.2 253.2,96.3ZM532.1,100.3 535.2,98.8 539.2,99 540.8,100.3 539.2,101 535.2,101.4 532.1,100.3ZM138.6,116.4 140.2,115.3 144.2,116 144.6,116.4 145.7,120.4 144.2,122.7 143,124.4 140.2,128.1 136.2,130 132.2,129.4 130.7,128.4 128.1,127.2 125.3,128.4 124.7,132.4 124.1,133 120.1,134.6 116,135 114.8,132.4 116,131 120.1,129.2 122.1,128.4 124.1,126.8 124.9,124.4 125.7,120.4 128.1,118.4 132.2,118.8 136.2,117.8 138.6,116.4ZM178.5,116.4 180.5,115.4 184.5,114.8 186.3,116.4 186.3,120.4 185.9,124.4 184.5,131.4 183.7,132.4 180.5,134.5 177.7,136.5 176.5,137.1 172.5,138.1 168.4,137.9 164.4,136.9 163.3,136.5 160.4,134.2 159.7,132.4 160.4,130.9 164.4,126.7 165.4,124.4 168.4,121.9 170.7,120.4 172.5,119 176.5,117.4 178.5,116.4ZM322.1,116.4 325.6,116.1 329.6,118.6 333.7,118.2 337.7,118.2 341.7,117.3 345.7,117.2 349.8,117.4 357.8,117.5 361.9,116.8 365.9,117.4 369.9,118.9 374,117.3 378,117.8 382,119.2 386,119.7 390.1,120 394.1,120.1 398.1,119.3 402.2,118.3 406.2,117.5 410.2,116.1 414.3,115.3 418.3,114.9 426.3,114.2 430.4,113.6 434.4,113.6 438.4,115.6 440.2,116.4 442.5,117 446.5,119.7 447.2,120.4 450.5,122.4 452.7,124.4 454.2,128.4 454.6,129.6 458.6,131.8 459.3,132.4 458.6,132.7 454.6,133.2 450.5,134.2 446.5,135 442.5,135.5 438.4,135 434.4,135.4 430.4,135.7 426.3,135 422.3,135.1 418.3,135.4 414.3,135.7 410.2,136.2 406.2,135.4 398.1,136.1 394.1,135.5 390.1,135.7 386,135.3 382,135.4 378,135.3 374,134.4 369.9,132.5 365.9,132 361.9,131.3 357.8,131.7 353.8,131.2 349.8,131.1 345.7,131.4 341.7,131.8 333.7,130.2 329.6,130.4 325.6,129.9 321.6,130.1 317.5,131.4 313.5,131.4 309.8,128.4 310.7,124.4 313,120.4 313.5,117.5 317.5,116.7 322.1,116.4Z"/>
<path fill="#f3faac" d="M501.6,88.2 502.9,87.4 506.9,87.1 511,86.9 519,87.1 523.1,88.1 523.1,88.2 523.1,89.5 519,88.9 515,89.3 511,90.3 506.9,90 503.8,92.3 502.9,93.4 501.6,92.3 501.6,88.2ZM256.6,96.3 257.1,96 257.4,96.3 257.1,96.6 256.6,96.3ZM264.5,96.3 265.1,95.2 266,96.3 265.1,98.7 264.5,96.3ZM491.6,96.3 494.9,95.3 497.3,96.3 495.9,100.3 498.8,104.3 502.9,105.5 506.9,107.1 511,108.6 511.3,108.3 512.6,104.3 515,102.4 519,102.8 521.1,104.3 522.3,108.3 523.1,109.1 527.1,112 535.2,111.8 539.2,110.7 543.2,111.9 544.1,112.3 545.2,116.4 547.2,118.7 551.1,120.4 547.2,122 543.7,124.4 545.6,128.4 545.1,132.4 543.2,133.4 539.2,134.6 535.2,133.1 531.1,133.7 527.1,134.5 523.1,133.4 519,132.9 515,132.8 512.6,132.4 511,132 508.9,132.4 506.9,132.6 506.2,132.4 502.9,131.3 498.9,131.6 494.9,131.7 490.8,131.7 486.8,131.9 482.8,132.4 478.7,132.1 474.7,130.2 473.6,128.4 470.7,125.7 468.6,124.4 466.6,122.7 462.6,121.8 458.9,120.4 454.6,118 453.5,116.4 452.8,112.3 454,108.3 454.6,107.8 458.6,106.5 462.6,105 466.6,104.6 470.7,104.6 474.7,105.4 478.7,106.8 482.8,105.3 486.8,104.5 490.8,104.5 491,104.3 489.8,100.3 490.8,96.7 491.6,96.3ZM510.8,96.3 511,95.7 511.5,96.3 511,96.5 510.8,96.3ZM237.9,100.3 241,96.5 245,98.8 246.3,100.3 249,101.5 253.1,102.1 257.1,101.9 261.1,102 265.1,100.7 268.6,100.3 269.2,100.2 273.2,100.2 277.2,98.8 277.9,100.3 281.3,101.2 285.3,101.5 289.3,100.4 291.9,104.3 293.4,105.4 297.4,107.6 298,108.3 301.4,110.8 302.3,112.3 301.5,116.4 299.8,120.4 297.4,124.2 293.4,124.2 293,124.4 293.4,124.6 297.4,125.9 298.8,128.4 299.8,132.4 297.4,133.5 293.4,134 291.3,136.5 289.3,140.2 289.1,140.5 285.3,143 281.3,144.1 277.2,144.2 273.2,143.8 269.2,144.4 264.6,144.5 261.1,143.5 257.1,144.4 253.1,143.4 249,144.2 241,143.2 236.9,143.3 232.9,144.4 228.9,143.7 224.8,142.2 222.5,140.5 220.8,138.9 216.8,137.2 212.8,137.9 208.7,138.2 205.2,136.5 204.7,135.8 202.5,132.4 200.7,127.7 200.1,124.4 200.7,123.7 203.8,120.4 204.7,119.7 208.7,118.5 212.8,117.5 216.8,116.7 217.4,116.4 220.8,113.4 221.3,112.3 225.5,108.3 228.9,103.3 232.9,102.5 236.9,102 237.9,100.3ZM269.2,100.4 267.7,104.3 269.2,105.5 270.9,104.3 269.2,100.4ZM139.3,116.4 140.2,115.7 143.7,116.4 144.2,116.9 145.2,120.4 144.2,121.9 142.4,124.4 140.2,127.3 136.2,129.2 132.2,128.4 128.1,126.5 125.7,124.4 126.3,120.4 128.1,118.9 132.2,119.1 136.2,118.2 139.3,116.4ZM179.5,116.4 180.5,115.9 184.5,115.3 185.7,116.4 186,120.4 185.7,124.4 184.5,130.2 182.7,132.4 180.5,133.9 176.8,136.5 176.5,136.6 172.5,137.7 168.4,137.4 164.9,136.5 160.4,133 160.2,132.4 160.4,132 164.4,127.9 165.9,124.4 168.4,122.4 171.3,120.4 172.5,119.5 176.5,117.9 179.5,116.4ZM412.3,116.4 414.3,116 426.3,115 430.4,114.1 434.4,114.1 438.8,116.4 442.5,117.3 446.8,120.4 450.5,122.7 452.4,124.4 453.7,128.4 454.6,131.8 455.7,132.4 454.6,132.6 450.5,133.7 446.5,134.5 442.5,135.1 438.4,134.5 434.4,135 430.4,135.4 426.3,134.4 418.3,135 414.3,135.3 410.2,135.8 406.2,135 402.2,135.2 398.1,135.6 394.1,135.1 390.1,135.2 386,134.6 382,134.9 378,134.8 374,134.1 370.6,132.4 369.9,131.9 365.9,131.5 361.9,130.8 357.8,131 353.8,130.7 349.8,130.7 341.7,131.1 337.7,130.6 333.7,129.6 329.6,129.7 326.1,128.4 325.6,128.1 321.6,124.1 321.1,124.4 320.9,128.4 317.5,130.7 313.5,130.9 310.5,128.4 311.7,124.4 313.5,120.6 317.5,118.8 321.6,117.4 325.6,118.2 329.6,120 333.7,119.3 337.7,119 341.7,118 345.7,117.9 349.8,118.1 353.8,118 357.8,118.1 361.9,117.5 365.9,117.9 369.9,119.5 374,117.8 378,118.5 382,119.8 394.1,121 395.5,120.4 398.1,119.8 402.2,118.8 406.2,118 410.2,116.7 412.3,116.4ZM115.2,132.4 116,131.5 120.1,130.1 123.6,132.4 120.1,134 116,134.1 115.2,132.4Z"/>
<path fill="#fffebe" d="M505.8,88.2 506.9,88.2 508.1,88.2 506.9,88.3 505.8,88.2ZM238.8,100.3 241,97.6 245,100.3 249,102.1 253.1,103.1 257.1,102.9 261.1,102.6 265.1,102.5 266.4,104.3 269.2,106.5 272.4,104.3 273.2,102.9 277.2,101 281.3,101.6 285.3,102 289.3,102.2 290.7,104.3 293.4,106.2 297.4,108.8 301.4,111.9 301.7,112.3 300.8,116.4 299.4,120.4 297.4,123.5 293.4,123.3 291.2,124.4 293.4,125.6 296.8,128.4 298.4,132.4 297.4,132.9 293.4,133.5 290.9,136.5 289.3,139.4 288.2,140.5 285.3,142.4 281.3,143.6 277.2,143.7 273.2,143.5 269.2,144.1 265.1,144.2 261.1,143 257.1,144 253.1,143 249,143.6 245,143.1 241,142.9 236.9,143 232.9,144.1 228.9,143.5 224.8,141.8 223.1,140.5 220.8,138.4 217,136.5 216.8,135.9 216,136.5 212.8,137.1 208.7,137.7 206.3,136.5 204.7,134.4 203.5,132.4 202.5,128.4 200.7,124.4 204.7,120.3 208.7,119.1 212.8,118 216.8,117.3 218.7,116.4 220.8,114.5 221.9,112.3 226,108.3 228.9,104.1 232.9,103.2 236.9,103.7 238.8,100.3ZM492.4,104.3 494.9,100.4 497.3,104.3 498.9,105.3 502.9,106.2 506.7,108.3 506.9,108.8 511,109.9 513,108.3 515,104.7 519,105.3 521,108.3 523.1,110.7 525.8,112.3 527.1,112.9 535.2,112.4 539.2,111.1 542.9,112.3 543.2,113.1 544.1,116.4 547.2,119.9 548.4,120.4 547.2,120.9 543.2,122.3 540.1,124.4 543.2,125.4 544.8,128.4 543.2,132.3 543.1,132.4 539.2,133.8 535.2,132.5 531.1,133.1 527.1,134 523.1,132.8 520.2,132.4 519,132.2 515,132.3 511,131.2 506.9,131.8 502.9,130.7 498.9,131.1 494.9,131.3 486.8,131.5 482.8,131.9 478.7,131.7 474.7,129.6 473.9,128.4 470.7,125.4 469.1,124.4 466.6,122.2 462.6,121.5 459.8,120.4 458.6,119.5 454.6,117.5 453.9,116.4 453.2,112.3 454.5,108.3 454.6,108.2 458.6,107.1 462.6,105.6 466.6,105.1 470.7,105.1 474.7,105.9 478.7,107.5 486.8,105.5 490.8,105.6 492.4,104.3ZM139.9,116.4 140.2,116.2 141.3,116.4 144.2,118.9 144.6,120.4 141.8,124.4 140.2,126.5 136.2,128.3 132.2,127.6 128.1,125.8 126.5,124.4 126.9,120.4 128.1,119.4 132.2,119.5 136.2,118.5 139.9,116.4ZM180.4,116.4 184.5,115.9 185.1,116.4 185.7,120.4 185.4,124.4 184.5,129 181.8,132.4 176.5,136.1 175.5,136.5 172.5,137.3 168.4,136.9 166.8,136.5 164.4,134.9 161.3,132.4 164.4,129.3 166.4,124.4 168.4,122.8 172.5,120 176.5,118.3 180.4,116.4ZM418.5,116.4 426.3,115.7 430.4,114.7 434.4,114.6 438.4,116.7 442.5,117.7 446.5,120.5 450.5,122.9 452.1,124.4 453.1,128.4 453.4,132.4 450.5,133.3 442.5,134.7 438.4,134.1 434.4,134.6 430.4,135 426.3,133.9 414.3,134.9 410.2,135.5 406.2,134.6 402.2,134.6 398.1,135.2 394.1,134.6 390.1,134.6 386,133.9 382,134.3 378,134.3 374,133.7 371.4,132.4 369.9,131.4 365.9,130.9 361.9,130.2 357.8,130.3 353.8,130.1 341.7,130.4 337.7,130.1 333.7,129 329.6,129 328.1,128.4 325.6,126.5 323.4,124.4 321.6,122.9 318.8,124.4 319.9,128.4 317.5,130 313.5,130.3 311.1,128.4 312.7,124.4 313.5,122.8 317.5,121.7 318,120.4 321.6,118.3 325.5,120.4 325.6,120.5 329.6,121.7 333.3,120.4 337.7,119.7 341.7,118.6 345.7,118.6 349.8,118.8 353.8,118.5 357.8,118.7 361.9,118.2 365.9,118.5 369.9,120.1 374,118.4 378,119.1 382,120.5 386,121.2 390.1,121.5 394.1,122.3 398,120.4 402.2,119.2 406.2,118.4 410.2,117.4 414.3,116.7 418.5,116.4ZM115.6,132.4 116,132 120.1,131 122.2,132.4 120.1,133.4 116,133.3 115.6,132.4Z"/>
<path fill="#fff0a6" d="M239.7,100.3 241,98.8 243.3,100.3 245,100.9 249,102.7 253.1,104.1 257.1,104 261.1,103.2 265.1,104.3 269.2,107.6 273.2,105.9 274.1,104.3 277.2,102.2 281.3,102 285.3,102.4 289.3,103.9 289.6,104.3 293.4,107 295.4,108.3 297.4,109.5 300.9,112.3 300.1,116.4 298.9,120.4 297.4,122.8 293.4,122.3 289.3,124.4 293.4,126.6 295.6,128.4 296.7,132.4 293.4,132.9 290.4,136.5 289.3,138.5 287.4,140.5 285.3,141.9 281.3,143.2 277.2,143.3 273.2,143.1 269.2,143.8 265.1,143.8 261.1,142.6 257.1,143.6 253.1,142.7 249,143 245,142.4 236.9,142.7 232.9,143.8 228.9,143.2 224.8,141.3 223.7,140.5 220.8,137.8 218.2,136.5 216.8,132.9 215.8,132.4 212.8,131.8 210.1,132.4 212.5,136.5 208.7,137.1 207.5,136.5 204.7,132.9 204.4,132.4 204.1,128.4 202.1,124.4 204.7,121.6 206.2,120.4 212.8,118.5 216.8,117.9 220,116.4 220.8,115.7 222.4,112.3 226.5,108.3 228.9,104.9 232.9,104 236.9,104.7 237.7,104.3 239.7,100.3ZM493.8,104.3 494.9,102.7 495.9,104.3 498.9,106.2 502.9,106.9 505.4,108.3 506.9,110.9 511,111.2 514.7,108.3 515,107.8 519,107.4 519.6,108.3 523.1,112.2 527.1,114 535.2,113.3 536.7,112.3 539.2,111.6 541.5,112.3 543.1,116.4 542.7,120.4 539.2,123.5 537.6,124.4 539.2,125.7 543.2,126.9 544,128.4 543.2,130.4 540.8,132.4 539.2,133 537.5,132.4 535.2,131.2 531.6,132.4 527.1,133.5 523.8,132.4 523.1,132 519,131.1 515,131.4 511,130.5 506.9,130.6 502.9,130.2 498.9,130.6 494.9,131 490.8,131 486.8,131 482.8,131.3 478.7,131.2 474.7,129 474.3,128.4 470.7,125 469.7,124.4 466.6,121.7 462.6,121.1 460.8,120.4 458.6,118.9 454.6,117 454.2,116.4 453.5,112.3 454.6,109.2 456.5,108.3 458.6,107.8 462.6,106.2 466.6,105.7 470.7,105.6 474.7,106.5 478.7,108.2 482.8,107.7 486.8,106.5 490.8,106.7 493.8,104.3ZM426.3,116.4 430.4,115.2 434.4,115.2 436.7,116.4 438.4,117.2 442.5,118.1 445.8,120.4 446.5,121 450.5,123.2 451.8,124.4 452.5,128.4 451.9,132.4 450.5,132.8 442.5,134.4 438.4,133.6 434.4,134.2 430.4,134.6 426.3,133.4 422.3,133.9 418.3,134.2 414.3,134.6 410.2,135.2 406.2,134.2 402.2,134.1 398.1,134.8 394.1,134.2 390.1,134.1 386,133.2 382,133.7 378,133.8 374,133.4 372.1,132.4 369.9,130.8 365.9,130.4 361.9,129.7 353.8,129.6 349.8,129.8 337.7,129.6 333.8,128.4 333.7,127.3 329.6,127.4 325.6,125 325,124.4 325.6,123.3 329.6,123.3 333.7,123.6 337.6,120.4 341.7,119.3 349.8,119.5 353.8,119.1 357.8,119.3 361.9,118.8 365.9,119.1 369.9,120.7 370.5,120.4 374,118.9 378,119.7 379.9,120.4 382,121.4 386,122.1 390.1,122.4 394.1,123.6 398.1,122 399.7,120.4 402.2,119.7 410.2,118 414.3,117.3 418.3,117 422.3,116.9 426.3,116.4ZM127.5,120.4 128.1,119.9 132.2,119.8 136.2,118.9 140.2,116.7 144,120.4 141.2,124.4 140.2,125.8 136.2,127.3 132.2,126.8 128.1,125.2 127.2,124.4 127.5,120.4ZM172.7,120.4 176.5,118.8 180.5,116.8 184.5,116.4 185.4,120.4 185.2,124.4 184.5,127.7 184.2,128.4 180.8,132.4 176.5,135.4 174,136.5 172.5,136.9 168.8,136.5 168.4,136.3 164.4,133.7 162.8,132.4 164.4,130.9 165.4,128.4 167,124.4 168.4,123.2 172.7,120.4ZM319.7,120.4 321.6,119.3 323.6,120.4 321.6,121.7 319.7,120.4ZM311.8,128.4 313.5,124.7 317.5,125.4 318.9,128.4 317.5,129.3 313.5,129.8 311.8,128.4ZM116.2,132.4 120.1,131.9 120.8,132.4 120.1,132.8 116.2,132.4Z"/>
<path fill="#fee18d" d="M240.7,100.3 241,99.9 241.5,100.3 245,101.6 249,103.3 251.8,104.3 253.1,105.7 257.1,105.3 259,104.3 261.1,103.8 262.9,104.3 265.1,105.2 268.9,108.3 269.2,108.7 273.2,108.6 275.8,104.3 277.2,103.3 281.3,102.4 285.3,102.9 288.5,104.3 293.4,107.8 297.4,110.2 300,112.3 299.3,116.4 298.4,120.4 297.4,122.1 293.4,121.4 289.3,122.8 287.9,124.4 289.3,125.7 293.4,127.5 294.4,128.4 293.4,132.1 290,136.5 289.3,137.7 286.5,140.5 285.3,141.3 281.3,142.7 277.2,142.8 273.2,142.7 269.2,143.4 265.1,143.3 261.1,142.1 257.1,143.2 253.1,142.3 249,142.4 245,141.8 241,142.2 236.9,142.4 232.9,143.4 228.9,143 224.8,140.9 224.3,140.5 220.8,137.2 219.3,136.5 218.3,132.4 216.8,131.1 212.8,130.5 208.7,129.7 207.3,128.4 204.7,126.8 203.5,124.4 204.7,123.1 208.2,120.4 212.8,118.9 216.8,118.6 220.8,116.8 221.3,116.4 223,112.3 227,108.3 228.9,105.6 232.9,104.8 236.9,105.3 238.9,104.3 240.7,100.3ZM458.8,108.3 462.6,106.9 466.6,106.3 470.7,106.2 474.7,107 477.6,108.3 478.7,108.9 482.8,108.7 484.1,108.3 486.8,107.5 490.8,107.8 494.9,104.9 498.9,107.1 502.9,107.7 504.1,108.3 506.4,112.3 506.9,116.4 506.9,116.4 507.1,116.4 511,112.9 511.2,112.3 515,109.1 519,109.1 521.9,112.3 523.1,114.5 527.1,115.1 535.2,114.2 538.2,112.3 539.2,112 540.1,112.3 542,116.4 541.4,120.4 539.2,122.3 535.6,124.4 539.2,127.3 543.2,128.4 539.2,131.3 535.2,129.9 531.1,130.4 529.4,132.4 527.1,133 525.3,132.4 523.1,131.2 519,130 515,130.5 511,129.7 506.9,129.3 502.9,129.6 498.9,130.2 494.9,130.6 490.8,130.7 486.8,130.5 482.8,130.8 478.7,130.8 474.7,128.4 470.7,124.7 470.3,124.4 466.6,121.2 462.6,120.8 461.7,120.4 458.6,118.3 454.6,116.5 453.9,112.3 454.6,110.3 458.8,108.3ZM498.9,111.6 497.8,112.3 498.9,112.8 499.3,112.3 498.9,111.6ZM519,118.7 518.2,120.4 519,121.8 520.6,120.4 519,118.7ZM428.3,116.4 430.4,115.8 434.4,115.7 435.7,116.4 438.4,117.7 442.5,118.4 445.3,120.4 446.5,121.5 450.5,123.4 451.6,124.4 451.9,128.4 450.5,132.2 450.1,132.4 446.5,133.1 442.5,134 438.4,133.2 434.4,133.8 430.4,134.2 426.3,132.9 422.3,133.5 418.3,133.7 414.3,134.2 410.2,134.9 406.2,133.7 402.2,133.5 398.1,134.3 394.1,133.8 390.1,133.5 386,132.5 382,133.1 378,133.4 374,133 372.9,132.4 369.9,130.2 365.9,129.8 361.9,129.1 357.8,128.9 353.8,129 349.8,129.4 341.7,129 337.7,129.2 335.3,128.4 335.2,124.4 337.7,122.2 340.1,120.4 341.7,120 349.8,120.1 353.8,119.6 357.8,120 361.9,119.5 365.9,119.6 367.8,120.4 369.9,121.4 371.8,120.4 374,119.5 378,120.3 382,122.2 386,123 390.1,123.2 394.1,124.7 395.8,124.4 398.1,123.6 401.3,120.4 402.2,120.2 406.2,119.3 414.3,117.9 418.3,117.6 422.3,117.8 426.3,117.2 428.3,116.4ZM341.7,123.6 341.2,124.4 341.7,125 342.1,124.4 341.7,123.6ZM128.1,120.4 132.2,120.1 136.2,119.3 140.2,117.4 143.3,120.4 140.2,125 136.2,126.3 132.2,126 128.1,124.5 128,124.4 128.1,120.4ZM173.8,120.4 176.5,119.3 180.5,117.3 184.5,117.8 185.1,120.4 184.9,124.4 184.5,126.4 183.5,128.4 180.5,131.9 179.9,132.4 176.5,134.8 172.5,136.5 168.4,135 164.4,132.4 166.1,128.4 167.5,124.4 168.4,123.6 172.5,121.1 173.8,120.4ZM321.4,120.4 321.6,120.3 321.8,120.4 321.6,120.5 321.4,120.4ZM312.4,128.4 313.5,126.1 317.5,127.8 317.8,128.4 317.5,128.6 313.5,129.3 312.4,128.4ZM208.6,136.5 208.7,136 209.1,136.5 208.7,136.5 208.6,136.5Z"/>
<path fill="#feca79" d="M240.1,104.3 241,102.2 245,102.2 250.2,104.3 253.1,107.5 257.1,106.7 261.1,104.7 265.1,106.1 267.8,108.3 269.2,110 273.2,110 277.4,104.3 281.3,102.8 285.3,103.4 287.4,104.3 289.3,105.6 293.4,108.6 297.4,110.9 299.1,112.3 298,120.4 297.4,121.3 293.4,120.4 289.3,121.2 286.5,124.4 285.3,126.5 283.8,128.4 285.3,129.8 286.9,128.4 289.3,127 293,128.4 290.3,132.4 289.5,136.5 289.3,136.8 285.7,140.5 285.3,140.7 281.3,142.2 273.2,142.4 269.2,143.1 265.1,142.9 261.1,141.6 257.1,142.8 253.1,141.9 249,141.8 245,141.2 241,141.9 236.9,142.1 232.9,143.1 228.9,142.7 224.9,140.5 224.8,140.3 220.8,136.6 220.4,136.5 220.1,132.4 216.8,129.5 212.8,129.3 210.7,128.4 208.7,127.3 205.1,124.4 208.7,121.6 209.8,120.4 212.8,119.4 216.8,119.2 220.8,117.8 222.7,116.4 223.6,112.3 227.6,108.3 228.9,106.4 232.9,105.6 236.9,105.9 240.1,104.3ZM285.3,111.9 284.5,112.3 285.3,113.1 286,112.3 285.3,111.9ZM460.4,108.3 462.6,107.5 466.6,106.8 470.7,106.7 474.7,107.6 476.4,108.3 478.7,109.6 482.8,109.5 486.8,108.6 490.8,109.1 492.7,108.3 494.9,107 498.9,108.1 502,108.3 502.9,108.6 504.9,112.3 504.8,116.4 506.9,117.8 510.7,116.4 511,116.1 512.4,112.3 515,110.1 519,110.5 520.7,112.3 519.7,116.4 519,116.5 517.1,120.4 519,123.7 522.8,120.4 523.1,119 525.1,116.4 535.2,115.1 539.2,113 541,116.4 540,120.4 539.2,121.1 535.2,122.9 531.1,122.7 530,124.4 526.8,128.4 523.1,130.4 519,128.9 515,129.6 508.2,128.4 506.9,128 506.2,128.4 502.9,129.1 498.9,129.7 494.9,130.3 490.8,130.4 486.8,130 478.7,130.3 474.7,128 470.8,124.4 470.7,124.1 466.6,120.7 462.6,120.4 458.6,117.6 455.7,116.4 454.6,114.5 454.2,112.3 454.6,111.3 458.6,109.4 460.4,108.3ZM494.9,111.2 494.5,112.3 494.9,112.9 498.9,114.3 500.9,112.3 498.9,109.1 494.9,111.2ZM430.2,116.4 434.4,116.2 438.4,118.1 442.5,118.8 444.7,120.4 446.5,122 450.5,123.7 451.3,124.4 451.3,128.4 450.5,130.6 447.5,132.4 442.5,133.6 438.4,132.8 434.4,133.4 430.4,133.8 426.6,132.4 426.3,132.2 425.8,132.4 422.3,133.1 418.3,133.3 414.3,133.8 410.2,134.5 406.2,133.3 402.2,133 398.1,133.9 390.1,133 388,132.4 386,129.4 382.4,132.4 378,132.9 374,132.6 373.6,132.4 369.9,129.7 365.9,129.2 361.9,128.5 360.5,128.4 357.8,127.9 354.8,128.4 349.8,128.9 345.7,128.7 342.5,128.4 344.6,124.4 345.7,122.5 349.8,121.1 352.2,120.4 353.8,120.2 356.1,120.4 357.8,120.9 359.8,120.4 361.9,120.2 365.9,120.2 369.9,122.1 373.1,120.4 374,120 375.7,120.4 378,121.6 382,123.1 386,124 390.1,124.1 394.1,125.5 398.1,125.1 398.7,124.4 402.2,120.9 403.2,120.4 406.2,119.8 410.2,119.3 414.3,118.6 418.3,118.3 422.3,118.7 426.3,118 430.2,116.4ZM132.3,120.4 136.2,119.6 140.2,118.1 142.6,120.4 140.2,124.1 136.2,125.3 132.2,125.3 129.9,124.4 132.3,120.4ZM174.9,120.4 176.5,119.7 180.5,117.8 184.5,119.1 184.8,120.4 184.7,124.4 184.5,125.1 182.8,128.4 180.5,131.1 178.9,132.4 176.5,134.1 172.5,135.3 168.4,133.7 166.4,132.4 166.8,128.4 168,124.4 168.4,124.1 172.5,121.7 174.9,120.4ZM337.3,124.4 337.7,124.1 338.2,124.4 341,128.4 337.7,128.7 336.8,128.4 337.3,124.4ZM313.1,128.4 313.5,127.5 315.4,128.4 313.5,128.8 313.1,128.4ZM533.5,128.4 535.2,127.9 536.3,128.4 535.2,128.6 533.5,128.4ZM526.8,132.4 527.1,130.3 527.4,132.4 527.1,132.5 526.8,132.4Z"/>
<path fill="#fdb365" d="M241.4,104.3 245,102.8 248.6,104.3 253.1,109 257.1,108.1 261.1,106.9 265.1,107 266.8,108.3 269.2,111.4 273.2,111.3 278.4,104.3 281.3,103.2 285.3,103.8 286.4,104.3 289.3,106.3 293.4,109.3 297.4,111.6 298.3,112.3 297.5,120.4 297.4,120.6 296.3,120.4 293.4,118.1 289.3,119.6 288.8,120.4 285.3,124.2 281.6,128.4 285.3,131.8 286.6,132.4 288.4,136.5 285.3,139.6 284.6,140.5 281.3,141.8 273.2,142 269.2,142.8 265.1,142.4 261.1,141.2 257.1,142.4 253.1,141.5 249,141.2 245,140.5 241,141.6 236.9,141.8 232.9,142.8 228.9,142.4 225.4,140.5 224.8,138.7 222.1,136.5 220.8,130.5 218.2,128.4 216.8,128 212.8,128.1 208.7,125.6 207.3,124.4 208.7,123.3 211.2,120.4 212.8,119.9 216.8,119.9 220.8,118.8 224,116.4 224.1,112.3 228.1,108.3 228.9,107.2 232.9,106.4 236.9,106.5 241,104.7 241.4,104.3ZM277.2,113.3 274.8,116.4 277.2,117.7 278.1,116.4 277.2,113.3ZM285.3,111.2 283.2,112.3 285.3,114.2 287,112.3 285.3,111.2ZM462.1,108.3 462.6,108.1 466.6,107.4 470.7,107.2 474.7,108.1 478.7,110.3 482.8,110.2 486.8,109.9 490.8,110.6 492.9,112.3 494.9,115 502.9,116.5 506.9,119.2 511,117.9 512.6,116.4 513.5,112.3 515,111.1 519,111.9 519.4,112.3 519,113.3 517.4,116.4 516,120.4 518.3,124.4 516.4,128.4 515,128.7 513.2,128.4 511,127.9 506.9,126.4 503.3,128.4 498.9,129.3 494.9,129.9 490.8,130 486.8,129.6 478.7,129.9 474.7,127.5 471.3,124.4 470.7,123.2 466.6,120.1 458.6,117 457.1,116.4 454.6,112.3 458.6,110.3 462.1,108.3ZM502.4,112.3 502.9,111.5 503.4,112.3 502.9,115.4 502.4,112.3ZM532.8,116.4 535.2,116 539.2,115 539.9,116.4 539.2,118.9 536.8,120.4 535.2,120.9 531.1,120.4 528.5,124.4 525.2,128.4 523.1,129.5 520.3,128.4 520.8,124.4 523.1,122.5 524.5,120.4 527.1,117.7 531.1,120.3 532.8,116.4ZM134.2,120.4 136.2,120 140.2,118.8 141.9,120.4 140.2,123 136.2,123.9 134.2,120.4ZM176.1,120.4 180.5,118.3 184.5,120.4 184,124.4 182.1,128.4 180.5,130.2 178,132.4 176.5,133.5 172.5,134.1 168.4,132.4 167.4,128.4 168.4,124.9 168.7,124.4 172.5,122.3 176.1,120.4ZM405.4,120.4 406.2,120.2 410.2,119.9 414.3,119.2 418.3,118.9 422.3,119.7 426.3,118.8 430.4,116.9 434.4,116.8 438.4,118.6 442.5,119.2 444.2,120.4 446.5,122.5 450.5,123.9 451,124.4 450.8,128.4 450.5,129.1 445.6,132.4 442.5,133.2 439,132.4 438.4,132.2 437.6,132.4 434.4,132.9 430.4,133.4 427.7,132.4 426.3,131.3 423.5,132.4 422.3,132.7 418.3,132.9 414.3,133.5 410.2,134.2 406.2,132.9 402.4,132.4 402.2,132.3 402,132.4 398.1,133.4 394.1,133 390.1,132.4 387.3,128.4 390.1,125.6 394.1,126.4 398.1,126.4 399.6,124.4 402.2,121.9 405.4,120.4ZM132,124.4 132.2,124.1 133.6,124.4 132.2,124.5 132,124.4ZM346.7,124.4 349.8,122.3 353.8,121.5 357.8,122.5 361.9,121.5 365.9,121.2 369.9,122.8 374,120.7 378,123 384,124.4 383.8,128.4 382,129.9 378,132.2 374,131.5 369.9,129.1 365.9,128.7 364.5,128.4 361.9,127.2 357.8,126.3 353.8,127 350.3,128.4 349.8,128.5 348.9,128.4 346.7,124.4ZM289.2,128.4 289.3,128.4 289.5,128.4 289.3,128.7 289.2,128.4Z"/>
<path fill="#fa9656" d="M243,104.3 245,103.5 247,104.3 249,106.2 251,108.3 253.1,110.3 257.1,109.3 261.1,108.8 262.6,108.3 265.1,107.9 265.7,108.3 268.8,112.3 269.2,114.1 271.3,116.4 273.2,117 277.2,118.9 279,116.4 279.4,112.3 277.2,110.4 276.5,108.3 279.4,104.3 281.3,103.6 285.3,104.3 289.3,107.1 293.4,110.1 297.4,112.3 297.4,112.6 293.4,116 292.3,116.4 289.3,117.8 287.6,120.4 281.3,127.4 280.8,128.4 281.3,129.6 284.3,132.4 285.3,134.2 286.7,136.5 285.3,137.9 283.4,140.5 281.3,141.3 277.2,141.4 273.2,141.6 269.2,142.4 265.1,142 261.1,140.7 257.1,142 253.1,141.1 248.6,140.5 245,139.5 243.8,140.5 241,141.2 236.9,141.5 232.9,142.5 228.9,142.2 225.8,140.5 224.8,137.1 224.1,136.5 221.9,132.4 221.1,128.4 220.8,128.1 216.8,126.8 212.8,127.2 209.1,124.4 212.7,120.4 216.8,120.7 217.8,120.4 220.8,119.9 225.3,116.4 224.8,114.1 224.7,112.3 228.6,108.3 228.9,107.9 232.9,107.2 236.9,107.1 241,106.2 243,104.3ZM285.3,110.6 282,112.3 285.3,115.4 288,112.3 285.3,110.6ZM464.7,108.3 466.6,108 470.7,107.7 473.2,108.3 474.7,109 478.7,111 482.8,111 486.8,111.2 490.8,112 491.3,112.3 493.8,116.4 494.9,117 498.9,117 502.9,117.5 506.7,120.4 506.9,122 507.9,120.4 511,119.5 515,120.7 517.3,124.4 515,127.4 511,126.5 506.9,124.8 502.9,127.6 500.8,128.4 494.9,129.5 490.8,129.7 486.8,129.1 482.8,129.1 478.7,129.4 474.7,127.1 471.8,124.4 470.7,122.3 468.2,120.4 466.6,119 462.6,116.6 458.6,116.4 456.5,112.3 458.6,111.3 460.9,112.3 462.6,115.9 464.3,112.3 464.7,108.3ZM514.7,112.3 515,112.1 516,112.3 515.7,116.4 515,119.3 514.3,116.4 514.7,112.3ZM136.1,120.4 140.2,119.5 141.2,120.4 140.2,121.9 136.2,120.5 136.1,120.4ZM177.2,120.4 180.5,118.8 183.5,120.4 182.8,124.4 181.4,128.4 180.5,129.4 177.1,132.4 176.5,132.8 172.5,133 171.2,132.4 168.4,129.8 168.1,128.4 168.4,127.2 169.7,124.4 172.5,122.9 176.5,121 177.2,120.4ZM411.2,120.4 414.3,119.8 418.3,119.5 421.8,120.4 422.3,120.9 423,120.4 426.3,119.6 430.4,117.5 434.4,117.4 438.4,119.1 442.5,119.5 443.7,120.4 446.5,123 450.5,124.2 450.7,124.4 450.5,126.7 449.7,128.4 444.1,132.4 442.5,132.8 440.7,132.4 438.4,131.4 435,132.4 430.4,133 428.8,132.4 426.3,130.3 422.3,131.1 419.5,132.4 418.3,132.5 414.3,133.1 410.2,133.9 406.2,132.5 405.7,132.4 402.2,130.1 400.3,132.4 398.1,133 392.9,132.4 390.1,129.9 389.1,128.4 390.1,127.4 394.1,127.2 398.1,127.8 400.6,124.4 402.2,122.9 406.2,121.2 410.2,121.3 411.2,120.4ZM526,120.4 527.1,119.3 528.7,120.4 527.1,124.2 526,120.4ZM348.4,124.4 349.8,123.4 353.8,123.3 357.8,124 361.9,123.1 365.9,122.6 369.9,123.4 374,121.8 378,124.3 378.4,124.4 378,125.1 377,128.4 374,129.8 369.9,128.6 368.6,128.4 365.9,127.2 361.9,125.6 357.8,124.8 353.8,125.3 349.8,126.4 348.4,124.4ZM522.4,128.4 523.1,125.9 523.6,128.4 523.1,128.7 522.4,128.4Z"/>
<path fill="#f57547" d="M244.5,104.3 245,104.1 245.5,104.3 253.1,111.6 257.1,110.5 261.1,110.3 265.1,109.3 267.3,112.3 268,116.4 269.2,117.1 273.2,118.9 277.2,120.2 279.9,116.4 281.3,113.2 285,116.4 285.3,116.7 286.4,120.4 281.3,126.2 280.3,128.4 281.3,131 282.8,132.4 285,136.5 282.2,140.5 281.3,140.8 277.2,140.9 273.2,141.2 269.2,142.1 265.1,141.5 261.8,140.5 261.1,140 260.6,140.5 257.1,141.6 253.1,140.7 251.3,140.5 249,139.3 245,138.4 242.5,140.5 241,140.9 236.9,141.3 232.9,142.2 228.9,141.9 226.3,140.5 225.4,136.5 224.8,135.8 222.6,132.4 221.8,128.4 220.8,127 216.8,125.7 212.8,126.2 210.4,124.4 212.8,121.8 216.8,122.5 220.8,121 221.4,120.4 226.5,116.4 226.3,112.3 228.9,109.4 231.1,108.3 232.9,108 236.9,107.7 241,107.6 244.5,104.3ZM253.1,114.8 252.4,116.4 253.1,117.1 254.5,116.4 253.1,114.8ZM280.5,104.3 281.3,104 283,104.3 289.3,107.8 293.4,110.8 296.1,112.3 293.4,114.8 289.3,115.1 289,112.3 285.3,109.9 281.3,111.8 277.6,108.3 280.5,104.3ZM469.8,108.3 470.7,108.3 470.9,108.3 478.7,111.7 482.8,111.8 486.2,112.3 486.8,112.6 490.6,116.4 490.8,116.7 494.9,119.1 498.9,118.2 502.9,118.5 505.4,120.4 506,124.4 502.9,126.7 498.9,128.2 498.5,128.4 494.9,129.2 490.8,129.3 486.8,128.6 482.8,128.6 478.7,129 474.7,126.7 472.3,124.4 470.7,121.4 469.4,120.4 466.6,118 464.1,116.4 466.2,112.3 466.6,110.8 469.8,108.3ZM458.3,112.3 458.6,112.2 458.9,112.3 458.6,112.9 458.3,112.3ZM139.1,120.4 140.2,120.1 140.5,120.4 140.2,120.8 139.1,120.4ZM178.2,120.4 180.5,119.3 182.5,120.4 181.7,124.4 180.6,128.4 176.5,132 172.5,131.9 168.9,128.4 170.8,124.4 172.5,123.5 176.5,121.9 178.2,120.4ZM415.5,120.4 418.3,120.2 419.2,120.4 422.3,123.4 426.3,120.4 430.4,118.1 434.4,118 438.4,119.5 442.5,119.9 443.2,120.4 446.5,123.4 450.2,124.4 448.2,128.4 442.5,132.5 438.4,130.6 434.4,131.8 431.8,132.4 430.4,132.6 429.9,132.4 426.3,129.4 422.3,128.4 418.3,129.8 416.3,132.4 414.3,132.7 410.2,133.6 407,132.4 406.2,130.8 402.8,128.4 402.2,127.2 401.6,124.4 402.2,123.9 406.2,122.4 410.1,124.4 410.2,124.6 410.8,124.4 415.5,120.4ZM363.4,124.4 365.9,124 369.9,124.1 374,122.8 376.4,124.4 373.9,127.9 369.9,125.9 365.9,125.1 363.4,124.4ZM509.2,124.4 511,122.2 515,122.4 516.2,124.4 515,126 511,125.2 509.2,124.4ZM392.2,128.4 394.1,128.1 395.8,128.4 394.1,130 392.2,128.4ZM397,132.4 398.1,131.2 398.5,132.4 398.1,132.5 397,132.4Z"/>
<path fill="#e95c47" d="M236.4,108.3 236.9,108.3 237.6,108.3 241,112.7 241.6,112.3 242.2,108.3 245,105.9 247.7,108.3 249,109.4 252.3,112.3 250.6,116.4 253.1,118.9 258,116.4 257.1,115 254.6,112.3 257.1,111.6 261.1,111.8 265.1,111.4 265.8,112.3 266.3,116.4 273.2,120.6 277.2,121.1 278.3,120.4 280.7,116.4 281.3,115.2 282.7,116.4 285.3,120.4 281.3,125 279.8,128.4 281.3,132.3 281.4,132.4 282.7,136.5 281.3,139.5 277.2,140 276.9,140.5 273.2,140.9 269.2,141.8 265.1,141.1 263.2,140.5 261.1,138.9 259.4,140.5 257.1,141.2 253.6,140.5 253.1,139.7 249,137.9 245,137.3 241.2,140.5 241,140.5 236.9,141 232.9,141.9 228.9,141.7 226.7,140.5 226.3,136.5 224.8,134.8 223.3,132.4 222.5,128.4 220.8,126 216.8,124.5 212.8,125.3 211.6,124.4 212.8,123.2 216.8,124.2 220.8,122.4 222.6,120.4 227.7,116.4 228.3,112.3 228.9,111.7 232.9,109 236.4,108.3ZM261.1,126.9 260.4,128.4 259,132.4 261.1,133.6 262.7,132.4 263.5,128.4 261.1,126.9ZM278.9,108.3 281.3,104.7 288.6,108.3 285.3,109.2 281.3,110.6 278.9,108.3ZM290.9,112.3 293.4,111.5 294.8,112.3 293.4,113.7 290.9,112.3ZM467.9,112.3 470.7,109.7 474.7,110.9 478.6,112.3 478.7,112.5 482.8,113.3 486.8,114.4 488.8,116.4 490.8,120 491.8,120.4 494.9,120.8 498.9,119.4 502.9,119.5 504.1,120.4 504.7,124.4 502.9,125.7 498.9,127.1 496.7,128.4 494.9,128.8 490.8,129 487.8,128.4 486.8,127.9 482.8,127.7 479.7,128.4 478.7,128.5 474.7,126.2 472.7,124.4 470.7,120.5 466.6,117 465.7,116.4 467.9,112.3ZM179.3,120.4 180.5,119.8 181.6,120.4 179.3,128.4 176.5,130.8 172.5,130.8 170,128.4 171.9,124.4 172.5,124.1 176.5,122.8 179.3,120.4ZM427.4,120.4 430.4,118.7 434.4,118.7 438.4,120 442.5,120.3 446.5,123.9 448.3,124.4 446.8,128.4 442.5,131.5 438.4,129.8 434.4,131.1 430.4,131.9 426.4,128.4 423,124.4 426.3,121.5 427.4,120.4ZM372.1,124.4 374,123.9 374.8,124.4 374,125.6 372.1,124.4ZM403.8,124.4 406.2,123.6 407.7,124.4 410.2,126.9 413.4,128.4 413.9,132.4 410.2,133.2 407.9,132.4 406.2,129 405.4,128.4 403.8,124.4ZM417.6,124.4 418.3,123.8 419,124.4 418.3,125.1 417.6,124.4ZM514,124.4 515,124.2 515.2,124.4 515,124.6 514,124.4Z"/>
<path fill="#da464d" d="M244.7,108.3 245,108.1 249,111.3 250.2,112.3 249,115.7 248,116.4 249,116.6 253.1,120.8 261.1,116.5 265.1,117.2 269.2,119.2 271.1,120.4 273.2,121.4 277.2,122 279.5,120.4 281.3,117.2 283.6,120.4 281.3,123.4 280.7,124.4 279.3,128.4 280.4,132.4 277.2,136.1 273.2,135.4 270.8,136.5 273.4,140.5 269.2,141.5 265.1,140.7 264.6,140.5 261.1,137.8 258.2,136.5 261.1,134.9 264.3,132.4 265.1,130.5 265.6,128.4 265.1,126 261.1,124.7 259.4,128.4 257.1,132.2 256.8,132.4 254.6,136.5 253.1,137.2 249,136.6 245,136.1 241,139.5 238.8,140.5 236.9,140.7 232.9,141.6 228.9,141.4 227.2,140.5 227.2,136.5 224.8,133.7 224,132.4 223.3,128.4 220.8,125 219.3,124.4 220.8,123.7 223.8,120.4 228.9,116.4 230,112.3 232.9,110.2 236.9,109.7 239.3,112.3 241,114.5 245,112.3 244.7,108.3ZM280.2,108.3 281.3,106.7 285.3,108 286,108.3 281.3,109.4 280.2,108.3ZM293.1,112.3 293.4,112.3 293.5,112.3 293.4,112.5 293.1,112.3ZM469.5,112.3 470.7,111.2 474.7,111.9 475.9,112.3 478.7,115 482.8,116.2 486.8,116.3 489.7,120.4 490.8,121.3 494.9,122 498.9,120.7 502.9,121.2 503.4,124.4 502.9,124.8 498.9,126.1 494.9,128.4 490.8,128.6 489.7,128.4 486.8,127 482.8,126.7 478.7,127.9 474.7,125.8 473.2,124.4 471.2,120.4 470.7,117.7 468.6,116.4 469.5,112.3ZM180.4,120.4 180.6,120.4 180.5,120.7 180.4,120.4ZM428.5,120.4 430.4,119.3 434.4,119.3 438.1,120.4 438.4,121.2 442.5,121.1 446.5,124.4 445.4,128.4 442.5,130.5 438.4,129 434.4,130.3 430.4,130.8 427.6,128.4 424.2,124.4 426.3,122.5 428.5,120.4ZM173.9,124.4 176.5,123.7 178.3,124.4 177.8,128.4 176.5,129.5 172.5,129.7 171.1,128.4 172.5,125.5 173.9,124.4ZM408.9,132.4 410.2,129.2 412.4,132.4 410.2,132.9 408.9,132.4ZM255.4,140.5 257.1,137.9 258.2,140.5 257.1,140.8 255.4,140.5Z"/>
<path fill="#c52c4b" d="M231.5,112.3 232.9,111.3 236.9,111.2 238,112.3 241,116.3 249,118.8 250.5,120.4 253.1,122.7 257.1,120.4 260,124.4 258.3,128.4 257.1,130.5 255.3,132.4 253.1,135.2 249,134.8 245,134.8 241,138.2 236.9,139.7 236.5,140.5 232.9,141.2 228.9,141.2 227.7,140.5 228.1,136.5 224.7,132.4 224,128.4 221.3,124.4 224.8,120.6 228.9,117.5 230.7,116.4 231.5,112.3ZM249,127.3 247.1,128.4 249,129.8 253.1,129.1 253.8,128.4 253.1,127.5 249,127.3ZM474.4,116.4 474.7,116.1 475.1,116.4 478.7,116.7 482.8,118.2 486.8,118.1 488.4,120.4 490.8,122.3 494.9,123.2 498.9,123.1 500.8,124.4 498.9,125 494.9,126.5 490.8,127.7 486.8,126.1 482.8,125.7 478.7,127.2 474.7,125.3 473.7,124.4 471.8,120.4 474.4,116.4ZM261.8,120.4 265.1,119.6 269.2,120.3 273.2,122.3 277.2,122.8 279.5,124.4 278.8,128.4 279.4,132.4 277.2,135 273.2,134 271.1,132.4 269.2,131.5 266.5,128.4 266.8,124.4 265.1,121.7 261.8,120.4ZM280.7,120.4 281.3,119.4 282,120.4 281.3,121.3 280.7,120.4ZM429.6,120.4 430.4,120 434.4,119.9 436.1,120.4 437.3,124.4 437.7,128.4 434.4,129.6 430.4,129.8 428.8,128.4 425.5,124.4 426.3,123.6 429.6,120.4ZM439.2,124.4 442.5,122.2 445.1,124.4 443.9,128.4 442.5,129.4 439.5,128.4 439.2,124.4ZM172.2,128.4 172.5,127.8 175.1,128.4 172.5,128.7 172.2,128.4ZM409.8,132.4 410.2,131.5 410.9,132.4 410.2,132.6 409.8,132.4ZM260.5,136.5 265.1,134 267.6,136.5 269.2,137.3 271.9,140.5 269.2,141.1 266.1,140.5 265.1,138.7 260.5,136.5Z"/>
<path fill="#ab0f45" d="M232.5,116.4 232.9,113.4 236.9,113.5 238.4,116.4 241,117.2 245,119.3 247.8,120.4 249,121.5 252.7,124.4 249,125.5 245,127.9 244.7,128.4 245,129.4 249,131.8 253.1,131.4 253.7,132.4 253.1,133.3 249,133.1 245,133.5 241,136.9 236.9,137.2 235,140.5 232.9,140.9 228.9,140.9 228.1,140.5 228.9,136.9 230.8,136.5 229.6,132.4 228.9,131.7 224.8,129 224.7,128.4 222.3,124.4 224.8,121.7 228.9,118.7 232.5,116.4ZM472.4,120.4 474.7,117.2 478.7,117.6 482.8,120.1 486.8,119.9 487.1,120.4 490.8,123.4 495.2,124.4 494.9,124.5 490.8,126.1 486.8,125.3 482.8,124.7 478.7,126.5 474.7,124.9 474.2,124.4 472.4,120.4ZM253.3,124.4 257.1,122.2 258.7,124.4 257.3,128.4 257.1,128.8 256.5,128.4 253.3,124.4ZM269.3,124.4 273.2,123.1 277.2,123.7 278.2,124.4 278.3,128.4 278.5,132.4 277.2,133.9 273.2,132.5 269.2,130.4 267.4,128.4 269.2,124.5 269.3,124.4ZM427.8,124.4 430.4,121.8 434.4,122.2 435,124.4 435.6,128.4 434.4,128.8 430.4,128.8 430,128.4 427.8,124.4ZM440.8,124.4 442.5,123.3 443.8,124.4 442.5,128.4 440.8,124.4ZM267.7,140.5 269.2,138.9 270.5,140.5 269.2,140.8 267.7,140.5Z"/>
<path fill="#9e0142" d="M228.2,120.4 228.9,119.9 232.9,117.7 236.9,119.8 241,118.1 244.5,120.4 245,121.6 247.8,124.4 245,125.9 243.5,128.4 243.6,132.4 241,133.6 236.9,129 235.8,132.4 232.9,135.2 230.8,132.4 228.9,130.6 226.1,128.4 224.8,126.9 223.4,124.4 224.8,122.8 228.2,120.4ZM473,120.4 474.7,118 478.7,118.4 481.8,120.4 481.7,124.4 478.7,125.8 474.7,124.5 473,120.4ZM256.3,124.4 257.1,123.9 257.4,124.4 257.1,125.4 256.3,124.4ZM271.9,124.4 273.2,124 276.3,124.4 277.2,124.9 277.8,128.4 277.5,132.4 277.2,132.8 273.2,131.6 269.2,129.4 268.3,128.4 269.2,126.6 271.9,124.4ZM489.9,124.4 490.9,124.4 489.9,124.4ZM228.6,140.5 228.9,139.1 232.9,139 233.5,140.5 232.9,140.6 228.9,140.6 228.6,140.5Z"/>
<path d="M63.6,80.2V144.5M128.1,80.2V144.5M192.6,80.2V144.5M257.0,80.2V144.5M321.5,80.2V144.5M386.0,80.2V144.5M450.4,80.2V144.5M514.9,80.2V144.5M579.4,80.2V144.5M31.4,136.5H611.6M31.4,120.4H611.6M31.4,104.3H611.6M31.4,88.2H611.6" stroke="#808080" stroke-opacity="0.35" stroke-width="0.7" fill="none"/>
<path d="M87.6,105.1 87.8,107.5 90.2,110.7 91.5,113.2 93.5,115.9 94.6,118.8 95.9,121.2 97.8,123.9 99.9,126.3 100.5,128.7 101.2,131.2 101.5,132.1 103.9,132 106.3,131 108.8,130 111.2,128.7 113.6,127.9 115.5,126.5 117.6,125.5 120,124.9 122.5,123.3 124.6,122 126,119.6 127.8,116.4 125.8,114.6 123.6,114 122.3,112.7 122.1,110.4 121.7,110.9 120.4,111.7 118.4,113.6 116,113.6 114.6,113.3 114.6,111.1 113.9,110.6 113.3,112 112.3,111.1 112.1,109.6 110.7,108.3 109.6,106.7 108.8,105.1 109.6,104.3 111.2,104 112.3,104.3 113.3,105.9 114.4,107.7 116,108.3 117.6,109.5 119.2,109.8 120.8,109.5 122.3,109 123.3,109.6 123.8,111.4 125.7,111.5 127.3,111.7 130.5,112.2 132.9,112 135.4,111.9 138.3,111.5 139.1,112.5 140.2,114 141.3,114.6 142.3,115.2 144.2,115.7 142.9,116.5 142.6,116.9 144.7,118.9 146.6,118.9 147.8,118.3 148.1,116.9 148.7,118 148.7,120.4 148.7,122 149.4,124.4 149.9,126.8 151,129.2 152,131.6 152.8,133.6 153.9,135.7 154.7,138.1 155.8,139.4 156.5,139.5 157.4,138.2 158.9,137.6 160,136 160.2,133.2 160.8,131.2 160.5,128.4 161.3,127 163.6,126 164.2,125.2 166,123.9 168.4,121.5 170.8,120.1 171.6,118 173.6,117.7 175.3,117.5 177.3,116.7 178.9,116.2 179.4,116.7 180,118.8 181.3,120.4 182.6,122 183.5,123.6 183.7,126.3 185,127.1 186.1,126.3 187.4,125.4 188.5,125.9 188.9,127.9 189.5,130.4 190.3,132.9 190.3,135.2 190,137.3 189.8,139.4 190.6,140.5 191.8,141.6 192.9,142.6 193.2,144 193.5,145.6 194,146.9M198.2,146.9 198,145.3 197.4,143.5 196.1,142.6 194.7,141.4 193.4,140.8 192.7,138.9 192.4,137.6 191.3,136.5 191.8,134.9 192.4,133.2 192.6,131 193.5,130.8 194.2,132.1 196.1,132.9 197.2,133.9 198,135.5 199.8,135.8 200.6,137.3 200.3,138.6 201.3,138.1 202.9,136.8 203.9,135.8 205.8,135 207.4,133.9 207.6,131.6 207.1,129.2 206.6,127.6 205.5,126.3 203.9,125 202.9,123.6 201.8,122 202.2,120.4 203.5,119.1 204.7,118.5 206.3,117.7 207.9,118 208.4,119.7 209.3,119.9 209.5,118.5 211.1,118 213.5,117.2 214.5,116 215.5,116.7 217.6,116 219.6,115.1 221.6,113.3 223.7,111.5 224.5,109.5 225.9,107.5 227.4,105.6 228,104.3 226.4,103.3 227.9,102.7 227.7,101.4 226.1,99.8 225.3,97.9 223.7,96.3 225.3,94.7 227.2,93.4 228.8,93.1 226.7,92.1 224,92.7 223,91.9 221.1,90.2 222.4,89.5 224,88.6 226.4,87 228,87.4 226.7,89.8 228.5,89.4 231.7,88.4 232.9,88.9 233.3,90.6 232.7,91.5 234.6,92.3 235.3,93.9 235.3,95.8 235,97.1 236.9,96.8 239.3,96.1 240.1,94.7 240,93.1 238.5,90.6 236.9,89 237.7,87.9 240.4,86.6 240.9,84.7 242.5,83.9 245,83.1 247.4,82.6 249.8,81.3 251.4,79.9 253.8,77.8M83.8,104.3 83.9,105.9 85.4,107.8 86.7,109.9 87.8,112.3 88.8,114.3 90.9,117.2 91.5,119.6 91.7,122.3 93.6,123.6 94.7,126.8 96.4,128.4 98.3,130.4 100.2,131.8 101.2,132.4 101.2,133.9 103.1,135.7 105.5,135.2 108,134.5 110.4,134.4 112.8,133.6 113.9,133.4 113.8,135.7 113,137.7 111.7,140 110.4,142.4 109.1,144.5 107.6,146.4M83.8,104.3 84.9,106.7 86.5,107.8 87.3,106.2 87.6,105.1M602.7,94.8 606.8,95.8 610,95.3M33,93.9 36.2,93.2 39.5,93.4 43.5,92.9 47.2,92.6 48,93.4 49.1,93.2 48.5,95 49.1,97.1 47.8,97.9 49.1,98.8 51.5,99.7 55.6,100.5 57.2,102.2 60.4,103.5 63.3,103.7 64,101.1 66.1,99.7 68.5,100.1 71.7,101.4 74.9,102.2 78.1,102.9 80.2,102.1 82.2,101.9 83.8,102.5 86.2,102.2 87.5,100.6 88.1,98.7 89.1,96.3 89.4,94.2 89.6,93.5 87.8,93.7 85.4,94.5 83,94.2 80.7,93.4 78.9,94.3 76.5,93.5 75.4,93.1 74.9,91.5 74.1,90.5 74.6,89 73.6,88.2 75.7,87.6 78.1,87.4 78.1,86.5 81.4,86.3 84.6,85 87.8,85 90.2,86.1 92.6,86.6 95.9,86.6 98.3,85.8 98.3,84.2 95.9,82.6 93.5,81.3 91.8,80.2M597.4,81 596.8,83.4 597.4,85.8 596.5,89.4 597.4,91 597.3,93.1 599.7,92.7 601.5,93.7 602.6,94.7 604.4,93.5 608.1,93.4 610.5,92.1M32.7,87 36.4,85.2 36.4,83.4 38.7,82.8 41.9,83.3 43.5,82.1 45.6,81.2 47.8,82 48.3,83.6 51.1,85.5 53.6,86.3 56.5,88.2 57.2,90.2 56.7,91.6 58,90.8 59,89.8 58,88.7 58.8,87.4 61.2,88.1 61.1,88.6 60.2,87.1 57.2,85.2 54.3,84.2 53.2,82.5 51.2,81.3 51.2,79.7M53.3,79.2 53.5,80.2 54.4,79.7 55.6,81 57.2,82.6 59.6,83.6 61.2,84.4 62.7,85.3 62.7,87.8 64,89 65.4,91 66.4,93.4 67.7,93.9 68.5,93.7 68.8,92.3 70.1,91.9 69.3,90.6 68.3,89.4 68,87.6 69.3,87.9 70.1,87 73.3,87 73.6,87.8 75.4,87.4 78.1,86.5M51.5,91.5 56.5,91.1 55.7,93.5 51.5,92.1 51.5,91.5M44.6,86.6 47,86.3 46.9,89.5 44.9,89.8 44.6,86.6M45.3,83.6 46.7,83.4 46.5,85.8 45.4,85.7 45.3,83.6M83.5,96.3 84.6,95.8 87,95.3 86.2,96.3 84.6,96.9 83.5,96.3M69.4,95.5 73.8,95.8 71.4,96.4 69.4,95.5M108,80.2 108,83.4 109.6,85.3 111.2,87.4 110.4,89.8 110.4,92.1 112.8,93.1 115.2,93.4 118.4,93.2 118.1,89.8 116.8,88.2 116.5,85.8 116,85 113.6,83.4 113.9,81 116.8,79.7M602.7,94.8 601.9,95.5 600.7,97.9 597.9,99 596.6,100.3 595.8,101.9 596,104.3 595,105.9 593.1,107 590.7,108 588.2,110.3 587.4,112.7 585.8,114.4 584.4,117.2 584.2,118.8 585,120.7 585.5,122.8 585,126 583.7,128.7 584.5,130.8 584.7,132.6 586.6,134.5 587.9,135.7 589.5,137.1 590.3,138.9 591.5,140.5 593.1,141.4 594.7,142.6 596.6,144 598.7,145.3 599.5,145.6 601.9,144.8 604.4,144.2 606.8,144.5 608.4,145 610,144.2M31.9,143.2 33.8,142.6 35.4,142.4 37,142.2 38.7,142.6 39.8,143.7 40.4,145.1 41.9,145.6 43.5,145.3 45.1,145.1 45.7,145.6 46.7,146.4M160,136.9 160.8,137.3 162.3,138.9 163.2,140.5 162.9,142.1 161.3,143 160.3,142.6 160,140.5 160.2,138.9 160,136.9M206.6,121.7 207.9,120.4 209.8,120.4 210.3,121 209.3,122.6 207.9,123.3 206.6,122.8 206.6,121.7M226.4,112.3 227.9,112.3 227.2,114 226.3,117.2 225.1,115.9 225,114.8 226.4,112.3M241.2,102.2 241.4,100.3 240.6,99.5 241.7,98.2 242.5,97.6 245,95.6 247.4,95.3 250.3,95.3 251.7,93.4 252.7,92.3 254.6,92.4 256.2,90.6 257,88.6 257,87 258.6,85.8 259.5,87.4 260.3,89 259.5,91 258.6,92.3 258.2,94.3 258.3,95.1 257,96.3 256.7,95.5 255.7,96 255.1,96.8 253.8,96.8 252.2,96.9 251.9,97.4 250.6,98.7 249.3,97.9 249,96.9 247.4,97.1 245.8,97.6 244.1,98 242.5,97.9 243.7,99 243.8,100.3 243,102.1 242,102.7 241.2,102.2M245,99.5 246.6,98.7 248.2,97.6 248.5,98.2 247.7,99 245.8,99.8 245,99.5M257,85.8 257.5,84.2 257.8,82.9 259.1,83.1 259.8,81.2 259.9,79.6M265.9,81.8 265.6,82.9 263.5,83.6 262.4,85 259.9,84.1 258.6,84.5 257.7,85 257,85.8M225.8,122.8 228.3,123 228.3,125.2 227.2,127.1 227.4,129.2 228.8,130 230.9,130.4 231.3,132.3 230.1,131.6 228.8,130.8 227.2,130.5 225.9,130.4 225.8,129.2 224.8,128.4 224.6,126.5 225.4,126 225.4,124.4 225.8,122.8M233.5,136.8 235,138.1 235.3,140.5 234.8,142.1 233.7,142.9 233.3,141.3 231.6,142.4 231.3,140.8 230.1,140.5 228.3,141 228,139.7 229.6,138.9 230.9,139.4 232.5,138.2 233.5,136.8M231.7,132.4 233.3,132.4 234,134.5 232.9,134.9 232.9,136.1 232.5,135.2 231.9,134.1 231.7,132.4M228,133.6 229.6,134.1 229,135.7 228,135.7 228,133.6M229.5,135 230.4,135.2 230,137.7 228.8,136.8 229.5,135M230.4,134.9 231.3,134.9 230.6,137.1 230.3,136 230.4,134.9M220.3,139 222.4,137.3 224,135.2 223.7,134.4 222.4,136.5 220.3,139M225.4,131 226.9,131.2 227.1,132.8 226.1,132.8 225.4,131M210.3,148.5 211.9,147.7 213.5,146.1 215.1,145.1 216.7,144.5 217.6,143.7 218.7,142.6 219.6,141.3 220.8,142.1 221.1,143.1 222.4,143.7 223.5,144.2 221.9,145.3 221.3,146.1 221.6,147.7M186.1,147.7 185.3,144.8 185,143.5 186.1,144 188.5,144.2 189.3,145.6 190.6,146.9M360.2,120.1 361.8,120.9 360.8,122 360.2,121.2 360.2,120.1M359.1,118.9 360.2,119.1 359.5,119.4 359.1,118.9M356.6,117.8 357.4,118.1 357,118.3 356.6,117.8M354.2,117 354.9,117 354.5,117.3 354.2,117M358.3,118.5 358.9,118.6M411.9,78.6 411.8,81.8 411.3,84.2 411.3,87.6 412.1,89 413.7,91.5 414.3,92.6 415.1,93.7 417.2,96.9 419.8,97.7 420.9,98.2 422.7,100 423.7,101.6 425,103.7 426.9,105.1 427.6,107.2 426.3,107.8 427.9,109.1 430.6,110.7 430.8,112.7 433.8,114.9 435.1,115.6 434.8,114 433.2,112.7 432.1,110.4 430.6,108.7 429.8,106.9 428.7,105.1 426.8,102.7 426.6,101.4 429.2,102.4 430.3,104.6 431.9,106.7 433.4,107.7 435.1,109.6 435.6,111.4 437.9,113.2 440,115.1 441.6,117.2 441.9,118.8 441.4,119.9 443.2,121.7 444.8,123.1 447.2,123.8 449.6,125.2 452.1,125.9 454.5,127 456.9,127.3 458.5,126.5 460.1,126.8 461.7,127.9 463,129.2 464.9,130.2 467.4,130.8 469.8,131.3 470.6,131.6 470.6,132.4 472.2,133.6 473.3,134.9 473.3,136.5 474.6,136.8 476.2,137.6 476.9,138.9 478.2,139.4 479.5,139.7 481.1,140.5 482,140.8 482.7,139.2 483.5,138.1 485.1,138.9 485.6,140.5 486.7,141.3 486.9,143.7 487,146.1 487.2,147.7M505.2,80.2 503.6,80.7 500.4,81.8 498.5,82.5 497.7,83.9 498.8,85.3 497.8,85.7 496.4,86 494,86.5 492.3,87.3 492.2,88.7 490.7,90.2 489.8,91.9 489.1,93.2 489.4,94.7 489.9,96 488.3,96.8 486.2,97.9 484.3,98.7 482.7,100.1 481.1,101.4 480.4,103.5 481.2,105.9 482,107.8 482.7,109.9 482.2,111.9 481.1,112.2 479.8,110.7 478.3,108.3 478.3,106.2 476.7,104.5 475.4,104.3 473.8,104.6 472.2,103.7 469.8,103.8 467.8,104 467.4,105.6 465.8,105.6 464.1,105.1 461.7,104.8 459.3,105.3 457.7,106.4 455.3,107.8 454.6,109.9 454.1,112.3 454,114.8 454.1,117.2 455,119.1 456.4,121.5 457.7,122.5 459.3,123.3 461.7,123 463.7,122.6 465.4,121.2 465.9,119.1 468.2,118.3 470.6,118 471.7,118.5 470.7,120.4 470.4,122.8 469.5,123.9 469.3,126 468.5,127 470.1,127.1 473,127 474.6,127 476.6,127.9 477.5,128.6 477.2,130.8 476.9,133.2 476.7,134.9 477.8,136.5 479.1,138.1 480.3,138.4 481.9,137.9 483.5,137.1 485.1,137.4 486.7,138.7 487.8,139.7 488.5,138.1 489.8,137.1 489.9,135.5 491.1,134.9 492.3,134.4 494,134.1 495.6,133.2 496.4,132.6 496.7,133.7 495.7,134.9 496.2,136 496.4,137.6 497.2,137.3 497.2,135.2 498.5,134.1 498.8,132.9 499.4,134.1 501.2,134.5 502,135.5 504.4,135.5 506.9,136.3 508.5,135.7 510.1,135.3 511.7,135.5 510.9,136.1 512.5,136.8 513.6,138.1 514.1,139.2 515.7,139.5 517.3,141.3 518.9,142.4 519.7,143.1 522.2,143.1 524.6,143.4 526.2,144 527.8,145.1 528.6,145.8 529.4,146.9M474.8,117.3 476.2,116 477.8,115.6 479.5,115.2 481.9,115.6 483.5,116.4 485.9,116.7 487.5,117.8 489.9,118.8 492,120.1 490.7,120.5 486.4,120.7 487.2,119.6 485.1,118.8 482.7,117.5 480.3,116.9 478.6,116.4 477,116.9 474.8,117.3M491.7,123 493.5,123.3 494.8,123.3 496.4,124.1 498,123.1 500.4,123.1 501.4,122.6 499.9,121.5 498,120.7 496.1,120.7 494,120.5 493.3,121 494.3,121.5 494.4,122.6 491.7,123M485.4,123.1 487.5,122.8 488.8,123.6 487.2,123.9 485.4,123.1M503.3,123 505.7,123 505.6,123.6 503.3,123.6 503.3,123M512,135.3 513.3,135.2 513.3,136.3 512,136.3 512,135.3M485.3,109.6 487.2,109.9 486.1,109.8M485.6,112.2 486.2,113.6 485.9,113M486.7,112.3 487,112.2M488.8,113.6 489.9,114.8M492.8,118.6 493.8,118.3M582.6,106.4 582.9,106.7M584.4,107 585.5,106.9M586.1,107.5 586.8,107.7M588.7,106.9 589.2,106.4M589.4,105.9 589.9,105.6M583.9,99.8 584.5,100M561.3,89 561.6,89.2M565.4,90.5 566.5,90.6 567.6,90.3M570,91.8 571,91.8M570.8,125.2 571.3,125.4M572.4,125.9 572.9,125.9M573.4,128.1 573.7,128.4 573.6,128.5M572.1,128.6 572.4,128.7M574.7,125.7 574.9,126.7M264.6,131 264.9,130.7M266.2,128.3 266.4,128.1M248.2,140.6 248.3,140.3M254,137.3 254.1,137.1M276.1,140.6 276.2,140.5M286.4,141.4 286.5,141.3M294.1,144 294.2,143.9M299.9,121.5 300,121.5M307.3,141.1 307.5,141.1M301.7,138.6 301.8,138.5M325.7,107.2 325.8,107.2M260.6,109 260.6,109.8M259.1,112.7 259.2,112.8M237.7,109.6 237.2,110.4M240.1,107 239.8,107.4M241.7,103.7 241.9,103.8M231.6,113.3 231.4,113.4M233.3,112.7 233.5,112.8M235.3,98.7 235.9,98.8 235,99.2 235.3,98.7M117.5,132.3 119.1,132.4M181,130.8 181.3,132.4 180.8,133.9 180.6,132.4 181,130.8M180.5,135.2 180.4,135.7M182.6,141 182.4,141.4M181,137.7 180.9,137.8M149.9,141.6 149.9,141.7M149.2,145.8 149.2,145.7M148.7,135.5 148.7,134.5" stroke="#000" stroke-width="1.25" fill="none" stroke-linejoin="round" stroke-linecap="round"/>
</g>
<rect x="31.4" y="80.2" width="580.2" height="64.3" fill="none" stroke="#000" stroke-width="1"/>
<rect x="33.0" y="81.4" width="85.6" height="19.5" rx="3" ry="3" fill="#f0f0f0" fill-opacity="0.93" stroke="#858585" stroke-width="1.2"/>
<text x="37.5" y="94.9" font-size="12.2" font-weight="bold" fill="#000">(b) IBTrACS</text>
<text x="29.8" y="140.5" font-size="12" text-anchor="end" fill="#000">10°N</text>
<text x="29.8" y="124.4" font-size="12" text-anchor="end" fill="#000">20°N</text>
<text x="29.8" y="108.3" font-size="12" text-anchor="end" fill="#000">30°N</text>
<text x="29.8" y="92.2" font-size="12" text-anchor="end" fill="#000">40°N</text>
<text x="63.6" y="158.7" font-size="12" text-anchor="middle" fill="#000">20°E</text>
<text x="128.1" y="158.7" font-size="12" text-anchor="middle" fill="#000">60°E</text>
<text x="192.6" y="158.7" font-size="12" text-anchor="middle" fill="#000">100°E</text>
<text x="257.0" y="158.7" font-size="12" text-anchor="middle" fill="#000">140°E</text>
<text x="321.5" y="158.7" font-size="12" text-anchor="middle" fill="#000">180°E</text>
<text x="386.0" y="158.7" font-size="12" text-anchor="middle" fill="#000">140°W</text>
<text x="450.4" y="158.7" font-size="12" text-anchor="middle" fill="#000">100°W</text>
<text x="514.9" y="158.7" font-size="12" text-anchor="middle" fill="#000">60°W</text>
<text x="579.4" y="158.7" font-size="12" text-anchor="middle" fill="#000">20°W</text>
<g>
<rect x="626.3" y="147.40" width="15.2" height="7.20" fill="#545ca8"/>
<rect x="626.3" y="140.60" width="15.2" height="7.20" fill="#3f77b5"/>
<rect x="626.3" y="133.80" width="15.2" height="7.20" fill="#3b92b9"/>
<rect x="626.3" y="127.00" width="15.2" height="7.20" fill="#54aead"/>
<rect x="626.3" y="120.20" width="15.2" height="7.20" fill="#6ec5a5"/>
<rect x="626.3" y="113.40" width="15.2" height="7.20" fill="#91d3a4"/>
<rect x="626.3" y="106.60" width="15.2" height="7.20" fill="#b1dfa3"/>
<rect x="626.3" y="99.80" width="15.2" height="7.20" fill="#cdeb9d"/>
<rect x="626.3" y="93.00" width="15.2" height="7.20" fill="#e7f59a"/>
<rect x="626.3" y="86.20" width="15.2" height="7.20" fill="#f3faac"/>
<rect x="626.3" y="79.40" width="15.2" height="7.20" fill="#fffebe"/>
<rect x="626.3" y="72.60" width="15.2" height="7.20" fill="#fff0a6"/>
<rect x="626.3" y="65.80" width="15.2" height="7.20" fill="#fee18d"/>
<rect x="626.3" y="59.00" width="15.2" height="7.20" fill="#feca79"/>
<rect x="626.3" y="52.20" width="15.2" height="7.20" fill="#fdb365"/>
<rect x="626.3" y="45.40" width="15.2" height="7.20" fill="#fa9656"/>
<rect x="626.3" y="38.60" width="15.2" height="7.20" fill="#f57547"/>
<rect x="626.3" y="31.80" width="15.2" height="7.20" fill="#e95c47"/>
<rect x="626.3" y="25.00" width="15.2" height="7.20" fill="#da464d"/>
<rect x="626.3" y="18.20" width="15.2" height="7.20" fill="#c52c4b"/>
<rect x="626.3" y="11.40" width="15.2" height="7.20" fill="#ab0f45"/>
<path d="M626.3,11.8L633.9,4.8L641.5,11.8Z" fill="#9e0142"/>
<path d="M626.3,154.4V11.6L633.9,4.8L641.5,11.6V154.4Z" fill="none" stroke="#000" stroke-width="0.9" stroke-linejoin="miter"/>
<path d="M641.5,154.4h3.6" stroke="#000" stroke-width="0.9"/>
<text x="647.5" y="158.8" font-size="12" fill="#000">50</text>
<path d="M641.5,127.2h3.6" stroke="#000" stroke-width="0.9"/>
<text x="647.5" y="131.6" font-size="12" fill="#000">70</text>
<path d="M641.5,100.0h3.6" stroke="#000" stroke-width="0.9"/>
<text x="647.5" y="104.4" font-size="12" fill="#000">90</text>
<path d="M641.5,72.8h3.6" stroke="#000" stroke-width="0.9"/>
<text x="647.5" y="77.2" font-size="12" fill="#000">110</text>
<path d="M641.5,45.6h3.6" stroke="#000" stroke-width="0.9"/>
<text x="647.5" y="50.0" font-size="12" fill="#000">130</text>
<path d="M641.5,18.4h3.6" stroke="#000" stroke-width="0.9"/>
<text x="647.5" y="22.8" font-size="12" fill="#000">150</text>
<text transform="translate(683.5,82.5) rotate(-90)" font-size="11.9" text-anchor="middle" fill="#000">1/100 Year Storm (kts)</text>
</g>
<clipPath id="clipc"><rect x="151.75" y="173.50" width="339.55" height="215.60"/></clipPath>
<path d="M213.5,173.5V389.1M275.2,173.5V389.1M337.0,173.5V389.1M398.7,173.5V389.1M460.4,173.5V389.1M151.8,360.9H491.3M151.8,344.4H491.3M151.8,323.6H491.3M151.8,295.4H491.3M151.8,278.9H491.3M151.8,258.1H491.3M151.8,229.9H491.3M151.8,201.7H491.3" stroke="#b0b0b0" stroke-opacity="0.62" stroke-width="1" fill="none"/>
<g clip-path="url(#clipc)" fill="none" stroke-linejoin="round">
<path d="M151.8,374.8 157.9,373.5 164.1,370.7 170.3,369.2 176.4,366.1 182.6,364.4 188.8,364.4 195,362.7 201.1,359 207.3,354.9 213.5,350.4 219.7,345.3 225.8,339.5 232,339.5 238.2,339.5 244.4,339.5 250.5,332.7 256.7,332.7 262.9,332.7 269,324.5 275.2,324.5 281.4,319.7 287.6,319.7 293.7,314.3 299.9,314.3 306.1,314.3 312.3,308 318.4,300.6 324.6,279.8 330.8,279.8 337,279.8 343.1,279.8 349.3,279.8 355.5,263.3 361.7,235.1 367.8,235.1 374,235.1 380.2,235.1 386.3,235.1 392.5,235.1 398.7,235.1M151.8,393.5 157.9,391.8 164.1,390.9 170.3,388.2 176.4,384.2 182.6,384.2 188.8,382 195,378.6 201.1,378.6 207.3,376.1 213.5,376.1 219.7,374.8 225.8,372.1 232,370.7 238.2,370.7 244.4,370.7 250.5,370.7 256.7,366.1 262.9,360.9 269,359 275.2,357 281.4,357 287.6,352.7 293.7,342.5 299.9,339.5 306.1,336.2 312.3,332.7 318.4,332.7 324.6,328.8 330.8,328.8 337,328.8 343.1,328.8 349.3,319.7 355.5,319.7 361.7,319.7 367.8,314.3 374,308 380.2,308 386.3,308 392.5,300.6 398.7,291.5 404.9,263.3 411,263.3 417.2,235.1M151.8,383.1 157.9,382 164.1,380.9 170.3,378.6 176.4,377.4 182.6,373.5 188.8,370.7 195,369.2 201.1,362.7 207.3,360.9 213.5,357 219.7,354.9 225.8,354.9 232,352.7 238.2,352.7 244.4,350.4 250.5,345.3 256.7,345.3 262.9,345.3 269,345.3 275.2,345.3 281.4,336.2 287.6,336.2 293.7,336.2 299.9,336.2 306.1,328.8 312.3,324.5 318.4,314.3 324.6,314.3 330.8,308 337,308 343.1,308 349.3,308 355.5,300.6 361.7,291.5 367.8,279.8 374,279.8 380.2,279.8 386.3,235.1M151.8,380.9 157.9,380.9 164.1,379.8 170.3,377.4 176.4,372.1 182.6,369.2 188.8,366.1 195,362.7 201.1,360.9 207.3,357 213.5,354.9 219.7,352.7 225.8,350.4 232,350.4 238.2,350.4 244.4,345.3 250.5,339.5 256.7,339.5 262.9,336.2 269,328.8 275.2,319.7 281.4,314.3 287.6,314.3 293.7,314.3 299.9,314.3 306.1,314.3 312.3,314.3 318.4,300.6 324.6,291.5 330.8,279.8 337,279.8 343.1,279.8 349.3,263.3 355.5,263.3 361.7,235.1 367.8,235.1M151.8,383.1 157.9,382 164.1,382 170.3,377.4 176.4,373.5 182.6,369.2 188.8,366.1 195,360.9 201.1,357 207.3,357 213.5,347.9 219.7,342.5 225.8,342.5 232,339.5 238.2,339.5 244.4,336.2 250.5,332.7 256.7,324.5 262.9,319.7 269,319.7 275.2,314.3 281.4,314.3 287.6,314.3 293.7,314.3 299.9,314.3 306.1,314.3 312.3,300.6 318.4,300.6 324.6,300.6 330.8,300.6 337,291.5 343.1,279.8 349.3,263.3 355.5,263.3 361.7,263.3 367.8,235.1 374,235.1 380.2,235.1 386.3,235.1 392.5,235.1 398.7,235.1M151.8,387.2 157.9,386.2 164.1,384.2 170.3,382 176.4,380.9 182.6,379.8 188.8,376.1 195,376.1 201.1,376.1 207.3,373.5 213.5,370.7 219.7,364.4 225.8,364.4 232,360.9 238.2,354.9 244.4,350.4 250.5,347.9 256.7,347.9 262.9,347.9 269,345.3 275.2,342.5 281.4,342.5 287.6,336.2 293.7,336.2 299.9,332.7 306.1,328.8 312.3,328.8 318.4,324.5 324.6,319.7 330.8,314.3 337,314.3 343.1,314.3 349.3,314.3 355.5,308 361.7,291.5 367.8,291.5 374,279.8 380.2,263.3 386.3,263.3 392.5,263.3 398.7,235.1 404.9,235.1 411,235.1 417.2,235.1 423.4,235.1 429.6,235.1M151.8,366.1 157.9,366.1 164.1,362.7 170.3,350.4 176.4,347.9 182.6,347.9 188.8,342.5 195,339.5 201.1,336.2 207.3,332.7 213.5,328.8 219.7,328.8 225.8,328.8 232,324.5 238.2,324.5 244.4,319.7 250.5,300.6 256.7,300.6 262.9,300.6 269,291.5 275.2,291.5 281.4,291.5 287.6,291.5 293.7,291.5 299.9,279.8 306.1,279.8 312.3,263.3 318.4,263.3 324.6,263.3 330.8,235.1 337,235.1 343.1,235.1M151.8,380.9 157.9,380.9 164.1,377.4 170.3,374.8 176.4,372.1 182.6,372.1 188.8,370.7 195,370.7 201.1,369.2 207.3,366.1 213.5,366.1 219.7,360.9 225.8,352.7 232,350.4 238.2,347.9 244.4,336.2 250.5,332.7 256.7,328.8 262.9,328.8 269,328.8 275.2,328.8 281.4,324.5 287.6,324.5 293.7,324.5 299.9,319.7 306.1,300.6 312.3,300.6 318.4,300.6 324.6,291.5 330.8,291.5 337,291.5 343.1,291.5 349.3,291.5 355.5,291.5 361.7,291.5 367.8,291.5 374,291.5 380.2,279.8 386.3,279.8 392.5,279.8 398.7,235.1 404.9,235.1 411,235.1 417.2,235.1 423.4,235.1 429.6,235.1M151.8,386.2 157.9,386.2 164.1,384.2 170.3,379.8 176.4,378.6 182.6,377.4 188.8,374.8 195,373.5 201.1,370.7 207.3,367.7 213.5,364.4 219.7,362.7 225.8,362.7 232,359 238.2,354.9 244.4,350.4 250.5,342.5 256.7,339.5 262.9,336.2 269,336.2 275.2,336.2 281.4,332.7 287.6,328.8 293.7,324.5 299.9,319.7 306.1,319.7 312.3,319.7 318.4,319.7 324.6,308 330.8,308 337,308 343.1,308 349.3,308 355.5,308 361.7,300.6 367.8,300.6 374,291.5 380.2,291.5 386.3,291.5 392.5,291.5 398.7,291.5 404.9,279.8 411,279.8 417.2,263.3 423.4,235.1 429.6,235.1 435.7,235.1 441.9,235.1 448.1,235.1 454.3,235.1 460.4,235.1 466.6,235.1 472.8,235.1 479,235.1M151.8,390 157.9,390 164.1,389.1 170.3,385.2 176.4,383.1 182.6,379.8 188.8,377.4 195,370.7 201.1,370.7 207.3,366.1 213.5,366.1 219.7,366.1 225.8,366.1 232,366.1 238.2,364.4 244.4,360.9 250.5,357 256.7,357 262.9,347.9 269,339.5 275.2,332.7 281.4,332.7 287.6,324.5 293.7,324.5 299.9,314.3 306.1,314.3 312.3,314.3 318.4,314.3 324.6,308 330.8,300.6 337,291.5 343.1,291.5 349.3,291.5 355.5,291.5 361.7,291.5 367.8,291.5 374,291.5 380.2,279.8 386.3,279.8 392.5,279.8 398.7,263.3 404.9,235.1M151.8,388.2 157.9,387.2 164.1,383.1 170.3,379.8 176.4,374.8 182.6,374.8 188.8,374.8 195,373.5 201.1,370.7 207.3,366.1 213.5,362.7 219.7,354.9 225.8,350.4 232,345.3 238.2,345.3 244.4,339.5 250.5,332.7 256.7,319.7 262.9,314.3 269,314.3 275.2,300.6 281.4,300.6 287.6,300.6 293.7,291.5 299.9,291.5 306.1,279.8 312.3,235.1 318.4,235.1 324.6,235.1 330.8,235.1 337,235.1 343.1,235.1M151.8,395.9 157.9,395.1 164.1,391.8 170.3,389.1 176.4,386.2 182.6,385.2 188.8,382 195,378.6 201.1,374.8 207.3,374.8 213.5,370.7 219.7,369.2 225.8,367.7 232,364.4 238.2,364.4 244.4,362.7 250.5,359 256.7,352.7 262.9,350.4 269,347.9 275.2,345.3 281.4,336.2 287.6,328.8 293.7,328.8 299.9,328.8 306.1,319.7 312.3,314.3 318.4,314.3 324.6,314.3 330.8,308 337,308 343.1,300.6 349.3,300.6 355.5,300.6 361.7,300.6 367.8,300.6 374,291.5 380.2,291.5 386.3,291.5 392.5,291.5 398.7,291.5 404.9,291.5 411,279.8 417.2,263.3 423.4,263.3 429.6,235.1 435.7,235.1 441.9,235.1 448.1,235.1M151.8,378.6 157.9,376.1 164.1,372.1 170.3,366.1 176.4,362.7 182.6,360.9 188.8,359 195,352.7 201.1,347.9 207.3,339.5 213.5,339.5 219.7,332.7 225.8,332.7 232,324.5 238.2,324.5 244.4,324.5 250.5,324.5 256.7,319.7 262.9,314.3 269,308 275.2,308 281.4,308 287.6,308 293.7,308 299.9,308 306.1,300.6 312.3,300.6 318.4,291.5 324.6,291.5 330.8,291.5 337,291.5 343.1,279.8 349.3,263.3 355.5,263.3 361.7,263.3 367.8,263.3 374,263.3 380.2,235.1M151.8,385.2 157.9,383.1 164.1,378.6 170.3,374.8 176.4,372.1 182.6,372.1 188.8,367.7 195,366.1 201.1,366.1 207.3,362.7 213.5,360.9 219.7,359 225.8,354.9 232,352.7 238.2,352.7 244.4,350.4 250.5,350.4 256.7,345.3 262.9,339.5 269,328.8 275.2,324.5 281.4,319.7 287.6,319.7 293.7,319.7 299.9,314.3 306.1,308 312.3,308 318.4,300.6 324.6,300.6 330.8,300.6 337,279.8 343.1,279.8 349.3,279.8 355.5,279.8 361.7,279.8 367.8,279.8 374,279.8 380.2,263.3 386.3,263.3 392.5,235.1 398.7,235.1 404.9,235.1 411,235.1M151.8,387.2 157.9,387.2 164.1,386.2 170.3,385.2 176.4,385.2 182.6,383.1 188.8,382 195,380.9 201.1,379.8 207.3,377.4 213.5,376.1 219.7,376.1 225.8,373.5 232,369.2 238.2,367.7 244.4,367.7 250.5,364.4 256.7,362.7 262.9,360.9 269,360.9 275.2,357 281.4,357 287.6,350.4 293.7,342.5 299.9,332.7 306.1,328.8 312.3,328.8 318.4,328.8 324.6,328.8 330.8,324.5 337,324.5 343.1,319.7 349.3,319.7 355.5,300.6 361.7,279.8 367.8,263.3 374,263.3 380.2,263.3 386.3,263.3 392.5,235.1 398.7,235.1 404.9,235.1 411,235.1 417.2,235.1 423.4,235.1 429.6,235.1 435.7,235.1 441.9,235.1M151.8,388.2 157.9,387.2 164.1,385.2 170.3,384.2 176.4,382 182.6,379.8 188.8,376.1 195,372.1 201.1,372.1 207.3,367.7 213.5,357 219.7,354.9 225.8,352.7 232,352.7 238.2,350.4 244.4,347.9 250.5,345.3 256.7,339.5 262.9,336.2 269,332.7 275.2,324.5 281.4,324.5 287.6,324.5 293.7,319.7 299.9,314.3 306.1,308 312.3,308 318.4,308 324.6,291.5 330.8,291.5 337,235.1 343.1,235.1 349.3,235.1 355.5,235.1 361.7,235.1 367.8,235.1 374,235.1 380.2,235.1 386.3,235.1 392.5,235.1 398.7,235.1 404.9,235.1 411,235.1 417.2,235.1 423.4,235.1 429.6,235.1 435.7,235.1M151.8,379.8 157.9,379.8 164.1,377.4 170.3,373.5 176.4,367.7 182.6,367.7 188.8,366.1 195,362.7 201.1,360.9 207.3,357 213.5,357 219.7,354.9 225.8,354.9 232,350.4 238.2,350.4 244.4,345.3 250.5,339.5 256.7,332.7 262.9,328.8 269,319.7 275.2,308 281.4,308 287.6,291.5 293.7,291.5 299.9,291.5 306.1,279.8 312.3,279.8 318.4,279.8 324.6,279.8 330.8,279.8 337,263.3 343.1,263.3 349.3,263.3 355.5,263.3 361.7,263.3 367.8,263.3 374,235.1 380.2,235.1 386.3,235.1 392.5,235.1M151.8,387.2 157.9,387.2 164.1,387.2 170.3,384.2 176.4,379.8 182.6,377.4 188.8,374.8 195,373.5 201.1,372.1 207.3,367.7 213.5,360.9 219.7,360.9 225.8,360.9 232,359 238.2,357 244.4,352.7 250.5,350.4 256.7,347.9 262.9,345.3 269,345.3 275.2,342.5 281.4,336.2 287.6,328.8 293.7,324.5 299.9,319.7 306.1,319.7 312.3,319.7 318.4,319.7 324.6,319.7 330.8,300.6 337,300.6 343.1,291.5 349.3,291.5 355.5,263.3 361.7,263.3 367.8,263.3 374,263.3 380.2,235.1 386.3,235.1 392.5,235.1 398.7,235.1M151.8,370.7 157.9,369.2 164.1,369.2 170.3,366.1 176.4,362.7 182.6,360.9 188.8,359 195,359 201.1,357 207.3,347.9 213.5,339.5 219.7,336.2 225.8,332.7 232,328.8 238.2,328.8 244.4,324.5 250.5,324.5 256.7,324.5 262.9,324.5 269,308 275.2,308 281.4,291.5 287.6,291.5 293.7,291.5 299.9,291.5 306.1,291.5 312.3,291.5 318.4,291.5 324.6,291.5 330.8,291.5 337,279.8 343.1,279.8 349.3,279.8 355.5,279.8 361.7,263.3 367.8,263.3M151.8,387.2 157.9,387.2 164.1,386.2 170.3,386.2 176.4,386.2 182.6,386.2 188.8,386.2 195,383.1 201.1,380.9 207.3,372.1 213.5,370.7 219.7,369.2 225.8,366.1 232,360.9 238.2,359 244.4,359 250.5,357 256.7,352.7 262.9,345.3 269,342.5 275.2,339.5 281.4,332.7 287.6,324.5 293.7,324.5 299.9,324.5 306.1,319.7 312.3,319.7 318.4,319.7 324.6,314.3 330.8,314.3 337,308 343.1,300.6 349.3,291.5 355.5,263.3 361.7,263.3 367.8,235.1 374,235.1 380.2,235.1 386.3,235.1 392.5,235.1M151.8,382 157.9,380.9 164.1,379.8 170.3,376.1 176.4,374.8 182.6,373.5 188.8,372.1 195,370.7 201.1,367.7 207.3,366.1 213.5,362.7 219.7,357 225.8,354.9 232,350.4 238.2,347.9 244.4,336.2 250.5,332.7 256.7,332.7 262.9,324.5 269,319.7 275.2,308 281.4,308 287.6,308 293.7,308 299.9,308 306.1,308 312.3,308 318.4,308 324.6,308 330.8,291.5 337,291.5 343.1,291.5 349.3,279.8 355.5,279.8 361.7,279.8 367.8,279.8 374,279.8 380.2,263.3 386.3,263.3 392.5,263.3 398.7,263.3 404.9,263.3 411,263.3 417.2,263.3 423.4,263.3 429.6,235.1 435.7,235.1 441.9,235.1M151.8,389.1 157.9,387.2 164.1,383.1 170.3,379.8 176.4,377.4 182.6,376.1 188.8,370.7 195,367.7 201.1,366.1 207.3,364.4 213.5,359 219.7,359 225.8,359 232,359 238.2,354.9 244.4,354.9 250.5,354.9 256.7,347.9 262.9,342.5 269,336.2 275.2,332.7 281.4,332.7 287.6,324.5 293.7,324.5 299.9,319.7 306.1,314.3 312.3,308 318.4,308 324.6,291.5 330.8,291.5 337,291.5 343.1,291.5 349.3,291.5 355.5,291.5 361.7,291.5 367.8,291.5 374,291.5 380.2,263.3 386.3,263.3 392.5,263.3 398.7,263.3 404.9,263.3 411,235.1 417.2,235.1 423.4,235.1 429.6,235.1 435.7,235.1 441.9,235.1M151.8,377.4 157.9,377.4 164.1,376.1 170.3,374.8 176.4,372.1 182.6,370.7 188.8,366.1 195,362.7 201.1,360.9 207.3,360.9 213.5,359 219.7,357 225.8,352.7 232,352.7 238.2,342.5 244.4,339.5 250.5,332.7 256.7,324.5 262.9,319.7 269,319.7 275.2,319.7 281.4,314.3 287.6,314.3 293.7,314.3 299.9,308 306.1,308 312.3,308 318.4,308 324.6,308 330.8,300.6 337,300.6 343.1,291.5 349.3,291.5 355.5,279.8 361.7,263.3 367.8,263.3 374,263.3 380.2,263.3 386.3,263.3 392.5,263.3 398.7,235.1 404.9,235.1 411,235.1M151.8,383.1 157.9,383.1 164.1,380.9 170.3,377.4 176.4,373.5 182.6,370.7 188.8,367.7 195,359 201.1,357 207.3,354.9 213.5,347.9 219.7,345.3 225.8,342.5 232,339.5 238.2,339.5 244.4,339.5 250.5,328.8 256.7,319.7 262.9,319.7 269,314.3 275.2,314.3 281.4,308 287.6,300.6 293.7,279.8 299.9,279.8 306.1,279.8 312.3,279.8 318.4,279.8 324.6,279.8 330.8,263.3 337,263.3 343.1,263.3 349.3,235.1M151.8,388.2 157.9,386.2 164.1,384.2 170.3,382 176.4,377.4 182.6,376.1 188.8,373.5 195,372.1 201.1,370.7 207.3,367.7 213.5,364.4 219.7,360.9 225.8,359 232,357 238.2,352.7 244.4,339.5 250.5,336.2 256.7,336.2 262.9,332.7 269,332.7 275.2,324.5 281.4,319.7 287.6,319.7 293.7,319.7 299.9,308 306.1,308 312.3,300.6 318.4,300.6 324.6,300.6 330.8,291.5 337,291.5 343.1,291.5 349.3,291.5 355.5,291.5 361.7,291.5 367.8,279.8 374,279.8 380.2,263.3 386.3,263.3 392.5,263.3 398.7,263.3 404.9,263.3 411,235.1 417.2,235.1M151.8,380.9 157.9,380.9 164.1,378.6 170.3,377.4 176.4,372.1 182.6,367.7 188.8,364.4 195,364.4 201.1,360.9 207.3,359 213.5,357 219.7,352.7 225.8,352.7 232,352.7 238.2,350.4 244.4,347.9 250.5,345.3 256.7,339.5 262.9,339.5 269,332.7 275.2,324.5 281.4,308 287.6,300.6 293.7,291.5 299.9,291.5 306.1,291.5 312.3,291.5 318.4,291.5 324.6,279.8 330.8,263.3 337,263.3 343.1,263.3 349.3,263.3 355.5,263.3 361.7,263.3 367.8,263.3 374,263.3 380.2,263.3 386.3,263.3 392.5,263.3 398.7,235.1 404.9,235.1 411,235.1 417.2,235.1 423.4,235.1 429.6,235.1 435.7,235.1 441.9,235.1 448.1,235.1 454.3,235.1 460.4,235.1 466.6,235.1 472.8,235.1 479,235.1 485.1,235.1 491.3,235.1M151.8,395.9 157.9,395.1 164.1,391.8 170.3,389.1 176.4,388.2 182.6,385.2 188.8,385.2 195,383.1 201.1,379.8 207.3,372.1 213.5,370.7 219.7,369.2 225.8,366.1 232,364.4 238.2,360.9 244.4,357 250.5,357 256.7,357 262.9,357 269,350.4 275.2,342.5 281.4,339.5 287.6,336.2 293.7,328.8 299.9,324.5 306.1,319.7 312.3,319.7 318.4,308 324.6,308 330.8,308 337,308 343.1,308 349.3,308 355.5,308 361.7,308 367.8,291.5 374,291.5 380.2,291.5 386.3,291.5 392.5,279.8 398.7,279.8 404.9,279.8 411,279.8 417.2,263.3 423.4,235.1 429.6,235.1 435.7,235.1 441.9,235.1 448.1,235.1 454.3,235.1 460.4,235.1 466.6,235.1 472.8,235.1 479,235.1 485.1,235.1 491.3,235.1M151.8,376.1 157.9,374.8 164.1,374.8 170.3,370.7 176.4,366.1 182.6,359 188.8,357 195,352.7 201.1,339.5 207.3,339.5 213.5,339.5 219.7,339.5 225.8,336.2 232,332.7 238.2,328.8 244.4,319.7 250.5,314.3 256.7,308 262.9,308 269,308 275.2,308 281.4,308 287.6,308 293.7,308 299.9,308 306.1,300.6 312.3,300.6 318.4,279.8 324.6,279.8 330.8,263.3 337,263.3 343.1,263.3 349.3,263.3 355.5,263.3 361.7,235.1M151.8,390.9 157.9,390.9 164.1,389.1 170.3,385.2 176.4,382 182.6,382 188.8,378.6 195,376.1 201.1,370.7 207.3,369.2 213.5,366.1 219.7,364.4 225.8,364.4 232,364.4 238.2,362.7 244.4,360.9 250.5,360.9 256.7,359 262.9,350.4 269,342.5 275.2,339.5 281.4,328.8 287.6,328.8 293.7,328.8 299.9,328.8 306.1,328.8 312.3,328.8 318.4,319.7 324.6,319.7 330.8,314.3 337,314.3 343.1,308 349.3,300.6 355.5,300.6 361.7,300.6 367.8,279.8 374,279.8 380.2,279.8 386.3,279.8 392.5,263.3 398.7,235.1 404.9,235.1 411,235.1 417.2,235.1 423.4,235.1 429.6,235.1 435.7,235.1M151.8,386.2 157.9,385.2 164.1,382 170.3,379.8 176.4,377.4 182.6,370.7 188.8,364.4 195,357 201.1,352.7 207.3,350.4 213.5,347.9 219.7,345.3 225.8,342.5 232,336.2 238.2,328.8 244.4,328.8 250.5,324.5 256.7,314.3 262.9,314.3 269,300.6 275.2,291.5 281.4,291.5 287.6,263.3 293.7,263.3 299.9,263.3 306.1,263.3 312.3,263.3 318.4,235.1 324.6,235.1 330.8,235.1 337,235.1 343.1,235.1M151.8,384.2 157.9,383.1 164.1,379.8 170.3,379.8 176.4,378.6 182.6,378.6 188.8,376.1 195,374.8 201.1,373.5 207.3,372.1 213.5,366.1 219.7,362.7 225.8,359 232,357 238.2,352.7 244.4,347.9 250.5,345.3 256.7,342.5 262.9,339.5 269,336.2 275.2,324.5 281.4,319.7 287.6,314.3 293.7,308 299.9,300.6 306.1,300.6 312.3,291.5 318.4,291.5 324.6,279.8 330.8,263.3 337,263.3 343.1,263.3 349.3,263.3 355.5,263.3 361.7,263.3 367.8,263.3 374,235.1 380.2,235.1 386.3,235.1 392.5,235.1M151.8,388.2 157.9,387.2 164.1,384.2 170.3,380.9 176.4,379.8 182.6,376.1 188.8,376.1 195,374.8 201.1,369.2 207.3,367.7 213.5,364.4 219.7,364.4 225.8,362.7 232,360.9 238.2,357 244.4,354.9 250.5,354.9 256.7,352.7 262.9,352.7 269,352.7 275.2,350.4 281.4,347.9 287.6,345.3 293.7,339.5 299.9,336.2 306.1,332.7 312.3,332.7 318.4,328.8 324.6,314.3 330.8,308 337,308 343.1,308 349.3,308 355.5,300.6 361.7,291.5 367.8,291.5 374,279.8 380.2,263.3 386.3,263.3 392.5,263.3 398.7,263.3 404.9,235.1 411,235.1 417.2,235.1 423.4,235.1 429.6,235.1M151.8,379.8 157.9,378.6 164.1,376.1 170.3,372.1 176.4,370.7 182.6,366.1 188.8,362.7 195,359 201.1,354.9 207.3,354.9 213.5,354.9 219.7,354.9 225.8,352.7 232,339.5 238.2,332.7 244.4,324.5 250.5,324.5 256.7,319.7 262.9,314.3 269,308 275.2,300.6 281.4,291.5 287.6,291.5 293.7,291.5 299.9,291.5 306.1,291.5 312.3,279.8 318.4,279.8 324.6,279.8 330.8,279.8 337,263.3 343.1,263.3 349.3,263.3 355.5,235.1 361.7,235.1 367.8,235.1 374,235.1 380.2,235.1 386.3,235.1 392.5,235.1 398.7,235.1M151.8,383.1 157.9,382 164.1,380.9 170.3,379.8 176.4,377.4 182.6,376.1 188.8,370.7 195,370.7 201.1,369.2 207.3,366.1 213.5,366.1 219.7,366.1 225.8,364.4 232,357 238.2,357 244.4,354.9 250.5,352.7 256.7,352.7 262.9,347.9 269,345.3 275.2,336.2 281.4,328.8 287.6,328.8 293.7,319.7 299.9,314.3 306.1,314.3 312.3,308 318.4,308 324.6,308 330.8,291.5 337,291.5 343.1,291.5 349.3,291.5 355.5,279.8 361.7,263.3 367.8,263.3 374,263.3 380.2,235.1 386.3,235.1 392.5,235.1 398.7,235.1M151.8,386.2 157.9,385.2 164.1,380.9 170.3,378.6 176.4,374.8 182.6,373.5 188.8,373.5 195,372.1 201.1,370.7 207.3,366.1 213.5,364.4 219.7,364.4 225.8,360.9 232,357 238.2,357 244.4,357 250.5,357 256.7,357 262.9,350.4 269,339.5 275.2,332.7 281.4,332.7 287.6,328.8 293.7,328.8 299.9,319.7 306.1,314.3 312.3,314.3 318.4,314.3 324.6,314.3 330.8,314.3 337,314.3 343.1,314.3 349.3,314.3 355.5,308 361.7,300.6 367.8,300.6 374,291.5 380.2,291.5 386.3,291.5 392.5,291.5 398.7,263.3 404.9,235.1 411,235.1 417.2,235.1 423.4,235.1 429.6,235.1 435.7,235.1M151.8,386.2 157.9,386.2 164.1,386.2 170.3,383.1 176.4,378.6 182.6,377.4 188.8,372.1 195,369.2 201.1,360.9 207.3,354.9 213.5,354.9 219.7,350.4 225.8,345.3 232,339.5 238.2,339.5 244.4,339.5 250.5,336.2 256.7,332.7 262.9,328.8 269,324.5 275.2,324.5 281.4,324.5 287.6,319.7 293.7,314.3 299.9,314.3 306.1,314.3 312.3,308 318.4,308 324.6,300.6 330.8,291.5 337,291.5 343.1,279.8 349.3,279.8 355.5,279.8 361.7,279.8 367.8,279.8 374,235.1 380.2,235.1 386.3,235.1 392.5,235.1 398.7,235.1 404.9,235.1 411,235.1 417.2,235.1 423.4,235.1 429.6,235.1 435.7,235.1M151.8,390 157.9,390 164.1,389.1 170.3,388.2 176.4,383.1 182.6,380.9 188.8,380.9 195,377.4 201.1,370.7 207.3,364.4 213.5,357 219.7,352.7 225.8,352.7 232,350.4 238.2,350.4 244.4,339.5 250.5,332.7 256.7,328.8 262.9,328.8 269,324.5 275.2,319.7 281.4,319.7 287.6,319.7 293.7,308 299.9,308 306.1,300.6 312.3,291.5 318.4,291.5 324.6,291.5 330.8,291.5 337,291.5 343.1,291.5 349.3,279.8 355.5,263.3 361.7,263.3 367.8,263.3 374,263.3 380.2,263.3 386.3,263.3 392.5,263.3 398.7,235.1 404.9,235.1 411,235.1 417.2,235.1 423.4,235.1 429.6,235.1 435.7,235.1 441.9,235.1 448.1,235.1 454.3,235.1 460.4,235.1 466.6,235.1 472.8,235.1 479,235.1M151.8,382 157.9,380.9 164.1,378.6 170.3,374.8 176.4,369.2 182.6,367.7 188.8,367.7 195,366.1 201.1,362.7 207.3,360.9 213.5,354.9 219.7,352.7 225.8,350.4 232,342.5 238.2,336.2 244.4,336.2 250.5,336.2 256.7,332.7 262.9,328.8 269,324.5 275.2,324.5 281.4,324.5 287.6,314.3 293.7,308 299.9,300.6 306.1,300.6 312.3,300.6 318.4,291.5 324.6,291.5 330.8,279.8 337,279.8 343.1,235.1 349.3,235.1 355.5,235.1 361.7,235.1 367.8,235.1 374,235.1 380.2,235.1 386.3,235.1 392.5,235.1 398.7,235.1 404.9,235.1 411,235.1M151.8,380.9 157.9,379.8 164.1,374.8 170.3,374.8 176.4,372.1 182.6,370.7 188.8,370.7 195,369.2 201.1,364.4 207.3,362.7 213.5,360.9 219.7,357 225.8,357 232,357 238.2,354.9 244.4,345.3 250.5,342.5 256.7,336.2 262.9,336.2 269,332.7 275.2,332.7 281.4,324.5 287.6,324.5 293.7,319.7 299.9,319.7 306.1,314.3 312.3,314.3 318.4,314.3 324.6,308 330.8,308 337,300.6 343.1,300.6 349.3,300.6 355.5,291.5 361.7,263.3 367.8,235.1 374,235.1 380.2,235.1 386.3,235.1 392.5,235.1 398.7,235.1 404.9,235.1 411,235.1 417.2,235.1 423.4,235.1 429.6,235.1 435.7,235.1 441.9,235.1 448.1,235.1 454.3,235.1 460.4,235.1 466.6,235.1 472.8,235.1 479,235.1 485.1,235.1 491.3,235.1M151.8,386.2 157.9,384.2 164.1,383.1 170.3,379.8 176.4,377.4 182.6,374.8 188.8,370.7 195,364.4 201.1,360.9 207.3,360.9 213.5,357 219.7,354.9 225.8,350.4 232,347.9 238.2,339.5 244.4,336.2 250.5,328.8 256.7,328.8 262.9,328.8 269,324.5 275.2,324.5 281.4,324.5 287.6,324.5 293.7,324.5 299.9,314.3 306.1,308 312.3,308 318.4,308 324.6,308 330.8,308 337,308 343.1,308 349.3,300.6 355.5,279.8 361.7,263.3 367.8,235.1 374,235.1 380.2,235.1 386.3,235.1 392.5,235.1 398.7,235.1 404.9,235.1M151.8,390.9 157.9,388.2 164.1,388.2 170.3,385.2 176.4,380.9 182.6,378.6 188.8,374.8 195,373.5 201.1,372.1 207.3,372.1 213.5,370.7 219.7,366.1 225.8,366.1 232,362.7 238.2,362.7 244.4,360.9 250.5,360.9 256.7,352.7 262.9,345.3 269,332.7 275.2,328.8 281.4,328.8 287.6,324.5 293.7,324.5 299.9,324.5 306.1,319.7 312.3,319.7 318.4,319.7 324.6,308 330.8,308 337,308 343.1,300.6 349.3,300.6 355.5,300.6 361.7,300.6 367.8,291.5 374,291.5 380.2,279.8 386.3,279.8 392.5,279.8 398.7,279.8 404.9,279.8 411,279.8 417.2,279.8 423.4,235.1 429.6,235.1 435.7,235.1M151.8,392.6 157.9,390.9 164.1,388.2 170.3,382 176.4,377.4 182.6,377.4 188.8,374.8 195,373.5 201.1,372.1 207.3,370.7 213.5,367.7 219.7,362.7 225.8,359 232,357 238.2,347.9 244.4,347.9 250.5,347.9 256.7,347.9 262.9,347.9 269,345.3 275.2,345.3 281.4,342.5 287.6,336.2 293.7,328.8 299.9,324.5 306.1,324.5 312.3,319.7 318.4,319.7 324.6,314.3 330.8,314.3 337,314.3 343.1,314.3 349.3,314.3 355.5,314.3 361.7,300.6 367.8,300.6 374,300.6 380.2,291.5 386.3,279.8 392.5,279.8 398.7,279.8 404.9,279.8 411,279.8 417.2,263.3 423.4,235.1M151.8,389.1 157.9,389.1 164.1,387.2 170.3,386.2 176.4,380.9 182.6,379.8 188.8,377.4 195,376.1 201.1,373.5 207.3,370.7 213.5,366.1 219.7,366.1 225.8,362.7 232,357 238.2,350.4 244.4,347.9 250.5,347.9 256.7,339.5 262.9,328.8 269,324.5 275.2,319.7 281.4,319.7 287.6,314.3 293.7,308 299.9,291.5 306.1,291.5 312.3,291.5 318.4,279.8 324.6,279.8 330.8,235.1 337,235.1 343.1,235.1 349.3,235.1 355.5,235.1 361.7,235.1 367.8,235.1 374,235.1 380.2,235.1 386.3,235.1 392.5,235.1 398.7,235.1 404.9,235.1 411,235.1 417.2,235.1M151.8,377.4 157.9,376.1 164.1,374.8 170.3,373.5 176.4,369.2 182.6,360.9 188.8,359 195,359 201.1,359 207.3,354.9 213.5,347.9 219.7,345.3 225.8,342.5 232,339.5 238.2,332.7 244.4,332.7 250.5,328.8 256.7,319.7 262.9,319.7 269,314.3 275.2,308 281.4,308 287.6,308 293.7,308 299.9,308 306.1,300.6 312.3,291.5 318.4,291.5 324.6,291.5 330.8,279.8 337,279.8 343.1,263.3 349.3,235.1 355.5,235.1M151.8,383.1 157.9,383.1 164.1,382 170.3,379.8 176.4,377.4 182.6,376.1 188.8,374.8 195,369.2 201.1,369.2 207.3,367.7 213.5,360.9 219.7,357 225.8,357 232,352.7 238.2,352.7 244.4,347.9 250.5,342.5 256.7,339.5 262.9,339.5 269,339.5 275.2,332.7 281.4,328.8 287.6,324.5 293.7,314.3 299.9,314.3 306.1,314.3 312.3,314.3 318.4,308 324.6,300.6 330.8,291.5 337,291.5 343.1,291.5 349.3,291.5 355.5,279.8 361.7,263.3 367.8,263.3 374,263.3 380.2,235.1 386.3,235.1 392.5,235.1 398.7,235.1 404.9,235.1 411,235.1M151.8,379.8 157.9,378.6 164.1,374.8 170.3,373.5 176.4,372.1 182.6,370.7 188.8,369.2 195,364.4 201.1,359 207.3,352.7 213.5,345.3 219.7,345.3 225.8,345.3 232,342.5 238.2,342.5 244.4,339.5 250.5,339.5 256.7,339.5 262.9,332.7 269,332.7 275.2,328.8 281.4,324.5 287.6,314.3 293.7,308 299.9,291.5 306.1,291.5 312.3,279.8 318.4,279.8 324.6,263.3 330.8,263.3 337,263.3 343.1,263.3 349.3,263.3 355.5,263.3 361.7,263.3 367.8,263.3 374,263.3 380.2,235.1 386.3,235.1 392.5,235.1 398.7,235.1 404.9,235.1 411,235.1M151.8,372.1 157.9,370.7 164.1,369.2 170.3,366.1 176.4,362.7 182.6,359 188.8,357 195,352.7 201.1,350.4 207.3,350.4 213.5,347.9 219.7,347.9 225.8,345.3 232,342.5 238.2,342.5 244.4,339.5 250.5,339.5 256.7,336.2 262.9,336.2 269,332.7 275.2,328.8 281.4,324.5 287.6,319.7 293.7,319.7 299.9,319.7 306.1,319.7 312.3,314.3 318.4,314.3 324.6,314.3 330.8,308 337,308 343.1,300.6 349.3,263.3 355.5,263.3 361.7,263.3 367.8,263.3 374,263.3 380.2,263.3 386.3,263.3 392.5,263.3 398.7,263.3 404.9,263.3 411,235.1 417.2,235.1 423.4,235.1M151.8,374.8 157.9,374.8 164.1,373.5 170.3,370.7 176.4,370.7 182.6,366.1 188.8,360.9 195,357 201.1,354.9 207.3,352.7 213.5,347.9 219.7,345.3 225.8,342.5 232,332.7 238.2,332.7 244.4,332.7 250.5,324.5 256.7,324.5 262.9,319.7 269,314.3 275.2,314.3 281.4,314.3 287.6,314.3 293.7,314.3 299.9,300.6 306.1,300.6 312.3,300.6 318.4,300.6 324.6,300.6 330.8,300.6 337,300.6 343.1,279.8 349.3,279.8 355.5,279.8 361.7,263.3 367.8,263.3 374,263.3 380.2,263.3 386.3,263.3 392.5,263.3M151.8,383.1 157.9,383.1 164.1,382 170.3,382 176.4,382 182.6,377.4 188.8,374.8 195,372.1 201.1,369.2 207.3,366.1 213.5,364.4 219.7,359 225.8,357 232,357 238.2,357 244.4,357 250.5,354.9 256.7,347.9 262.9,347.9 269,345.3 275.2,336.2 281.4,332.7 287.6,328.8 293.7,319.7 299.9,319.7 306.1,319.7 312.3,319.7 318.4,319.7 324.6,319.7 330.8,314.3 337,314.3 343.1,314.3 349.3,314.3 355.5,314.3 361.7,314.3 367.8,308 374,300.6 380.2,291.5 386.3,279.8 392.5,279.8 398.7,279.8 404.9,263.3 411,263.3 417.2,263.3 423.4,235.1 429.6,235.1M151.8,393.5 157.9,392.6 164.1,390.9 170.3,390 176.4,390 182.6,388.2 188.8,384.2 195,380.9 201.1,379.8 207.3,378.6 213.5,374.8 219.7,372.1 225.8,370.7 232,367.7 238.2,360.9 244.4,357 250.5,354.9 256.7,352.7 262.9,342.5 269,342.5 275.2,342.5 281.4,339.5 287.6,336.2 293.7,324.5 299.9,324.5 306.1,319.7 312.3,319.7 318.4,319.7 324.6,308 330.8,300.6 337,300.6 343.1,291.5 349.3,291.5 355.5,279.8 361.7,279.8 367.8,263.3 374,263.3 380.2,263.3 386.3,263.3 392.5,263.3 398.7,263.3 404.9,263.3 411,235.1 417.2,235.1 423.4,235.1 429.6,235.1 435.7,235.1 441.9,235.1 448.1,235.1 454.3,235.1M151.8,386.2 157.9,384.2 164.1,383.1 170.3,380.9 176.4,377.4 182.6,376.1 188.8,374.8 195,370.7 201.1,369.2 207.3,367.7 213.5,362.7 219.7,360.9 225.8,359 232,357 238.2,354.9 244.4,352.7 250.5,347.9 256.7,345.3 262.9,345.3 269,345.3 275.2,342.5 281.4,336.2 287.6,332.7 293.7,332.7 299.9,328.8 306.1,324.5 312.3,314.3 318.4,291.5 324.6,291.5 330.8,291.5 337,291.5 343.1,291.5 349.3,279.8 355.5,279.8 361.7,263.3 367.8,235.1 374,235.1M151.8,380.9 157.9,378.6 164.1,376.1 170.3,370.7 176.4,367.7 182.6,362.7 188.8,359 195,354.9 201.1,354.9 207.3,352.7 213.5,347.9 219.7,345.3 225.8,345.3 232,345.3 238.2,342.5 244.4,332.7 250.5,328.8 256.7,328.8 262.9,314.3 269,314.3 275.2,314.3 281.4,314.3 287.6,314.3 293.7,300.6 299.9,279.8 306.1,279.8 312.3,263.3 318.4,263.3 324.6,263.3 330.8,235.1 337,235.1 343.1,235.1 349.3,235.1 355.5,235.1 361.7,235.1M151.8,379.8 157.9,379.8 164.1,376.1 170.3,372.1 176.4,366.1 182.6,366.1 188.8,366.1 195,362.7 201.1,360.9 207.3,357 213.5,352.7 219.7,350.4 225.8,342.5 232,336.2 238.2,328.8 244.4,324.5 250.5,324.5 256.7,300.6 262.9,291.5 269,279.8 275.2,279.8 281.4,279.8 287.6,279.8 293.7,279.8 299.9,279.8 306.1,279.8 312.3,279.8 318.4,279.8 324.6,279.8 330.8,279.8 337,279.8 343.1,279.8 349.3,279.8 355.5,279.8 361.7,279.8 367.8,279.8 374,279.8 380.2,279.8 386.3,279.8 392.5,279.8 398.7,279.8 404.9,279.8 411,263.3 417.2,235.1 423.4,235.1 429.6,235.1 435.7,235.1M151.8,387.2 157.9,385.2 164.1,382 170.3,379.8 176.4,379.8 182.6,376.1 188.8,374.8 195,372.1 201.1,367.7 207.3,364.4 213.5,357 219.7,354.9 225.8,352.7 232,347.9 238.2,345.3 244.4,339.5 250.5,339.5 256.7,328.8 262.9,324.5 269,300.6 275.2,291.5 281.4,279.8 287.6,279.8 293.7,263.3 299.9,263.3 306.1,263.3 312.3,263.3 318.4,235.1M151.8,385.2 157.9,384.2 164.1,378.6 170.3,378.6 176.4,373.5 182.6,362.7 188.8,362.7 195,357 201.1,357 207.3,354.9 213.5,350.4 219.7,347.9 225.8,345.3 232,342.5 238.2,339.5 244.4,332.7 250.5,328.8 256.7,328.8 262.9,324.5 269,314.3 275.2,314.3 281.4,314.3 287.6,314.3 293.7,308 299.9,308 306.1,308 312.3,308 318.4,300.6 324.6,300.6 330.8,300.6 337,300.6 343.1,291.5 349.3,291.5 355.5,235.1 361.7,235.1 367.8,235.1 374,235.1 380.2,235.1M151.8,367.7 157.9,367.7 164.1,364.4 170.3,359 176.4,354.9 182.6,352.7 188.8,345.3 195,342.5 201.1,342.5 207.3,339.5 213.5,332.7 219.7,328.8 225.8,324.5 232,314.3 238.2,314.3 244.4,314.3 250.5,314.3 256.7,314.3 262.9,314.3 269,314.3 275.2,314.3 281.4,308 287.6,308 293.7,308 299.9,291.5 306.1,291.5 312.3,291.5 318.4,279.8 324.6,279.8 330.8,263.3 337,235.1 343.1,235.1M151.8,385.2 157.9,384.2 164.1,378.6 170.3,378.6 176.4,378.6 182.6,376.1 188.8,372.1 195,372.1 201.1,370.7 207.3,369.2 213.5,366.1 219.7,364.4 225.8,359 232,359 238.2,359 244.4,354.9 250.5,352.7 256.7,350.4 262.9,342.5 269,342.5 275.2,342.5 281.4,339.5 287.6,328.8 293.7,324.5 299.9,324.5 306.1,319.7 312.3,314.3 318.4,314.3 324.6,314.3 330.8,300.6 337,291.5 343.1,291.5 349.3,279.8 355.5,235.1 361.7,235.1 367.8,235.1 374,235.1 380.2,235.1 386.3,235.1 392.5,235.1 398.7,235.1 404.9,235.1 411,235.1 417.2,235.1 423.4,235.1 429.6,235.1 435.7,235.1 441.9,235.1 448.1,235.1 454.3,235.1 460.4,235.1 466.6,235.1 472.8,235.1M151.8,370.7 157.9,370.7 164.1,367.7 170.3,362.7 176.4,360.9 182.6,357 188.8,357 195,352.7 201.1,347.9 207.3,328.8 213.5,328.8 219.7,328.8 225.8,319.7 232,319.7 238.2,314.3 244.4,314.3 250.5,314.3 256.7,314.3 262.9,314.3 269,308 275.2,308 281.4,279.8 287.6,279.8 293.7,279.8 299.9,279.8 306.1,235.1 312.3,235.1 318.4,235.1 324.6,235.1 330.8,235.1 337,235.1M151.8,397.4 157.9,396.7 164.1,395.9 170.3,395.1 176.4,389.1 182.6,387.2 188.8,385.2 195,383.1 201.1,378.6 207.3,377.4 213.5,372.1 219.7,370.7 225.8,366.1 232,366.1 238.2,360.9 244.4,359 250.5,354.9 256.7,352.7 262.9,352.7 269,347.9 275.2,347.9 281.4,342.5 287.6,342.5 293.7,332.7 299.9,324.5 306.1,324.5 312.3,319.7 318.4,308 324.6,300.6 330.8,291.5 337,291.5 343.1,291.5 349.3,291.5 355.5,291.5 361.7,291.5 367.8,279.8M151.8,390.9 157.9,390.9 164.1,390.9 170.3,387.2 176.4,385.2 182.6,383.1 188.8,379.8 195,377.4 201.1,374.8 207.3,370.7 213.5,369.2 219.7,369.2 225.8,364.4 232,362.7 238.2,360.9 244.4,359 250.5,354.9 256.7,352.7 262.9,350.4 269,350.4 275.2,345.3 281.4,345.3 287.6,339.5 293.7,332.7 299.9,328.8 306.1,328.8 312.3,328.8 318.4,328.8 324.6,328.8 330.8,328.8 337,328.8 343.1,324.5 349.3,324.5 355.5,319.7 361.7,308 367.8,300.6 374,300.6 380.2,279.8 386.3,279.8 392.5,279.8 398.7,279.8 404.9,279.8 411,279.8 417.2,263.3 423.4,235.1 429.6,235.1 435.7,235.1 441.9,235.1M151.8,384.2 157.9,383.1 164.1,382 170.3,380.9 176.4,379.8 182.6,374.8 188.8,372.1 195,369.2 201.1,367.7 207.3,362.7 213.5,360.9 219.7,359 225.8,359 232,359 238.2,359 244.4,357 250.5,350.4 256.7,347.9 262.9,345.3 269,345.3 275.2,332.7 281.4,328.8 287.6,324.5 293.7,324.5 299.9,324.5 306.1,324.5 312.3,319.7 318.4,319.7 324.6,314.3 330.8,314.3 337,314.3 343.1,314.3 349.3,300.6 355.5,300.6 361.7,300.6 367.8,291.5 374,279.8 380.2,235.1 386.3,235.1 392.5,235.1 398.7,235.1 404.9,235.1M151.8,389.1 157.9,389.1 164.1,386.2 170.3,385.2 176.4,380.9 182.6,379.8 188.8,379.8 195,376.1 201.1,372.1 207.3,370.7 213.5,367.7 219.7,362.7 225.8,359 232,357 238.2,354.9 244.4,350.4 250.5,350.4 256.7,345.3 262.9,342.5 269,332.7 275.2,332.7 281.4,328.8 287.6,324.5 293.7,319.7 299.9,308 306.1,308 312.3,308 318.4,300.6 324.6,300.6 330.8,300.6 337,291.5 343.1,291.5 349.3,291.5 355.5,291.5 361.7,263.3 367.8,235.1 374,235.1 380.2,235.1 386.3,235.1M151.8,383.1 157.9,383.1 164.1,379.8 170.3,376.1 176.4,373.5 182.6,369.2 188.8,367.7 195,359 201.1,354.9 207.3,350.4 213.5,350.4 219.7,347.9 225.8,347.9 232,345.3 238.2,342.5 244.4,342.5 250.5,339.5 256.7,336.2 262.9,336.2 269,332.7 275.2,324.5 281.4,319.7 287.6,314.3 293.7,314.3 299.9,314.3 306.1,308 312.3,308 318.4,308 324.6,291.5 330.8,291.5 337,291.5 343.1,291.5 349.3,279.8 355.5,279.8 361.7,279.8 367.8,263.3 374,263.3 380.2,263.3 386.3,263.3 392.5,235.1 398.7,235.1 404.9,235.1 411,235.1M151.8,390 157.9,390 164.1,387.2 170.3,383.1 176.4,378.6 182.6,377.4 188.8,376.1 195,374.8 201.1,373.5 207.3,372.1 213.5,367.7 219.7,364.4 225.8,360.9 232,359 238.2,357 244.4,350.4 250.5,347.9 256.7,342.5 262.9,336.2 269,336.2 275.2,336.2 281.4,332.7 287.6,332.7 293.7,332.7 299.9,332.7 306.1,328.8 312.3,324.5 318.4,324.5 324.6,314.3 330.8,300.6 337,291.5 343.1,291.5 349.3,291.5 355.5,291.5 361.7,291.5 367.8,291.5 374,235.1 380.2,235.1 386.3,235.1 392.5,235.1 398.7,235.1 404.9,235.1 411,235.1 417.2,235.1M151.8,383.1 157.9,382 164.1,380.9 170.3,379.8 176.4,378.6 182.6,374.8 188.8,372.1 195,370.7 201.1,367.7 207.3,364.4 213.5,360.9 219.7,359 225.8,354.9 232,354.9 238.2,352.7 244.4,352.7 250.5,347.9 256.7,345.3 262.9,339.5 269,339.5 275.2,332.7 281.4,324.5 287.6,324.5 293.7,324.5 299.9,308 306.1,308 312.3,308 318.4,308 324.6,308 330.8,308 337,308 343.1,308 349.3,308 355.5,308 361.7,300.6 367.8,291.5 374,279.8 380.2,263.3 386.3,263.3 392.5,263.3 398.7,263.3 404.9,235.1 411,235.1 417.2,235.1 423.4,235.1 429.6,235.1 435.7,235.1M151.8,376.1 157.9,374.8 164.1,369.2 170.3,364.4 176.4,362.7 182.6,359 188.8,359 195,352.7 201.1,347.9 207.3,345.3 213.5,342.5 219.7,336.2 225.8,336.2 232,332.7 238.2,332.7 244.4,324.5 250.5,314.3 256.7,314.3 262.9,300.6 269,300.6 275.2,291.5 281.4,279.8 287.6,279.8 293.7,279.8 299.9,279.8 306.1,279.8 312.3,279.8 318.4,279.8 324.6,263.3 330.8,263.3 337,235.1 343.1,235.1 349.3,235.1 355.5,235.1 361.7,235.1 367.8,235.1M151.8,379.8 157.9,379.8 164.1,376.1 170.3,369.2 176.4,367.7 182.6,366.1 188.8,366.1 195,362.7 201.1,362.7 207.3,359 213.5,357 219.7,354.9 225.8,354.9 232,347.9 238.2,345.3 244.4,342.5 250.5,342.5 256.7,339.5 262.9,339.5 269,336.2 275.2,332.7 281.4,332.7 287.6,328.8 293.7,328.8 299.9,319.7 306.1,319.7 312.3,314.3 318.4,314.3 324.6,314.3 330.8,308 337,300.6 343.1,291.5 349.3,291.5 355.5,291.5 361.7,263.3 367.8,263.3 374,235.1 380.2,235.1 386.3,235.1 392.5,235.1 398.7,235.1 404.9,235.1 411,235.1 417.2,235.1M151.8,380.9 157.9,380.9 164.1,379.8 170.3,377.4 176.4,372.1 182.6,364.4 188.8,364.4 195,360.9 201.1,354.9 207.3,352.7 213.5,345.3 219.7,339.5 225.8,336.2 232,336.2 238.2,336.2 244.4,332.7 250.5,328.8 256.7,324.5 262.9,324.5 269,324.5 275.2,314.3 281.4,314.3 287.6,314.3 293.7,314.3 299.9,314.3 306.1,314.3 312.3,314.3 318.4,308 324.6,300.6 330.8,300.6 337,291.5 343.1,291.5 349.3,279.8 355.5,279.8 361.7,279.8 367.8,279.8 374,279.8 380.2,263.3 386.3,263.3 392.5,263.3 398.7,235.1 404.9,235.1 411,235.1 417.2,235.1 423.4,235.1 429.6,235.1 435.7,235.1 441.9,235.1 448.1,235.1 454.3,235.1 460.4,235.1 466.6,235.1 472.8,235.1 479,235.1 485.1,235.1 491.3,235.1M151.8,383.1 157.9,383.1 164.1,378.6 170.3,374.8 176.4,372.1 182.6,370.7 188.8,367.7 195,366.1 201.1,360.9 207.3,354.9 213.5,354.9 219.7,354.9 225.8,352.7 232,350.4 238.2,345.3 244.4,345.3 250.5,345.3 256.7,345.3 262.9,339.5 269,332.7 275.2,332.7 281.4,319.7 287.6,319.7 293.7,314.3 299.9,314.3 306.1,314.3 312.3,314.3 318.4,314.3 324.6,314.3 330.8,308 337,308 343.1,291.5 349.3,291.5 355.5,291.5 361.7,279.8 367.8,279.8 374,263.3 380.2,263.3 386.3,263.3 392.5,263.3 398.7,235.1 404.9,235.1 411,235.1 417.2,235.1M151.8,384.2 157.9,384.2 164.1,382 170.3,377.4 176.4,373.5 182.6,372.1 188.8,370.7 195,369.2 201.1,364.4 207.3,359 213.5,352.7 219.7,350.4 225.8,347.9 232,345.3 238.2,345.3 244.4,345.3 250.5,342.5 256.7,336.2 262.9,332.7 269,332.7 275.2,328.8 281.4,324.5 287.6,324.5 293.7,314.3 299.9,300.6 306.1,300.6 312.3,300.6 318.4,300.6 324.6,300.6 330.8,300.6 337,300.6 343.1,291.5 349.3,291.5 355.5,291.5 361.7,291.5 367.8,279.8 374,279.8 380.2,279.8 386.3,279.8 392.5,279.8 398.7,279.8 404.9,279.8 411,263.3 417.2,263.3 423.4,263.3 429.6,263.3 435.7,235.1 441.9,235.1 448.1,235.1 454.3,235.1 460.4,235.1M151.8,382 157.9,382 164.1,376.1 170.3,372.1 176.4,370.7 182.6,366.1 188.8,366.1 195,366.1 201.1,357 207.3,357 213.5,357 219.7,350.4 225.8,345.3 232,342.5 238.2,339.5 244.4,336.2 250.5,332.7 256.7,332.7 262.9,319.7 269,319.7 275.2,319.7 281.4,314.3 287.6,314.3 293.7,314.3 299.9,300.6 306.1,291.5 312.3,291.5 318.4,279.8 324.6,263.3 330.8,263.3 337,263.3 343.1,263.3 349.3,263.3 355.5,263.3 361.7,235.1 367.8,235.1 374,235.1 380.2,235.1 386.3,235.1 392.5,235.1 398.7,235.1 404.9,235.1 411,235.1M151.8,382 157.9,379.8 164.1,376.1 170.3,376.1 176.4,374.8 182.6,369.2 188.8,364.4 195,362.7 201.1,362.7 207.3,354.9 213.5,350.4 219.7,345.3 225.8,342.5 232,342.5 238.2,342.5 244.4,332.7 250.5,328.8 256.7,319.7 262.9,314.3 269,308 275.2,308 281.4,308 287.6,308 293.7,308 299.9,308 306.1,300.6 312.3,300.6 318.4,300.6 324.6,300.6 330.8,291.5 337,279.8 343.1,279.8 349.3,279.8 355.5,263.3 361.7,263.3 367.8,263.3 374,263.3 380.2,263.3 386.3,235.1 392.5,235.1 398.7,235.1M151.8,377.4 157.9,377.4 164.1,374.8 170.3,370.7 176.4,366.1 182.6,366.1 188.8,364.4 195,362.7 201.1,357 207.3,352.7 213.5,347.9 219.7,345.3 225.8,345.3 232,342.5 238.2,342.5 244.4,339.5 250.5,336.2 256.7,336.2 262.9,332.7 269,332.7 275.2,328.8 281.4,328.8 287.6,324.5 293.7,324.5 299.9,324.5 306.1,314.3 312.3,314.3 318.4,314.3 324.6,300.6 330.8,300.6 337,300.6 343.1,291.5 349.3,291.5 355.5,291.5 361.7,291.5 367.8,291.5 374,279.8 380.2,279.8 386.3,279.8 392.5,279.8 398.7,263.3 404.9,263.3 411,235.1 417.2,235.1M151.8,377.4 157.9,376.1 164.1,372.1 170.3,369.2 176.4,366.1 182.6,362.7 188.8,360.9 195,359 201.1,357 207.3,357 213.5,350.4 219.7,345.3 225.8,345.3 232,345.3 238.2,345.3 244.4,339.5 250.5,336.2 256.7,336.2 262.9,336.2 269,328.8 275.2,328.8 281.4,328.8 287.6,319.7 293.7,319.7 299.9,319.7 306.1,314.3 312.3,314.3 318.4,308 324.6,308 330.8,291.5 337,291.5 343.1,291.5 349.3,291.5 355.5,291.5 361.7,263.3 367.8,263.3 374,263.3 380.2,263.3 386.3,263.3 392.5,263.3 398.7,263.3 404.9,263.3 411,263.3M151.8,377.4 157.9,377.4 164.1,374.8 170.3,370.7 176.4,369.2 182.6,364.4 188.8,360.9 195,360.9 201.1,352.7 207.3,350.4 213.5,347.9 219.7,347.9 225.8,347.9 232,345.3 238.2,342.5 244.4,332.7 250.5,332.7 256.7,332.7 262.9,328.8 269,324.5 275.2,324.5 281.4,314.3 287.6,314.3 293.7,314.3 299.9,300.6 306.1,291.5 312.3,291.5 318.4,291.5 324.6,291.5 330.8,291.5 337,291.5 343.1,291.5 349.3,291.5 355.5,291.5 361.7,291.5 367.8,263.3 374,263.3 380.2,263.3 386.3,263.3 392.5,263.3 398.7,235.1M151.8,386.2 157.9,385.2 164.1,383.1 170.3,378.6 176.4,372.1 182.6,369.2 188.8,369.2 195,367.7 201.1,366.1 207.3,360.9 213.5,357 219.7,352.7 225.8,352.7 232,345.3 238.2,342.5 244.4,336.2 250.5,332.7 256.7,328.8 262.9,328.8 269,319.7 275.2,314.3 281.4,308 287.6,300.6 293.7,300.6 299.9,300.6 306.1,291.5 312.3,291.5 318.4,279.8 324.6,279.8 330.8,263.3 337,263.3 343.1,235.1 349.3,235.1 355.5,235.1M151.8,377.4 157.9,377.4 164.1,374.8 170.3,373.5 176.4,373.5 182.6,372.1 188.8,367.7 195,366.1 201.1,354.9 207.3,352.7 213.5,347.9 219.7,345.3 225.8,342.5 232,339.5 238.2,339.5 244.4,336.2 250.5,332.7 256.7,332.7 262.9,332.7 269,324.5 275.2,314.3 281.4,308 287.6,300.6 293.7,300.6 299.9,291.5 306.1,279.8 312.3,279.8 318.4,279.8 324.6,279.8 330.8,279.8 337,279.8 343.1,279.8 349.3,279.8 355.5,279.8 361.7,279.8 367.8,279.8 374,279.8 380.2,279.8 386.3,279.8 392.5,263.3 398.7,235.1 404.9,235.1M151.8,382 157.9,382 164.1,380.9 170.3,380.9 176.4,377.4 182.6,374.8 188.8,373.5 195,370.7 201.1,370.7 207.3,369.2 213.5,366.1 219.7,366.1 225.8,360.9 232,360.9 238.2,357 244.4,357 250.5,354.9 256.7,345.3 262.9,339.5 269,336.2 275.2,332.7 281.4,324.5 287.6,314.3 293.7,314.3 299.9,308 306.1,308 312.3,308 318.4,308 324.6,291.5 330.8,291.5 337,279.8 343.1,279.8 349.3,279.8 355.5,279.8 361.7,279.8 367.8,279.8 374,279.8 380.2,279.8 386.3,279.8 392.5,279.8 398.7,263.3 404.9,235.1 411,235.1 417.2,235.1M151.8,390.9 157.9,390 164.1,388.2 170.3,384.2 176.4,382 182.6,380.9 188.8,378.6 195,376.1 201.1,373.5 207.3,372.1 213.5,370.7 219.7,369.2 225.8,364.4 232,362.7 238.2,354.9 244.4,350.4 250.5,345.3 256.7,345.3 262.9,339.5 269,339.5 275.2,339.5 281.4,336.2 287.6,336.2 293.7,336.2 299.9,328.8 306.1,324.5 312.3,324.5 318.4,314.3 324.6,308 330.8,308 337,308 343.1,300.6 349.3,279.8 355.5,279.8 361.7,279.8 367.8,279.8 374,279.8 380.2,263.3 386.3,263.3 392.5,263.3 398.7,263.3 404.9,263.3 411,263.3 417.2,263.3M151.8,374.8 157.9,374.8 164.1,372.1 170.3,367.7 176.4,362.7 182.6,360.9 188.8,359 195,354.9 201.1,354.9 207.3,354.9 213.5,354.9 219.7,354.9 225.8,352.7 232,350.4 238.2,347.9 244.4,342.5 250.5,339.5 256.7,332.7 262.9,328.8 269,324.5 275.2,324.5 281.4,319.7 287.6,319.7 293.7,319.7 299.9,314.3 306.1,314.3 312.3,308 318.4,308 324.6,300.6 330.8,291.5 337,291.5 343.1,291.5 349.3,279.8 355.5,263.3 361.7,263.3 367.8,263.3M151.8,384.2 157.9,382 164.1,379.8 170.3,378.6 176.4,377.4 182.6,374.8 188.8,374.8 195,372.1 201.1,370.7 207.3,369.2 213.5,367.7 219.7,364.4 225.8,360.9 232,352.7 238.2,350.4 244.4,339.5 250.5,339.5 256.7,336.2 262.9,332.7 269,332.7 275.2,332.7 281.4,328.8 287.6,328.8 293.7,328.8 299.9,314.3 306.1,308 312.3,308 318.4,308 324.6,300.6 330.8,300.6 337,291.5 343.1,291.5 349.3,279.8 355.5,279.8 361.7,279.8 367.8,279.8 374,235.1 380.2,235.1 386.3,235.1 392.5,235.1M151.8,385.2 157.9,384.2 164.1,380.9 170.3,376.1 176.4,372.1 182.6,367.7 188.8,366.1 195,364.4 201.1,359 207.3,359 213.5,352.7 219.7,352.7 225.8,352.7 232,352.7 238.2,350.4 244.4,345.3 250.5,342.5 256.7,336.2 262.9,336.2 269,332.7 275.2,332.7 281.4,319.7 287.6,314.3 293.7,308 299.9,300.6 306.1,300.6 312.3,291.5 318.4,279.8 324.6,279.8 330.8,279.8 337,279.8 343.1,279.8 349.3,279.8 355.5,279.8 361.7,279.8 367.8,279.8 374,279.8 380.2,235.1 386.3,235.1 392.5,235.1 398.7,235.1 404.9,235.1M151.8,390 157.9,389.1 164.1,386.2 170.3,385.2 176.4,384.2 182.6,382 188.8,378.6 195,372.1 201.1,367.7 207.3,364.4 213.5,360.9 219.7,354.9 225.8,354.9 232,350.4 238.2,345.3 244.4,339.5 250.5,336.2 256.7,328.8 262.9,324.5 269,324.5 275.2,314.3 281.4,314.3 287.6,308 293.7,308 299.9,308 306.1,308 312.3,308 318.4,291.5 324.6,291.5 330.8,279.8 337,279.8 343.1,263.3 349.3,263.3 355.5,235.1M151.8,386.2 157.9,385.2 164.1,379.8 170.3,377.4 176.4,373.5 182.6,373.5 188.8,370.7 195,369.2 201.1,366.1 207.3,362.7 213.5,360.9 219.7,359 225.8,354.9 232,354.9 238.2,352.7 244.4,350.4 250.5,347.9 256.7,347.9 262.9,347.9 269,342.5 275.2,339.5 281.4,332.7 287.6,324.5 293.7,324.5 299.9,308 306.1,308 312.3,308 318.4,300.6 324.6,300.6 330.8,291.5 337,291.5 343.1,291.5 349.3,279.8 355.5,279.8 361.7,279.8 367.8,279.8 374,279.8 380.2,279.8 386.3,279.8 392.5,279.8 398.7,279.8 404.9,279.8 411,279.8 417.2,279.8 423.4,263.3 429.6,235.1 435.7,235.1 441.9,235.1M151.8,387.2 157.9,386.2 164.1,384.2 170.3,380.9 176.4,379.8 182.6,377.4 188.8,376.1 195,372.1 201.1,370.7 207.3,366.1 213.5,362.7 219.7,360.9 225.8,359 232,357 238.2,350.4 244.4,347.9 250.5,347.9 256.7,345.3 262.9,336.2 269,328.8 275.2,324.5 281.4,324.5 287.6,324.5 293.7,314.3 299.9,308 306.1,308 312.3,300.6 318.4,300.6 324.6,300.6 330.8,300.6 337,300.6 343.1,291.5 349.3,279.8 355.5,263.3 361.7,263.3 367.8,263.3 374,263.3 380.2,263.3 386.3,263.3 392.5,263.3 398.7,263.3 404.9,263.3 411,263.3 417.2,235.1M151.8,386.2 157.9,385.2 164.1,383.1 170.3,378.6 176.4,377.4 182.6,377.4 188.8,372.1 195,366.1 201.1,359 207.3,350.4 213.5,347.9 219.7,342.5 225.8,339.5 232,336.2 238.2,332.7 244.4,324.5 250.5,324.5 256.7,324.5 262.9,314.3 269,300.6 275.2,300.6 281.4,300.6 287.6,300.6 293.7,300.6 299.9,300.6 306.1,291.5 312.3,291.5 318.4,291.5 324.6,291.5 330.8,291.5 337,263.3 343.1,263.3 349.3,235.1 355.5,235.1 361.7,235.1 367.8,235.1 374,235.1M151.8,380.9 157.9,379.8 164.1,377.4 170.3,376.1 176.4,373.5 182.6,370.7 188.8,367.7 195,364.4 201.1,359 207.3,357 213.5,352.7 219.7,352.7 225.8,345.3 232,342.5 238.2,339.5 244.4,339.5 250.5,336.2 256.7,332.7 262.9,332.7 269,328.8 275.2,324.5 281.4,319.7 287.6,314.3 293.7,314.3 299.9,291.5 306.1,291.5 312.3,291.5 318.4,263.3 324.6,235.1 330.8,235.1 337,235.1 343.1,235.1 349.3,235.1 355.5,235.1 361.7,235.1 367.8,235.1 374,235.1 380.2,235.1 386.3,235.1 392.5,235.1 398.7,235.1 404.9,235.1 411,235.1M151.8,387.2 157.9,386.2 164.1,384.2 170.3,383.1 176.4,380.9 182.6,379.8 188.8,376.1 195,373.5 201.1,370.7 207.3,366.1 213.5,360.9 219.7,360.9 225.8,359 232,359 238.2,354.9 244.4,347.9 250.5,347.9 256.7,345.3 262.9,339.5 269,332.7 275.2,328.8 281.4,324.5 287.6,324.5 293.7,319.7 299.9,319.7 306.1,319.7 312.3,308 318.4,308 324.6,308 330.8,308 337,291.5 343.1,291.5 349.3,279.8 355.5,263.3 361.7,263.3 367.8,235.1M151.8,362.7 157.9,362.7 164.1,360.9 170.3,359 176.4,357 182.6,357 188.8,357 195,354.9 201.1,347.9 207.3,347.9 213.5,345.3 219.7,336.2 225.8,332.7 232,332.7 238.2,328.8 244.4,328.8 250.5,328.8 256.7,324.5 262.9,319.7 269,319.7 275.2,319.7 281.4,319.7 287.6,319.7 293.7,314.3 299.9,308 306.1,300.6 312.3,300.6 318.4,300.6 324.6,300.6 330.8,300.6 337,300.6 343.1,263.3 349.3,263.3 355.5,263.3 361.7,235.1 367.8,235.1 374,235.1 380.2,235.1 386.3,235.1 392.5,235.1 398.7,235.1 404.9,235.1 411,235.1 417.2,235.1 423.4,235.1 429.6,235.1 435.7,235.1M151.8,376.1 157.9,376.1 164.1,372.1 170.3,366.1 176.4,366.1 182.6,364.4 188.8,362.7 195,360.9 201.1,359 207.3,359 213.5,357 219.7,350.4 225.8,345.3 232,339.5 238.2,328.8 244.4,324.5 250.5,324.5 256.7,319.7 262.9,319.7 269,300.6 275.2,300.6 281.4,300.6 287.6,291.5 293.7,279.8 299.9,279.8 306.1,235.1 312.3,235.1 318.4,235.1M151.8,390.9 157.9,389.1 164.1,385.2 170.3,384.2 176.4,380.9 182.6,378.6 188.8,378.6 195,376.1 201.1,373.5 207.3,370.7 213.5,369.2 219.7,367.7 225.8,366.1 232,366.1 238.2,364.4 244.4,360.9 250.5,357 256.7,350.4 262.9,350.4 269,339.5 275.2,339.5 281.4,339.5 287.6,336.2 293.7,328.8 299.9,324.5 306.1,324.5 312.3,314.3 318.4,314.3 324.6,314.3 330.8,300.6 337,300.6 343.1,291.5 349.3,263.3 355.5,263.3 361.7,263.3 367.8,263.3 374,263.3 380.2,263.3 386.3,235.1 392.5,235.1 398.7,235.1 404.9,235.1 411,235.1 417.2,235.1 423.4,235.1 429.6,235.1 435.7,235.1 441.9,235.1 448.1,235.1M151.8,379.8 157.9,379.8 164.1,378.6 170.3,377.4 176.4,370.7 182.6,369.2 188.8,366.1 195,360.9 201.1,359 207.3,352.7 213.5,345.3 219.7,339.5 225.8,332.7 232,328.8 238.2,319.7 244.4,308 250.5,308 256.7,308 262.9,308 269,300.6 275.2,291.5 281.4,291.5 287.6,279.8 293.7,263.3 299.9,263.3 306.1,263.3 312.3,263.3 318.4,263.3 324.6,263.3 330.8,235.1 337,235.1 343.1,235.1 349.3,235.1 355.5,235.1M151.8,378.6 157.9,377.4 164.1,373.5 170.3,373.5 176.4,370.7 182.6,366.1 188.8,366.1 195,362.7 201.1,359 207.3,357 213.5,354.9 219.7,354.9 225.8,354.9 232,352.7 238.2,347.9 244.4,347.9 250.5,339.5 256.7,339.5 262.9,336.2 269,332.7 275.2,324.5 281.4,324.5 287.6,324.5 293.7,319.7 299.9,319.7 306.1,319.7 312.3,319.7 318.4,319.7 324.6,314.3 330.8,300.6 337,300.6 343.1,291.5 349.3,279.8 355.5,263.3 361.7,263.3 367.8,263.3 374,235.1 380.2,235.1 386.3,235.1 392.5,235.1 398.7,235.1 404.9,235.1M151.8,390.9 157.9,390.9 164.1,389.1 170.3,386.2 176.4,386.2 182.6,386.2 188.8,382 195,377.4 201.1,373.5 207.3,372.1 213.5,366.1 219.7,364.4 225.8,362.7 232,362.7 238.2,362.7 244.4,354.9 250.5,350.4 256.7,347.9 262.9,345.3 269,339.5 275.2,336.2 281.4,332.7 287.6,324.5 293.7,324.5 299.9,314.3 306.1,314.3 312.3,308 318.4,308 324.6,308 330.8,308 337,300.6 343.1,300.6 349.3,300.6 355.5,300.6 361.7,291.5 367.8,291.5 374,291.5 380.2,291.5 386.3,291.5 392.5,291.5 398.7,291.5 404.9,291.5 411,291.5 417.2,291.5 423.4,279.8 429.6,279.8 435.7,263.3 441.9,263.3 448.1,263.3 454.3,263.3 460.4,235.1 466.6,235.1 472.8,235.1 479,235.1 485.1,235.1 491.3,235.1M151.8,380.9 157.9,378.6 164.1,376.1 170.3,372.1 176.4,367.7 182.6,366.1 188.8,364.4 195,357 201.1,354.9 207.3,352.7 213.5,347.9 219.7,345.3 225.8,345.3 232,345.3 238.2,339.5 244.4,332.7 250.5,332.7 256.7,332.7 262.9,324.5 269,319.7 275.2,308 281.4,300.6 287.6,300.6 293.7,291.5 299.9,291.5 306.1,291.5 312.3,291.5 318.4,291.5 324.6,291.5 330.8,291.5 337,263.3 343.1,263.3 349.3,263.3 355.5,263.3 361.7,263.3 367.8,263.3 374,263.3 380.2,235.1 386.3,235.1 392.5,235.1 398.7,235.1 404.9,235.1 411,235.1 417.2,235.1 423.4,235.1M151.8,385.2 157.9,384.2 164.1,380.9 170.3,378.6 176.4,376.1 182.6,376.1 188.8,373.5 195,369.2 201.1,364.4 207.3,360.9 213.5,357 219.7,352.7 225.8,352.7 232,345.3 238.2,345.3 244.4,342.5 250.5,328.8 256.7,328.8 262.9,324.5 269,324.5 275.2,319.7 281.4,319.7 287.6,319.7 293.7,314.3 299.9,300.6 306.1,300.6 312.3,300.6 318.4,300.6 324.6,300.6 330.8,300.6 337,279.8 343.1,279.8 349.3,279.8 355.5,279.8 361.7,279.8 367.8,279.8 374,279.8 380.2,279.8 386.3,279.8 392.5,279.8 398.7,279.8 404.9,279.8 411,263.3 417.2,235.1 423.4,235.1 429.6,235.1 435.7,235.1 441.9,235.1 448.1,235.1 454.3,235.1 460.4,235.1 466.6,235.1M151.8,377.4 157.9,377.4 164.1,370.7 170.3,366.1 176.4,366.1 182.6,366.1 188.8,364.4 195,364.4 201.1,360.9 207.3,357 213.5,357 219.7,350.4 225.8,347.9 232,347.9 238.2,339.5 244.4,336.2 250.5,332.7 256.7,328.8 262.9,319.7 269,314.3 275.2,314.3 281.4,314.3 287.6,314.3 293.7,300.6 299.9,300.6 306.1,300.6 312.3,300.6 318.4,300.6 324.6,291.5 330.8,291.5 337,291.5 343.1,263.3 349.3,235.1 355.5,235.1 361.7,235.1M151.8,391.8 157.9,390.9 164.1,389.1 170.3,384.2 176.4,384.2 182.6,380.9 188.8,379.8 195,378.6 201.1,374.8 207.3,374.8 213.5,372.1 219.7,370.7 225.8,370.7 232,364.4 238.2,364.4 244.4,360.9 250.5,352.7 256.7,345.3 262.9,339.5 269,328.8 275.2,328.8 281.4,324.5 287.6,319.7 293.7,319.7 299.9,319.7 306.1,319.7 312.3,319.7 318.4,319.7 324.6,319.7 330.8,308 337,308 343.1,308 349.3,308 355.5,300.6 361.7,300.6 367.8,291.5 374,279.8 380.2,279.8 386.3,279.8 392.5,235.1 398.7,235.1 404.9,235.1 411,235.1 417.2,235.1 423.4,235.1 429.6,235.1 435.7,235.1M151.8,378.6 157.9,376.1 164.1,370.7 170.3,362.7 176.4,362.7 182.6,359 188.8,352.7 195,352.7 201.1,345.3 207.3,345.3 213.5,342.5 219.7,342.5 225.8,342.5 232,339.5 238.2,339.5 244.4,332.7 250.5,332.7 256.7,319.7 262.9,319.7 269,300.6 275.2,279.8 281.4,263.3 287.6,235.1 293.7,235.1M151.8,393.5 157.9,393.5 164.1,389.1 170.3,386.2 176.4,378.6 182.6,378.6 188.8,378.6 195,376.1 201.1,373.5 207.3,367.7 213.5,362.7 219.7,354.9 225.8,345.3 232,342.5 238.2,339.5 244.4,339.5 250.5,339.5 256.7,336.2 262.9,336.2 269,336.2 275.2,332.7 281.4,328.8 287.6,324.5 293.7,314.3 299.9,300.6 306.1,300.6 312.3,300.6 318.4,300.6 324.6,263.3 330.8,263.3 337,263.3 343.1,235.1 349.3,235.1 355.5,235.1 361.7,235.1 367.8,235.1 374,235.1M151.8,391.8 157.9,391.8 164.1,387.2 170.3,386.2 176.4,382 182.6,380.9 188.8,379.8 195,377.4 201.1,373.5 207.3,369.2 213.5,362.7 219.7,362.7 225.8,362.7 232,359 238.2,357 244.4,354.9 250.5,352.7 256.7,350.4 262.9,350.4 269,342.5 275.2,332.7 281.4,328.8 287.6,319.7 293.7,314.3 299.9,308 306.1,308 312.3,308 318.4,308 324.6,300.6 330.8,300.6 337,300.6 343.1,300.6 349.3,300.6 355.5,300.6 361.7,300.6 367.8,291.5 374,279.8 380.2,279.8 386.3,279.8 392.5,263.3 398.7,263.3 404.9,235.1 411,235.1 417.2,235.1 423.4,235.1 429.6,235.1 435.7,235.1 441.9,235.1 448.1,235.1M151.8,385.2 157.9,383.1 164.1,383.1 170.3,378.6 176.4,374.8 182.6,372.1 188.8,366.1 195,362.7 201.1,362.7 207.3,354.9 213.5,354.9 219.7,347.9 225.8,342.5 232,342.5 238.2,339.5 244.4,339.5 250.5,332.7 256.7,332.7 262.9,319.7 269,314.3 275.2,314.3 281.4,291.5 287.6,291.5 293.7,291.5 299.9,291.5 306.1,279.8 312.3,279.8 318.4,263.3 324.6,235.1 330.8,235.1 337,235.1 343.1,235.1 349.3,235.1 355.5,235.1M151.8,386.2 157.9,384.2 164.1,378.6 170.3,373.5 176.4,373.5 182.6,370.7 188.8,369.2 195,362.7 201.1,354.9 207.3,352.7 213.5,350.4 219.7,350.4 225.8,350.4 232,347.9 238.2,345.3 244.4,342.5 250.5,342.5 256.7,336.2 262.9,336.2 269,332.7 275.2,324.5 281.4,324.5 287.6,324.5 293.7,324.5 299.9,319.7 306.1,314.3 312.3,308 318.4,308 324.6,308 330.8,300.6 337,291.5 343.1,291.5 349.3,279.8 355.5,263.3 361.7,263.3 367.8,263.3 374,263.3 380.2,263.3 386.3,263.3 392.5,263.3 398.7,263.3 404.9,263.3 411,263.3 417.2,235.1 423.4,235.1M151.8,384.2 157.9,383.1 164.1,383.1 170.3,382 176.4,380.9 182.6,379.8 188.8,377.4 195,372.1 201.1,369.2 207.3,366.1 213.5,366.1 219.7,364.4 225.8,364.4 232,362.7 238.2,354.9 244.4,350.4 250.5,350.4 256.7,347.9 262.9,342.5 269,336.2 275.2,328.8 281.4,328.8 287.6,324.5 293.7,324.5 299.9,319.7 306.1,314.3 312.3,300.6 318.4,300.6 324.6,300.6 330.8,291.5 337,291.5 343.1,291.5 349.3,291.5 355.5,291.5 361.7,291.5 367.8,291.5 374,291.5 380.2,279.8 386.3,279.8 392.5,279.8 398.7,279.8 404.9,279.8 411,263.3 417.2,263.3M151.8,374.8 157.9,373.5 164.1,370.7 170.3,366.1 176.4,364.4 182.6,364.4 188.8,362.7 195,360.9 201.1,360.9 207.3,360.9 213.5,360.9 219.7,354.9 225.8,352.7 232,342.5 238.2,336.2 244.4,328.8 250.5,324.5 256.7,314.3 262.9,308 269,308 275.2,300.6 281.4,291.5 287.6,279.8 293.7,279.8 299.9,279.8 306.1,279.8 312.3,279.8 318.4,279.8 324.6,279.8 330.8,279.8 337,263.3 343.1,263.3 349.3,263.3 355.5,235.1 361.7,235.1 367.8,235.1 374,235.1 380.2,235.1 386.3,235.1 392.5,235.1 398.7,235.1 404.9,235.1 411,235.1 417.2,235.1M151.8,377.4 157.9,377.4 164.1,374.8 170.3,373.5 176.4,370.7 182.6,370.7 188.8,367.7 195,367.7 201.1,362.7 207.3,360.9 213.5,359 219.7,350.4 225.8,347.9 232,342.5 238.2,336.2 244.4,332.7 250.5,328.8 256.7,328.8 262.9,324.5 269,319.7 275.2,319.7 281.4,319.7 287.6,314.3 293.7,314.3 299.9,308 306.1,308 312.3,308 318.4,300.6 324.6,300.6 330.8,300.6 337,300.6 343.1,279.8 349.3,279.8 355.5,263.3 361.7,263.3 367.8,263.3 374,263.3 380.2,263.3 386.3,235.1 392.5,235.1 398.7,235.1 404.9,235.1 411,235.1 417.2,235.1 423.4,235.1 429.6,235.1 435.7,235.1 441.9,235.1 448.1,235.1 454.3,235.1 460.4,235.1 466.6,235.1 472.8,235.1 479,235.1 485.1,235.1M151.8,373.5 157.9,373.5 164.1,370.7 170.3,370.7 176.4,364.4 182.6,362.7 188.8,354.9 195,352.7 201.1,345.3 207.3,342.5 213.5,342.5 219.7,332.7 225.8,328.8 232,319.7 238.2,319.7 244.4,314.3 250.5,314.3 256.7,308 262.9,300.6 269,279.8 275.2,279.8 281.4,279.8 287.6,263.3 293.7,263.3 299.9,263.3 306.1,263.3 312.3,263.3 318.4,263.3 324.6,263.3 330.8,263.3 337,235.1 343.1,235.1 349.3,235.1 355.5,235.1 361.7,235.1 367.8,235.1 374,235.1 380.2,235.1 386.3,235.1 392.5,235.1 398.7,235.1 404.9,235.1 411,235.1 417.2,235.1M151.8,384.2 157.9,383.1 164.1,383.1 170.3,383.1 176.4,378.6 182.6,373.5 188.8,369.2 195,364.4 201.1,359 207.3,354.9 213.5,352.7 219.7,352.7 225.8,350.4 232,350.4 238.2,345.3 244.4,342.5 250.5,339.5 256.7,339.5 262.9,332.7 269,328.8 275.2,324.5 281.4,308 287.6,308 293.7,300.6 299.9,300.6 306.1,300.6 312.3,300.6 318.4,300.6 324.6,300.6 330.8,300.6 337,300.6 343.1,300.6 349.3,300.6 355.5,291.5 361.7,291.5 367.8,263.3 374,263.3 380.2,263.3 386.3,263.3 392.5,263.3 398.7,263.3 404.9,263.3 411,263.3 417.2,263.3 423.4,263.3 429.6,263.3 435.7,235.1M151.8,378.6 157.9,376.1 164.1,376.1 170.3,373.5 176.4,367.7 182.6,362.7 188.8,362.7 195,360.9 201.1,357 207.3,357 213.5,352.7 219.7,350.4 225.8,345.3 232,342.5 238.2,339.5 244.4,339.5 250.5,339.5 256.7,339.5 262.9,336.2 269,328.8 275.2,324.5 281.4,314.3 287.6,314.3 293.7,308 299.9,308 306.1,308 312.3,308 318.4,308 324.6,308 330.8,300.6 337,291.5 343.1,291.5 349.3,291.5 355.5,263.3 361.7,235.1 367.8,235.1 374,235.1 380.2,235.1 386.3,235.1 392.5,235.1 398.7,235.1 404.9,235.1 411,235.1 417.2,235.1 423.4,235.1M151.8,383.1 157.9,383.1 164.1,382 170.3,380.9 176.4,377.4 182.6,374.8 188.8,374.8 195,370.7 201.1,367.7 207.3,362.7 213.5,360.9 219.7,359 225.8,352.7 232,352.7 238.2,350.4 244.4,347.9 250.5,345.3 256.7,342.5 262.9,339.5 269,336.2 275.2,332.7 281.4,332.7 287.6,332.7 293.7,324.5 299.9,324.5 306.1,319.7 312.3,319.7 318.4,314.3 324.6,314.3 330.8,308 337,308 343.1,291.5 349.3,291.5 355.5,291.5 361.7,291.5 367.8,279.8 374,263.3 380.2,263.3 386.3,235.1" stroke="#008000" stroke-opacity="0.135" stroke-width="0.9" stroke-dasharray="4 2"/>
<path d="M151.7,370.5 165.4,364.8 172.2,360.2 185.9,353.4 199.6,346.5 206.5,338 218.4,335.4 226.1,328.6 239,320 250,313.5 260,304.8 272.4,299.8 274.9,286.1 278.7,279.8 291.1,276.1 296.1,262.4 306.1,254.9 315.3,235.5 491.3,235.5M175.7,388.4 218.4,367.9 232.1,361.1 245.8,357.3 256.4,350.5 275,342.5 299,335.9 309.6,334.5 320,330.5 325.8,328.7 339.7,322.2 352.2,318.5 359.7,308.5 372.1,304.8 379.6,296 385.8,292.3 402,291 409.5,281.1 421,274.7 423.5,264.7 444.7,263.5 449.7,252.2 457.1,251.5 464.1,235.3 491.3,235.3" stroke="#008000" stroke-width="1.7" stroke-dasharray="6.2 2.7"/>
<path d="M151.7,384.7 172.2,375.6 213.3,356.8 259.5,334.5 267.4,329.7 294.9,312.2 324.8,297.3 349.7,281.1 367.1,264.9 378.5,252.3 389.6,246.2 399.8,234.8 412.3,221.1 421,207.4 427.2,201.2 434.7,189.9 439.7,180 445.9,173.5" stroke="#008000" stroke-width="2.9"/>
<path d="M189.3,389.3 259.5,353.4 301.1,329.7 324.8,316 349.7,299.8 374.6,281.1 399.5,258.6 409.6,248 424.7,233.6 449.7,202.4 467.5,173.5" stroke="#0000ff" stroke-width="2.9"/>
<path d="M174,389.3 213.3,369.6 259.5,345.7 287.4,329.7 324.8,308.5 349.7,292.3 374.6,273.6 399.5,252.4 409.5,243.7 414.8,238.5 427.2,227.3 444.7,207.4 457.1,189.9 468.3,173.5" stroke="#ff0000" stroke-width="2.9"/>
<path d="M151.7,374.7 156,372.2 160.3,369.6 164.5,368.4 171.4,364.5 185.1,364.1 196.2,361.1 203.9,355.1 215.9,354.7 222.7,348.2 228.7,347.4 234.7,332.8 247.5,332.5 254.8,319.7 265.9,308.5 278.4,308 284.5,301.3 291.7,300 296.5,263.6 340.4,263.6 346.3,235.1 384.3,235.1" stroke="#000" stroke-width="2.7" stroke-linejoin="miter"/>
</g>
<rect x="151.75" y="173.50" width="339.55" height="215.60" fill="none" stroke="#000" stroke-width="1"/>
<text x="151.8" y="404.6" font-size="12" text-anchor="middle">40</text>
<text x="213.5" y="404.6" font-size="12" text-anchor="middle">60</text>
<text x="275.2" y="404.6" font-size="12" text-anchor="middle">80</text>
<text x="337.0" y="404.6" font-size="12" text-anchor="middle">100</text>
<text x="398.7" y="404.6" font-size="12" text-anchor="middle">120</text>
<text x="460.4" y="404.6" font-size="12" text-anchor="middle">140</text>
<text x="144.8" y="393.5" font-size="12" text-anchor="end">1</text>
<text x="144.8" y="365.3" font-size="12" text-anchor="end">2</text>
<text x="144.8" y="348.8" font-size="12" text-anchor="end">3</text>
<text x="144.8" y="328.0" font-size="12" text-anchor="end">5</text>
<text x="144.8" y="299.8" font-size="12" text-anchor="end">10</text>
<text x="144.8" y="283.3" font-size="12" text-anchor="end">15</text>
<text x="144.8" y="262.5" font-size="12" text-anchor="end">25</text>
<text x="144.8" y="234.3" font-size="12" text-anchor="end">50</text>
<text x="144.8" y="206.1" font-size="12" text-anchor="end">100</text>
<text x="144.8" y="177.9" font-size="12" text-anchor="end">200</text>
<path d="M151.8,389.1v3.6M213.5,389.1v3.6M275.2,389.1v3.6M337.0,389.1v3.6M398.7,389.1v3.6M460.4,389.1v3.6M151.8,389.1h-3.6M151.8,360.9h-3.6M151.8,344.4h-3.6M151.8,323.6h-3.6M151.8,295.4h-3.6M151.8,278.9h-3.6M151.8,258.1h-3.6M151.8,229.9h-3.6M151.8,201.7h-3.6M151.8,173.5h-3.6" stroke="#000" stroke-width="0.9"/>
<text x="321.5" y="418.8" font-size="12" text-anchor="middle">Max. Wind (knots)</text>
<text transform="translate(116.8,281.3) rotate(-90)" font-size="12" text-anchor="middle">Return Period (Years)</text>
<rect x="156.3" y="176.8" width="29.6" height="22.6" rx="3.6" ry="3.6" fill="#f0f0f0" fill-opacity="0.92" stroke="#858585" stroke-width="1.3"/>
<text x="160.4" y="191.9" font-size="14.2" font-weight="bold">(c)</text>
<rect x="301.6" y="361.6" width="188" height="22.4" rx="3.2" ry="3.2" fill="#f0f0f0" fill-opacity="0.92" stroke="#8a8a8a" stroke-width="1.2"/>
<text x="306.2" y="377.6" font-size="13.85">100-km within Hong Kong</text>
<rect x="504.5" y="243.6" width="109.7" height="74.9" rx="2.4" ry="2.4" fill="#fff" fill-opacity="0.8" stroke="#ccc" stroke-width="1"/>
<path d="M508.1,253.6H535.2" stroke="#008000" stroke-width="2.7"/>
<text x="544.2" y="257.9" font-size="12">ERA5</text>
<path d="M508.1,271.5H535.2" stroke="#0000ff" stroke-width="2.7"/>
<text x="544.2" y="275.8" font-size="12">PI-Control</text>
<path d="M508.1,289.3H535.2" stroke="#ff0000" stroke-width="2.7"/>
<text x="544.2" y="293.7" font-size="12">2050-2100</text>
<path d="M508.1,307.2H535.2" stroke="#000" stroke-width="2.7"/>
<text x="544.2" y="311.6" font-size="12">IBTrACS</text>
</svg></body></html>
